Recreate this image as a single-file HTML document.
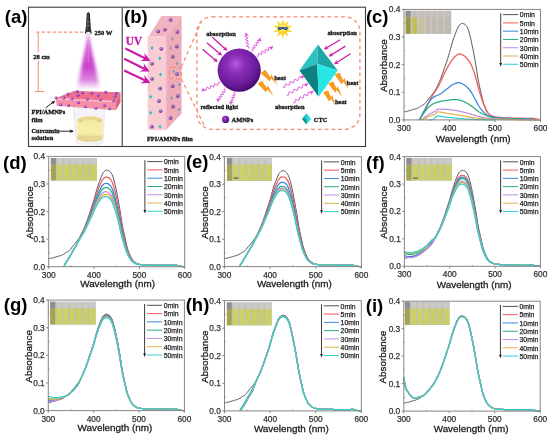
<!DOCTYPE html><html><head><meta charset="utf-8"><style>
html,body{margin:0;padding:0;background:#fff;overflow:hidden}
svg{display:block}
.tk{font-family:"Liberation Sans",Arial,sans-serif;font-size:8.3px;fill:#333;stroke:#333;stroke-width:0.25px}
.ax{font-family:"Liberation Sans",Arial,sans-serif;font-size:9.9px;fill:#222;stroke:#222;stroke-width:0.3px}
.lg{font-family:"Liberation Sans",Arial,sans-serif;font-size:7.5px;fill:#222;stroke:#222;stroke-width:0.25px}
.pl{font-family:"Liberation Sans",Arial,sans-serif;font-size:18.5px;font-weight:bold;fill:#000}
.sb{font-family:"Liberation Serif","Times New Roman",serif;font-weight:bold;fill:#111;stroke:#111;stroke-width:0.3px}
</style></head><body>
<svg width="550" height="438" viewBox="0 0 550 438">
<rect width="550" height="438" fill="#fff"/>
<rect x="405.6" y="10.8" width="45.6" height="23.2" fill="#cbc7c0"/>
<rect x="405.60" y="10.8" width="5.11" height="6.73" fill="#8e8e92"/>
<rect x="405.70" y="17.53" width="4.91" height="16.17" fill="#9a983f"/>
<rect x="412.11" y="10.8" width="5.11" height="6.73" fill="#c2bebb"/>
<rect x="412.21" y="17.53" width="4.91" height="16.17" fill="#c3bc5a"/>
<rect x="418.63" y="10.8" width="5.11" height="6.73" fill="#c2bebb"/>
<rect x="418.73" y="17.53" width="4.91" height="16.17" fill="#c5c19c"/>
<rect x="425.14" y="10.8" width="5.11" height="6.73" fill="#c2bebb"/>
<rect x="425.24" y="17.53" width="4.91" height="16.17" fill="#bfbcae"/>
<rect x="431.66" y="10.8" width="5.11" height="6.73" fill="#c2bebb"/>
<rect x="431.76" y="17.53" width="4.91" height="16.17" fill="#bebbb0"/>
<rect x="438.17" y="10.8" width="5.11" height="6.73" fill="#c2bebb"/>
<rect x="438.27" y="17.53" width="4.91" height="16.17" fill="#bdbab2"/>
<rect x="444.69" y="10.8" width="6.51" height="6.73" fill="#c2bebb"/>
<rect x="444.79" y="17.53" width="6.31" height="16.17" fill="#bdbab2"/>
<path d="M404.0,111.9 404.9,111.7 405.8,111.6 406.7,111.4 407.6,111.2 408.6,110.9 409.5,110.7 410.4,110.4 411.3,110.1 412.2,109.8 413.1,109.5 414.0,109.3 414.9,109.0 415.8,108.8 416.7,108.5 417.6,108.1 418.6,107.7 419.5,107.2 420.4,106.6 421.3,105.9 422.2,105.3 423.1,104.9 424.0,104.4 424.9,103.6 425.8,102.5 426.8,101.3 427.7,100.0 428.6,98.9 429.5,97.8 430.4,96.7 431.3,95.6 432.2,94.4 433.1,93.3 434.0,92.0 434.9,90.6 435.9,89.1 436.8,87.3 437.7,85.4 438.6,83.5 439.5,81.4 440.4,79.3 441.3,77.0 442.2,74.6 443.1,72.1 444.0,69.4 444.9,66.7 445.9,63.9 446.8,61.1 447.7,58.4 448.6,55.5 449.5,52.6 450.4,49.4 451.3,46.1 452.2,42.8 453.1,39.9 454.1,37.2 455.0,34.6 455.9,32.3 456.8,29.9 457.7,27.8 458.6,26.2 459.5,25.1 460.4,24.1 461.3,23.6 462.2,23.5 463.1,23.7 464.1,23.9 465.0,24.3 465.9,25.2 466.8,26.6 467.7,28.2 468.6,30.5 469.5,33.8 470.4,37.3 471.3,41.2 472.2,45.6 473.2,50.3 474.1,55.1 475.0,60.1 475.9,65.4 476.8,71.2 477.7,77.1 478.6,82.1 479.5,86.4 480.4,90.4 481.4,94.5 482.3,98.6 483.2,102.0 484.1,104.7 485.0,106.9 485.9,108.9 486.8,110.8 487.7,112.4 488.6,113.5 489.5,114.4 490.4,115.2 491.4,115.8 492.3,116.4 493.2,116.9 494.1,117.2 495.0,117.4 495.9,117.6 496.8,117.7 497.7,117.8 498.6,117.9 499.6,118.0 500.5,118.1 501.4,118.1 502.3,118.2 503.2,118.2 504.1,118.3 505.0,118.3 505.9,118.3 506.8,118.3 507.7,118.3 508.6,118.4 509.6,118.4 510.5,118.4 511.4,118.4 512.3,118.4 513.2,118.5 514.1,118.5 515.0,118.5 515.9,118.5 516.8,118.5 517.8,118.5 518.7,118.5 519.6,118.5 520.5,118.5 521.4,118.5 522.3,118.5 523.2,118.5 524.1,118.5 525.0,118.5 525.9,118.5 526.9,118.5 527.8,118.5 528.7,118.5 529.6,118.5 530.5,118.3 531.4,118.3 532.3,118.3 533.2,118.6 534.1,119.0 535.0,119.2 536.0,119.3 536.9,119.5 537.8,119.6 538.7,119.8 539.6,119.9 540.5,119.9" fill="none" stroke="#505050" stroke-width="0.95" stroke-linejoin="round"/>
<path d="M419.0,119.9 419.9,118.5 420.8,117.0 421.7,115.5 422.7,113.9 423.6,112.4 424.5,110.8 425.4,109.1 426.3,107.4 427.2,105.6 428.1,103.8 429.0,101.9 429.9,100.1 430.8,98.3 431.8,96.7 432.7,95.1 433.6,93.7 434.5,92.3 435.4,91.0 436.3,89.7 437.2,88.3 438.1,86.8 439.0,85.1 439.9,83.3 440.9,81.3 441.8,79.3 442.7,77.3 443.6,75.3 444.5,73.3 445.4,71.4 446.3,69.6 447.2,68.0 448.1,66.4 449.0,64.8 450.0,63.3 450.9,61.8 451.8,60.4 452.7,59.1 453.6,58.0 454.5,57.0 455.4,56.3 456.3,55.5 457.2,54.8 458.1,54.2 459.1,53.9 460.0,53.9 460.9,54.1 461.8,54.5 462.7,55.0 463.6,55.5 464.5,56.1 465.4,56.8 466.3,57.7 467.2,58.7 468.2,59.8 469.1,61.1 470.0,62.4 470.9,64.1 471.8,66.1 472.7,68.4 473.6,70.9 474.5,73.5 475.4,76.5 476.3,79.9 477.3,83.5 478.2,87.1 479.1,90.3 480.0,93.3 480.9,96.3 481.8,99.1 482.7,101.8 483.6,104.2 484.5,106.3 485.4,108.4 486.4,110.4 487.3,112.1 488.2,113.4 489.1,114.2 490.0,114.8 490.9,115.4 491.8,115.8 492.7,116.2 493.6,116.5 494.5,116.7 495.5,116.8 496.4,117.0 497.3,117.1 498.2,117.2 499.1,117.3 500.0,117.4 500.9,117.5 501.8,117.6 502.7,117.6 503.6,117.7 504.6,117.7 505.5,117.8 506.4,117.8 507.3,117.8 508.2,117.9 509.1,117.9 510.0,117.9 510.9,118.0 511.8,118.0 512.7,118.0 513.7,118.0 514.6,118.1 515.5,118.1 516.4,118.1 517.3,118.1 518.2,118.1 519.1,118.2 520.0,118.2 520.9,118.2 521.8,118.2 522.8,118.3 523.7,118.3 524.6,118.3 525.5,118.3 526.4,118.3 527.3,118.3 528.2,118.4 529.1,118.4 530.0,118.4 530.9,118.4 531.9,118.4 532.8,118.5 533.7,118.5 534.6,118.6 535.5,118.7 536.4,118.9 537.3,119.1 538.2,119.3 539.1,119.5 540.0,119.8" fill="none" stroke="#f25a5a" stroke-width="1.25" stroke-linejoin="round"/>
<path d="M419.7,119.9 420.6,118.0 421.5,116.1 422.4,114.2 423.3,112.4 424.2,110.6 425.2,108.8 426.1,106.9 427.0,105.1 427.9,103.5 428.8,102.2 429.7,101.1 430.6,100.0 431.5,99.0 432.4,98.2 433.3,97.4 434.3,96.8 435.2,96.3 436.1,95.9 437.0,95.5 437.9,95.2 438.8,94.8 439.7,94.3 440.6,93.8 441.5,93.2 442.4,92.5 443.4,91.8 444.3,91.0 445.2,90.3 446.1,89.5 447.0,88.8 447.9,88.2 448.8,87.5 449.7,86.8 450.6,86.1 451.5,85.4 452.5,84.8 453.4,84.3 454.3,83.9 455.2,83.5 456.1,83.1 457.0,82.8 457.9,82.6 458.8,82.7 459.7,82.8 460.6,83.1 461.6,83.5 462.5,84.0 463.4,84.4 464.3,84.9 465.2,85.5 466.1,86.2 467.0,87.1 467.9,88.0 468.8,89.0 469.7,90.1 470.7,91.3 471.6,92.7 472.5,94.3 473.4,96.0 474.3,97.7 475.2,99.3 476.1,100.9 477.0,102.6 477.9,104.4 478.8,106.0 479.8,107.5 480.7,108.8 481.6,109.9 482.5,111.0 483.4,111.9 484.3,112.8 485.2,113.5 486.1,114.2 487.0,114.8 487.9,115.3 488.9,115.8 489.8,116.2 490.7,116.6 491.6,116.8 492.5,117.0 493.4,117.2 494.3,117.3 495.2,117.5 496.1,117.6 497.0,117.7 498.0,117.8 498.9,117.9 499.8,118.0 500.7,118.0 501.6,118.1 502.5,118.2 503.4,118.2 504.3,118.3 505.2,118.3 506.1,118.3 507.1,118.3 508.0,118.4 508.9,118.4 509.8,118.4 510.7,118.4 511.6,118.5 512.5,118.5 513.4,118.5 514.3,118.5 515.2,118.5 516.2,118.5 517.1,118.6 518.0,118.6 518.9,118.6 519.8,118.6 520.7,118.6 521.6,118.6 522.5,118.7 523.4,118.7 524.3,118.7 525.3,118.7 526.2,118.8 527.1,118.8 528.0,118.8 528.9,118.9 529.8,118.9 530.7,119.0 531.6,119.1 532.5,119.1 533.4,119.2 534.4,119.3 535.3,119.4 536.2,119.5 537.1,119.6 538.0,119.6 538.9,119.7 539.8,119.8" fill="none" stroke="#3a86dc" stroke-width="1.25" stroke-linejoin="round"/>
<path d="M419.7,119.9 420.6,118.3 421.5,116.8 422.4,115.4 423.3,114.0 424.2,112.7 425.2,111.4 426.1,110.1 427.0,108.9 427.9,107.8 428.8,107.0 429.7,106.3 430.6,105.6 431.5,104.9 432.4,104.3 433.3,103.8 434.3,103.3 435.2,102.9 436.1,102.6 437.0,102.3 437.9,102.0 438.8,101.8 439.7,101.6 440.6,101.4 441.5,101.2 442.4,101.0 443.4,100.9 444.3,100.7 445.2,100.6 446.1,100.5 447.0,100.3 447.9,100.2 448.8,100.1 449.7,99.9 450.6,99.8 451.5,99.7 452.5,99.6 453.4,99.6 454.3,99.5 455.2,99.5 456.1,99.5 457.0,99.5 457.9,99.7 458.8,99.9 459.7,100.1 460.6,100.4 461.6,100.7 462.5,101.1 463.4,101.4 464.3,101.8 465.2,102.2 466.1,102.6 467.0,103.2 467.9,103.7 468.8,104.3 469.7,105.0 470.7,105.6 471.6,106.2 472.5,106.8 473.4,107.5 474.3,108.3 475.2,109.0 476.1,109.7 477.0,110.5 477.9,111.1 478.8,111.7 479.8,112.3 480.7,112.8 481.6,113.3 482.5,113.8 483.4,114.3 484.3,114.7 485.2,115.1 486.1,115.5 487.0,115.8 487.9,116.1 488.9,116.5 489.8,116.7 490.7,117.0 491.6,117.2 492.5,117.4 493.4,117.6 494.3,117.7 495.2,117.8 496.1,117.9 497.0,118.0 498.0,118.0 498.9,118.1 499.8,118.2 500.7,118.2 501.6,118.3 502.5,118.3 503.4,118.4 504.3,118.4 505.2,118.5 506.1,118.5 507.1,118.5 508.0,118.6 508.9,118.6 509.8,118.6 510.7,118.7 511.6,118.7 512.5,118.8 513.4,118.8 514.3,118.8 515.2,118.9 516.2,118.9 517.1,119.0 518.0,119.0 518.9,119.1 519.8,119.1 520.7,119.1 521.6,119.2 522.5,119.2 523.4,119.3 524.3,119.3 525.3,119.3 526.2,119.4 527.1,119.4 528.0,119.5 528.9,119.5 529.8,119.5 530.7,119.6 531.6,119.6 532.5,119.6 533.4,119.7 534.4,119.7 535.3,119.7 536.2,119.8 537.1,119.8 538.0,119.8 538.9,119.9 539.8,119.9" fill="none" stroke="#25b07a" stroke-width="1.25" stroke-linejoin="round"/>
<path d="M421.3,119.9 422.2,119.2 423.1,118.4 424.0,117.8 424.9,117.1 425.8,116.4 426.8,115.8 427.7,115.2 428.6,114.7 429.5,114.1 430.4,113.6 431.3,113.2 432.2,112.8 433.1,112.3 434.0,111.8 434.9,111.3 435.9,110.7 436.8,109.9 437.7,109.2 438.6,109.1 439.5,109.1 440.4,109.1 441.3,109.2 442.2,109.2 443.1,109.2 444.0,109.3 444.9,109.3 445.9,109.3 446.8,109.4 447.7,109.4 448.6,109.5 449.5,109.6 450.4,109.7 451.3,109.8 452.2,109.9 453.1,110.1 454.1,110.2 455.0,110.4 455.9,110.6 456.8,110.7 457.7,110.9 458.6,111.1 459.5,111.2 460.4,111.4 461.3,111.6 462.2,111.8 463.1,112.0 464.1,112.3 465.0,112.5 465.9,112.7 466.8,113.0 467.7,113.2 468.6,113.5 469.5,113.7 470.4,113.9 471.3,114.2 472.2,114.5 473.2,114.8 474.1,115.1 475.0,115.4 475.9,115.7 476.8,116.0 477.7,116.2 478.6,116.5 479.5,116.7 480.4,116.9 481.4,117.1 482.3,117.2 483.2,117.4 484.1,117.5 485.0,117.7 485.9,117.8 486.8,117.9 487.7,118.1 488.6,118.2 489.5,118.3 490.4,118.4 491.4,118.4 492.3,118.5 493.2,118.5 494.1,118.6 495.0,118.6 495.9,118.7 496.8,118.7 497.7,118.8 498.6,118.8 499.6,118.9 500.5,118.9 501.4,119.0 502.3,119.0 503.2,119.0 504.1,119.1 505.0,119.1 505.9,119.2 506.8,119.2 507.7,119.2 508.6,119.3 509.6,119.3 510.5,119.3 511.4,119.4 512.3,119.4 513.2,119.4 514.1,119.5 515.0,119.5 515.9,119.5 516.8,119.5 517.8,119.6 518.7,119.6 519.6,119.6 520.5,119.6 521.4,119.7 522.3,119.7 523.2,119.7 524.1,119.7 525.0,119.7 525.9,119.8 526.9,119.8 527.8,119.8 528.7,119.8 529.6,119.8 530.5,119.8 531.4,119.8 532.3,119.9 533.2,119.9 534.1,119.9 535.0,119.9 536.0,119.9 536.9,119.9 537.8,119.9 538.7,119.9 539.6,119.9 540.5,119.9" fill="none" stroke="#c68ae6" stroke-width="1.25" stroke-linejoin="round"/>
<path d="M422.2,119.9 423.1,119.4 424.0,118.9 424.9,118.4 425.8,117.9 426.8,117.5 427.7,117.0 428.6,116.6 429.5,116.2 430.4,115.9 431.3,115.5 432.2,115.2 433.1,114.9 434.0,114.5 434.9,114.1 435.9,113.5 436.8,112.4 437.7,111.9 438.6,111.9 439.5,112.0 440.4,112.1 441.3,112.2 442.2,112.4 443.1,112.5 444.0,112.7 444.9,112.9 445.9,113.0 446.8,113.2 447.7,113.3 448.6,113.5 449.5,113.6 450.4,113.8 451.3,113.9 452.2,114.1 453.1,114.2 454.1,114.4 455.0,114.5 455.9,114.7 456.8,114.8 457.7,115.0 458.6,115.1 459.5,115.3 460.4,115.5 461.3,115.6 462.2,115.8 463.1,115.9 464.1,116.1 465.0,116.2 465.9,116.4 466.8,116.6 467.7,116.8 468.6,116.9 469.5,117.1 470.4,117.3 471.3,117.4 472.2,117.6 473.2,117.7 474.1,117.9 475.0,118.0 475.9,118.1 476.8,118.2 477.7,118.3 478.6,118.4 479.5,118.4 480.4,118.5 481.4,118.6 482.3,118.7 483.2,118.7 484.1,118.8 485.0,118.9 485.9,118.9 486.8,119.0 487.7,119.0 488.6,119.1 489.5,119.1 490.4,119.2 491.4,119.2 492.3,119.3 493.2,119.3 494.1,119.3 495.0,119.3 495.9,119.4 496.8,119.4 497.7,119.4 498.6,119.4 499.6,119.4 500.5,119.5 501.4,119.5 502.3,119.5 503.2,119.5 504.1,119.5 505.0,119.6 505.9,119.6 506.8,119.6 507.7,119.6 508.6,119.6 509.6,119.6 510.5,119.6 511.4,119.7 512.3,119.7 513.2,119.7 514.1,119.7 515.0,119.7 515.9,119.7 516.8,119.7 517.8,119.8 518.7,119.8 519.6,119.8 520.5,119.8 521.4,119.8 522.3,119.8 523.2,119.8 524.1,119.8 525.0,119.8 525.9,119.8 526.9,119.8 527.8,119.9 528.7,119.9 529.6,119.9 530.5,119.9 531.4,119.9 532.3,119.9 533.2,119.9 534.1,119.9 535.0,119.9 536.0,119.9 536.9,119.9 537.8,119.9 538.7,119.9 539.6,119.9 540.5,119.9" fill="none" stroke="#e2b24a" stroke-width="1.25" stroke-linejoin="round"/>
<path d="M428.6,119.9 429.5,119.9 430.4,119.8 431.3,119.7 432.2,119.5 433.1,119.3 434.0,119.1 434.9,118.2 435.9,116.8 436.8,115.8 437.7,115.8 438.6,115.9 439.5,116.1 440.4,116.3 441.3,116.5 442.2,116.6 443.1,116.8 444.0,116.9 444.9,117.0 445.9,117.1 446.8,117.2 447.7,117.3 448.6,117.4 449.5,117.4 450.4,117.5 451.3,117.6 452.2,117.7 453.1,117.8 454.1,117.9 455.0,117.9 455.9,118.0 456.8,118.1 457.7,118.2 458.6,118.3 459.5,118.4 460.4,118.5 461.3,118.5 462.2,118.6 463.1,118.7 464.1,118.8 465.0,118.9 465.9,119.0 466.8,119.0 467.7,119.1 468.6,119.2 469.5,119.2 470.4,119.3 471.3,119.3 472.2,119.4 473.2,119.4 474.1,119.4 475.0,119.5 475.9,119.5 476.8,119.5 477.7,119.6 478.6,119.6 479.5,119.6 480.4,119.7 481.4,119.7 482.3,119.7 483.2,119.7 484.1,119.8 485.0,119.8 485.9,119.8 486.8,119.8 487.7,119.8 488.6,119.8 489.5,119.9 490.4,119.9 491.4,119.9 492.3,119.9 493.2,119.9 494.1,119.9 495.0,119.9" fill="none" stroke="#2fd0d4" stroke-width="1.25" stroke-linejoin="round"/>
<rect x="404.0" y="9.4" width="136.50" height="110.50" fill="none" stroke="#858585" stroke-width="1"/>
<line x1="401.8" y1="119.90" x2="404.0" y2="119.90" stroke="#858585" stroke-width="1"/>
<text x="400.40" y="122.90" text-anchor="end" class="tk">0.0</text>
<line x1="404.0" y1="106.09" x2="405.3" y2="106.09" stroke="#858585" stroke-width="0.8"/>
<line x1="401.8" y1="92.28" x2="404.0" y2="92.28" stroke="#858585" stroke-width="1"/>
<text x="400.40" y="95.28" text-anchor="end" class="tk">0.1</text>
<line x1="404.0" y1="78.46" x2="405.3" y2="78.46" stroke="#858585" stroke-width="0.8"/>
<line x1="401.8" y1="64.65" x2="404.0" y2="64.65" stroke="#858585" stroke-width="1"/>
<text x="400.40" y="67.65" text-anchor="end" class="tk">0.2</text>
<line x1="404.0" y1="50.84" x2="405.3" y2="50.84" stroke="#858585" stroke-width="0.8"/>
<line x1="401.8" y1="37.02" x2="404.0" y2="37.02" stroke="#858585" stroke-width="1"/>
<text x="400.40" y="40.02" text-anchor="end" class="tk">0.3</text>
<line x1="404.0" y1="23.21" x2="405.3" y2="23.21" stroke="#858585" stroke-width="0.8"/>
<line x1="401.8" y1="9.40" x2="404.0" y2="9.40" stroke="#858585" stroke-width="1"/>
<text x="400.40" y="12.40" text-anchor="end" class="tk">0.4</text>
<line x1="404.00" y1="119.9" x2="404.00" y2="122.10000000000001" stroke="#858585" stroke-width="1"/>
<text x="404.00" y="130.80" text-anchor="middle" class="tk">300</text>
<line x1="426.75" y1="119.9" x2="426.75" y2="118.60000000000001" stroke="#858585" stroke-width="0.8"/>
<line x1="449.50" y1="119.9" x2="449.50" y2="122.10000000000001" stroke="#858585" stroke-width="1"/>
<text x="449.50" y="130.80" text-anchor="middle" class="tk">400</text>
<line x1="472.25" y1="119.9" x2="472.25" y2="118.60000000000001" stroke="#858585" stroke-width="0.8"/>
<line x1="495.00" y1="119.9" x2="495.00" y2="122.10000000000001" stroke="#858585" stroke-width="1"/>
<text x="495.00" y="130.80" text-anchor="middle" class="tk">500</text>
<line x1="517.75" y1="119.9" x2="517.75" y2="118.60000000000001" stroke="#858585" stroke-width="0.8"/>
<line x1="540.50" y1="119.9" x2="540.50" y2="122.10000000000001" stroke="#858585" stroke-width="1"/>
<text x="540.50" y="130.80" text-anchor="middle" class="tk">600</text>
<text transform="translate(387.00,65.65) rotate(-90)" text-anchor="middle" class="ax">Absorbance</text>
<text x="473.25" y="141.50" text-anchor="middle" class="ax">Wavelength (nm)</text>
<line x1="500.70" y1="13.20" x2="500.70" y2="63.90" stroke="#333" stroke-width="0.95"/>
<path d="M499.30,62.90 L502.10,62.90 L500.70,66.40 Z" fill="#222"/>
<line x1="503.00" y1="14.60" x2="518.20" y2="14.60" stroke="#505050" stroke-width="1"/>
<text x="519.80" y="17.40" class="lg" textLength="14.96" lengthAdjust="spacingAndGlyphs">0min</text>
<line x1="503.00" y1="22.88" x2="518.20" y2="22.88" stroke="#f25a5a" stroke-width="1"/>
<text x="519.80" y="25.68" class="lg" textLength="14.96" lengthAdjust="spacingAndGlyphs">5min</text>
<line x1="503.00" y1="31.16" x2="518.20" y2="31.16" stroke="#3a86dc" stroke-width="1"/>
<text x="519.80" y="33.96" class="lg" textLength="18.79" lengthAdjust="spacingAndGlyphs">10min</text>
<line x1="503.00" y1="39.44" x2="518.20" y2="39.44" stroke="#25b07a" stroke-width="1"/>
<text x="519.80" y="42.24" class="lg" textLength="18.79" lengthAdjust="spacingAndGlyphs">20min</text>
<line x1="503.00" y1="47.72" x2="518.20" y2="47.72" stroke="#c68ae6" stroke-width="1"/>
<text x="519.80" y="50.52" class="lg" textLength="18.79" lengthAdjust="spacingAndGlyphs">30min</text>
<line x1="503.00" y1="56.00" x2="518.20" y2="56.00" stroke="#e2b24a" stroke-width="1"/>
<text x="519.80" y="58.80" class="lg" textLength="18.79" lengthAdjust="spacingAndGlyphs">40min</text>
<line x1="503.00" y1="64.28" x2="518.20" y2="64.28" stroke="#2fd0d4" stroke-width="1"/>
<text x="519.80" y="67.08" class="lg" textLength="18.79" lengthAdjust="spacingAndGlyphs">50min</text>
<text x="365.9" y="22.6" class="pl">(c)</text>
<rect x="50.8" y="158.0" width="46.2" height="22.7" fill="#c2c0ae"/>
<rect x="50.80" y="158.0" width="5.20" height="6.58" fill="#8e8e92"/>
<rect x="50.90" y="164.58" width="5.00" height="15.82" fill="#a4a44e"/>
<rect x="57.40" y="158.0" width="5.20" height="6.58" fill="#cdc9c9"/>
<rect x="57.50" y="164.58" width="5.00" height="15.82" fill="#cbd162"/>
<rect x="64.00" y="158.0" width="5.20" height="6.58" fill="#cdc9c9"/>
<rect x="64.10" y="164.58" width="5.00" height="15.82" fill="#ccd264"/>
<rect x="70.60" y="158.0" width="5.20" height="6.58" fill="#cdc9c9"/>
<rect x="70.70" y="164.58" width="5.00" height="15.82" fill="#cbd162"/>
<rect x="77.20" y="158.0" width="5.20" height="6.58" fill="#cdc9c9"/>
<rect x="77.30" y="164.58" width="5.00" height="15.82" fill="#cacf64"/>
<rect x="83.80" y="158.0" width="5.20" height="6.58" fill="#cdc9c9"/>
<rect x="83.90" y="164.58" width="5.00" height="15.82" fill="#c9ce66"/>
<rect x="90.40" y="158.0" width="6.60" height="6.58" fill="#cdc9c9"/>
<rect x="90.50" y="164.58" width="6.40" height="15.82" fill="#cacf68"/>
<path d="M48.7,258.7 49.6,258.6 50.5,258.4 51.4,258.2 52.3,258.0 53.2,257.8 54.1,257.5 55.0,257.2 56.0,256.9 56.9,256.6 57.8,256.4 58.7,256.1 59.6,255.9 60.5,255.6 61.4,255.3 62.3,254.9 63.2,254.5 64.1,254.0 65.0,253.4 65.9,252.7 66.8,252.1 67.7,251.7 68.6,251.3 69.6,250.4 70.5,249.3 71.4,248.1 72.3,246.8 73.2,245.7 74.1,244.6 75.0,243.6 75.9,242.4 76.8,241.3 77.7,240.1 78.6,238.9 79.5,237.5 80.4,235.9 81.3,234.1 82.2,232.3 83.2,230.3 84.1,228.3 85.0,226.1 85.9,223.8 86.8,221.5 87.7,219.0 88.6,216.3 89.5,213.5 90.4,210.7 91.3,208.0 92.2,205.2 93.1,202.4 94.0,199.4 94.9,196.2 95.8,192.9 96.8,189.6 97.7,186.7 98.6,184.0 99.5,181.4 100.4,179.0 101.3,176.7 102.2,174.5 103.1,172.9 104.0,171.8 104.9,170.9 105.8,170.3 106.7,170.2 107.6,170.3 108.5,170.6 109.4,171.0 110.4,171.9 111.3,173.2 112.2,174.9 113.1,177.2 114.0,180.4 114.9,184.0 115.8,187.9 116.7,192.3 117.6,196.9 118.5,201.7 119.4,206.8 120.3,212.1 121.2,217.9 122.1,223.8 123.0,228.8 124.0,233.1 124.9,237.1 125.8,241.2 126.7,245.3 127.6,248.8 128.5,251.4 129.4,253.7 130.3,255.7 131.2,257.5 132.1,259.2 133.0,260.3 133.9,261.2 134.8,262.0 135.7,262.6 136.6,263.2 137.6,263.7 138.5,263.9 139.4,264.2 140.3,264.4 141.2,264.5 142.1,264.6 143.0,264.7 143.9,264.8 144.8,264.9 145.7,264.9 146.6,265.0 147.5,265.0 148.4,265.1 149.3,265.1 150.2,265.1 151.2,265.1 152.1,265.2 153.0,265.2 153.9,265.2 154.8,265.2 155.7,265.2 156.6,265.2 157.5,265.3 158.4,265.3 159.3,265.3 160.2,265.3 161.1,265.3 162.0,265.3 162.9,265.3 163.8,265.3 164.8,265.3 165.7,265.3 166.6,265.3 167.5,265.3 168.4,265.3 169.3,265.3 170.2,265.3 171.1,265.3 172.0,265.3 172.9,265.3 173.8,265.3 174.7,265.2 175.6,265.1 176.5,265.1 177.4,265.4 178.4,265.7 179.3,266.0 180.2,266.1 181.1,266.3 182.0,266.4 182.9,266.6 183.8,266.7 184.7,266.7" fill="none" stroke="#505050" stroke-width="0.95" stroke-linejoin="round"/>
<path d="M64.1,265.9 65.0,264.4 65.9,262.8 66.8,261.3 67.7,259.9 68.6,258.4 69.6,256.8 70.5,255.3 71.4,253.7 72.3,252.1 73.2,250.5 74.1,248.9 75.0,247.3 75.9,245.7 76.8,244.1 77.7,242.5 78.6,240.8 79.5,238.8 80.4,236.7 81.3,234.7 82.2,232.9 83.2,231.0 84.1,229.1 85.0,227.0 85.9,224.9 86.8,222.6 87.7,220.2 88.6,217.7 89.5,215.2 90.4,212.6 91.3,210.1 92.2,207.5 93.1,204.9 94.0,202.1 94.9,199.1 95.8,196.1 96.8,193.3 97.7,190.7 98.6,188.4 99.5,186.1 100.4,184.0 101.3,182.0 102.2,180.2 103.1,179.1 104.0,178.1 104.9,177.4 105.8,177.1 106.7,177.1 107.6,177.3 108.5,177.6 109.4,178.1 110.4,179.1 111.3,180.5 112.2,182.1 113.1,184.6 114.0,187.7 114.9,191.0 115.8,194.7 116.7,198.9 117.6,203.1 118.5,207.6 119.4,212.4 120.3,217.4 121.2,222.9 122.1,228.1 123.0,232.4 124.0,236.3 124.9,240.0 125.8,243.9 126.7,247.6 127.6,250.5 128.5,252.9 129.4,254.9 130.3,256.8 131.2,258.5 132.1,259.9 133.0,260.9 133.9,261.7 134.8,262.3 135.7,263.0 136.6,263.5 137.6,263.8 138.5,264.1 139.4,264.3 140.3,264.5 141.2,264.6 142.1,264.7 143.0,264.8 143.9,264.8 144.8,264.9 145.7,265.0 146.6,265.0 147.5,265.1 148.4,265.1 149.3,265.1 150.2,265.1 151.2,265.2 152.1,265.2 153.0,265.2 153.9,265.2 154.8,265.2 155.7,265.2 156.6,265.3 157.5,265.3 158.4,265.3 159.3,265.3 160.2,265.3 161.1,265.3 162.0,265.3 162.9,265.3 163.8,265.3 164.8,265.3 165.7,265.3 166.6,265.3 167.5,265.3 168.4,265.3 169.3,265.3 170.2,265.3 171.1,265.3 172.0,265.3 172.9,265.3 173.8,265.2 174.7,265.1 175.6,265.1 176.5,265.2 177.4,265.6 178.4,265.9 179.3,266.0 180.2,266.2 181.1,266.4 182.0,266.5 182.9,266.6 183.8,266.7 184.7,266.7" fill="none" stroke="#f25a5a" stroke-width="1.25" stroke-linejoin="round"/>
<path d="M64.1,265.9 65.0,264.4 65.9,262.8 66.8,261.3 67.7,259.9 68.6,258.4 69.6,256.8 70.5,255.3 71.4,253.7 72.3,252.1 73.2,250.5 74.1,248.9 75.0,247.3 75.9,245.7 76.8,244.1 77.7,242.5 78.6,240.8 79.5,238.9 80.4,237.1 81.3,235.3 82.2,233.6 83.2,231.8 84.1,230.0 85.0,228.0 85.9,226.0 86.8,223.8 87.7,221.6 88.6,219.2 89.5,216.9 90.4,214.5 91.3,212.2 92.2,209.9 93.1,207.4 94.0,204.8 94.9,202.1 95.8,199.4 96.8,197.0 97.7,194.7 98.6,192.6 99.5,190.7 100.4,188.8 101.3,187.1 102.2,185.7 103.1,184.8 104.0,184.0 104.9,183.5 105.8,183.4 106.7,183.5 107.6,183.7 108.5,184.0 109.4,184.7 110.4,185.7 111.3,187.0 112.2,188.7 113.1,191.3 114.0,194.1 114.9,197.2 115.8,200.8 116.7,204.6 117.6,208.5 118.5,212.7 119.4,217.2 120.3,222.0 121.2,227.1 122.1,231.6 123.0,235.4 124.0,238.9 124.9,242.5 125.8,246.2 126.7,249.5 127.6,252.0 128.5,254.1 129.4,256.0 130.3,257.7 131.2,259.3 132.1,260.4 133.0,261.3 133.9,262.0 134.8,262.7 135.7,263.3 136.6,263.7 137.6,264.0 138.5,264.2 139.4,264.4 140.3,264.5 141.2,264.6 142.1,264.7 143.0,264.8 143.9,264.9 144.8,265.0 145.7,265.0 146.6,265.1 147.5,265.1 148.4,265.1 149.3,265.1 150.2,265.2 151.2,265.2 152.1,265.2 153.0,265.2 153.9,265.2 154.8,265.2 155.7,265.3 156.6,265.3 157.5,265.3 158.4,265.3 159.3,265.3 160.2,265.3 161.1,265.3 162.0,265.3 162.9,265.3 163.8,265.3 164.8,265.3 165.7,265.3 166.6,265.3 167.5,265.3 168.4,265.3 169.3,265.3 170.2,265.3 171.1,265.3 172.0,265.3 172.9,265.3 173.8,265.2 174.7,265.1 175.6,265.1 176.5,265.4 177.4,265.7 178.4,266.0 179.3,266.1 180.2,266.3 181.1,266.4 182.0,266.6 182.9,266.6 183.8,266.7 184.7,266.7" fill="none" stroke="#3a86dc" stroke-width="1.25" stroke-linejoin="round"/>
<path d="M64.1,265.9 65.0,264.4 65.9,262.8 66.8,261.3 67.7,259.9 68.6,258.4 69.6,256.8 70.5,255.3 71.4,253.7 72.3,252.1 73.2,250.5 74.1,248.9 75.0,247.3 75.9,245.7 76.8,244.1 77.7,242.4 78.6,240.8 79.5,239.1 80.4,237.4 81.3,235.7 82.2,234.1 83.2,232.4 84.1,230.6 85.0,228.7 85.9,226.8 86.8,224.7 87.7,222.5 88.6,220.3 89.5,218.1 90.4,215.9 91.3,213.7 92.2,211.5 93.1,209.2 94.0,206.7 94.9,204.1 95.8,201.7 96.8,199.5 97.7,197.4 98.6,195.6 99.5,193.8 100.4,192.1 101.3,190.5 102.2,189.5 103.1,188.6 104.0,188.0 104.9,187.6 105.8,187.6 106.7,187.7 107.6,187.9 108.5,188.2 109.4,188.9 110.4,190.0 111.3,191.2 112.2,193.0 113.1,195.5 114.0,198.2 114.9,201.2 115.8,204.6 116.7,208.1 117.6,211.9 118.5,215.9 119.4,220.1 120.3,224.9 121.2,229.6 122.1,233.6 123.0,237.2 124.0,240.6 124.9,244.1 125.8,247.6 126.7,250.5 127.6,252.8 128.5,254.8 129.4,256.6 130.3,258.3 131.2,259.7 132.1,260.8 133.0,261.6 133.9,262.2 134.8,262.9 135.7,263.4 136.6,263.8 137.6,264.1 138.5,264.3 139.4,264.4 140.3,264.6 141.2,264.7 142.1,264.8 143.0,264.9 143.9,264.9 144.8,265.0 145.7,265.0 146.6,265.1 147.5,265.1 148.4,265.1 149.3,265.1 150.2,265.2 151.2,265.2 152.1,265.2 153.0,265.2 153.9,265.2 154.8,265.3 155.7,265.3 156.6,265.3 157.5,265.3 158.4,265.3 159.3,265.3 160.2,265.3 161.1,265.3 162.0,265.3 162.9,265.3 163.8,265.3 164.8,265.4 165.7,265.4 166.6,265.4 167.5,265.4 168.4,265.4 169.3,265.4 170.2,265.4 171.1,265.4 172.0,265.3 172.9,265.3 173.8,265.2 174.7,265.1 175.6,265.2 176.5,265.5 177.4,265.8 178.4,266.0 179.3,266.2 180.2,266.3 181.1,266.5 182.0,266.6 182.9,266.7 183.8,266.7 184.7,266.7" fill="none" stroke="#25b07a" stroke-width="1.25" stroke-linejoin="round"/>
<path d="M64.1,265.9 65.0,264.4 65.9,262.8 66.8,261.3 67.7,259.9 68.6,258.4 69.6,256.8 70.5,255.3 71.4,253.7 72.3,252.1 73.2,250.5 74.1,248.9 75.0,247.3 75.9,245.7 76.8,244.1 77.7,242.4 78.6,240.8 79.5,239.2 80.4,237.7 81.3,236.2 82.2,234.6 83.2,233.0 84.1,231.2 85.0,229.4 85.9,227.6 86.8,225.6 87.7,223.5 88.6,221.4 89.5,219.4 90.4,217.3 91.3,215.3 92.2,213.2 93.1,211.0 94.0,208.6 94.9,206.3 95.8,204.1 96.8,202.1 97.7,200.3 98.6,198.6 99.5,197.0 100.4,195.4 101.3,194.1 102.2,193.2 103.1,192.5 104.0,191.9 104.9,191.7 105.8,191.7 106.7,191.9 107.6,192.0 108.5,192.4 109.4,193.2 110.4,194.2 111.3,195.4 112.2,197.3 113.1,199.6 114.0,202.1 114.9,205.0 115.8,208.2 116.7,211.6 117.6,215.2 118.5,219.0 119.4,223.0 120.3,227.6 121.2,231.9 122.1,235.6 123.0,238.9 124.0,242.2 124.9,245.6 125.8,248.9 126.7,251.5 127.6,253.6 128.5,255.5 129.4,257.2 130.3,258.8 131.2,260.1 132.1,261.1 133.0,261.8 133.9,262.5 134.8,263.1 135.7,263.6 136.6,263.9 137.6,264.2 138.5,264.3 139.4,264.5 140.3,264.6 141.2,264.7 142.1,264.8 143.0,264.9 143.9,265.0 144.8,265.0 145.7,265.1 146.6,265.1 147.5,265.1 148.4,265.1 149.3,265.2 150.2,265.2 151.2,265.2 152.1,265.2 153.0,265.2 153.9,265.3 154.8,265.3 155.7,265.3 156.6,265.3 157.5,265.3 158.4,265.3 159.3,265.3 160.2,265.3 161.1,265.3 162.0,265.4 162.9,265.4 163.8,265.4 164.8,265.4 165.7,265.4 166.6,265.4 167.5,265.4 168.4,265.4 169.3,265.4 170.2,265.4 171.1,265.4 172.0,265.3 172.9,265.3 173.8,265.2 174.7,265.1 175.6,265.2 176.5,265.6 177.4,265.9 178.4,266.1 179.3,266.2 180.2,266.4 181.1,266.5 182.0,266.6 182.9,266.7 183.8,266.7 184.7,266.7" fill="none" stroke="#c68ae6" stroke-width="1.25" stroke-linejoin="round"/>
<path d="M64.1,265.9 65.0,264.4 65.9,262.8 66.8,261.3 67.7,259.9 68.6,258.4 69.6,256.8 70.5,255.3 71.4,253.7 72.3,252.1 73.2,250.5 74.1,248.9 75.0,247.3 75.9,245.7 76.8,244.1 77.7,242.4 78.6,240.8 79.5,239.3 80.4,238.0 81.3,236.5 82.2,235.0 83.2,233.4 84.1,231.7 85.0,230.0 85.9,228.1 86.8,226.2 87.7,224.2 88.6,222.2 89.5,220.3 90.4,218.3 91.3,216.4 92.2,214.4 93.1,212.2 94.0,210.0 94.9,207.8 95.8,205.7 96.8,203.9 97.7,202.2 98.6,200.6 99.5,199.1 100.4,197.7 101.3,196.5 102.2,195.7 103.1,195.1 104.0,194.6 104.9,194.5 105.8,194.5 106.7,194.6 107.6,194.8 108.5,195.3 109.4,196.0 110.4,197.0 111.3,198.2 112.2,200.1 113.1,202.3 114.0,204.7 114.9,207.5 115.8,210.6 116.7,213.8 117.6,217.2 118.5,220.9 119.4,224.9 120.3,229.3 121.2,233.4 122.1,236.8 123.0,240.0 124.0,243.2 124.9,246.5 125.8,249.7 126.7,252.1 127.6,254.1 128.5,255.9 129.4,257.6 130.3,259.2 131.2,260.4 132.1,261.2 133.0,262.0 133.9,262.6 134.8,263.2 135.7,263.7 136.6,264.0 137.6,264.2 138.5,264.4 139.4,264.5 140.3,264.6 141.2,264.7 142.1,264.8 143.0,264.9 143.9,265.0 144.8,265.0 145.7,265.1 146.6,265.1 147.5,265.1 148.4,265.1 149.3,265.2 150.2,265.2 151.2,265.2 152.1,265.2 153.0,265.2 153.9,265.3 154.8,265.3 155.7,265.3 156.6,265.3 157.5,265.3 158.4,265.3 159.3,265.3 160.2,265.3 161.1,265.4 162.0,265.4 162.9,265.4 163.8,265.4 164.8,265.4 165.7,265.4 166.6,265.4 167.5,265.4 168.4,265.4 169.3,265.4 170.2,265.4 171.1,265.4 172.0,265.3 172.9,265.2 173.8,265.1 174.7,265.1 175.6,265.3 176.5,265.6 177.4,265.9 178.4,266.1 179.3,266.2 180.2,266.4 181.1,266.5 182.0,266.6 182.9,266.7 183.8,266.7 184.7,266.7" fill="none" stroke="#e2b24a" stroke-width="1.25" stroke-linejoin="round"/>
<path d="M64.1,265.9 65.0,264.4 65.9,262.8 66.8,261.3 67.7,259.9 68.6,258.4 69.6,256.8 70.5,255.3 71.4,253.7 72.3,252.1 73.2,250.5 74.1,248.9 75.0,247.3 75.9,245.7 76.8,244.1 77.7,242.4 78.6,240.8 79.5,239.4 80.4,238.2 81.3,236.8 82.2,235.3 83.2,233.7 84.1,232.1 85.0,230.4 85.9,228.6 86.8,226.7 87.7,224.8 88.6,222.9 89.5,221.0 90.4,219.1 91.3,217.2 92.2,215.3 93.1,213.3 94.0,211.1 94.9,209.0 95.8,207.1 96.8,205.4 97.7,203.8 98.6,202.3 99.5,200.9 100.4,199.5 101.3,198.5 102.2,197.8 103.1,197.2 104.0,196.8 104.9,196.7 105.8,196.7 106.7,196.9 107.6,197.0 108.5,197.5 109.4,198.2 110.4,199.2 111.3,200.4 112.2,202.3 113.1,204.4 114.0,206.8 114.9,209.5 115.8,212.4 116.7,215.5 117.6,218.9 118.5,222.4 119.4,226.4 120.3,230.6 121.2,234.5 122.1,237.8 123.0,240.8 124.0,244.0 124.9,247.3 125.8,250.3 126.7,252.6 127.6,254.5 128.5,256.3 129.4,257.9 130.3,259.4 131.2,260.6 132.1,261.4 133.0,262.1 133.9,262.7 134.8,263.3 135.7,263.7 136.6,264.0 137.6,264.2 138.5,264.4 139.4,264.6 140.3,264.7 141.2,264.8 142.1,264.8 143.0,264.9 143.9,265.0 144.8,265.0 145.7,265.1 146.6,265.1 147.5,265.1 148.4,265.2 149.3,265.2 150.2,265.2 151.2,265.2 152.1,265.2 153.0,265.3 153.9,265.3 154.8,265.3 155.7,265.3 156.6,265.3 157.5,265.3 158.4,265.3 159.3,265.3 160.2,265.4 161.1,265.4 162.0,265.4 162.9,265.4 163.8,265.4 164.8,265.4 165.7,265.4 166.6,265.4 167.5,265.4 168.4,265.4 169.3,265.4 170.2,265.4 171.1,265.4 172.0,265.3 172.9,265.2 173.8,265.1 174.7,265.1 175.6,265.3 176.5,265.7 177.4,265.9 178.4,266.1 179.3,266.3 180.2,266.4 181.1,266.5 182.0,266.6 182.9,266.7 183.8,266.7 184.7,266.7" fill="none" stroke="#2fd0d4" stroke-width="1.25" stroke-linejoin="round"/>
<rect x="48.7" y="156.4" width="136.00" height="110.30" fill="none" stroke="#858585" stroke-width="1"/>
<line x1="46.5" y1="266.70" x2="48.7" y2="266.70" stroke="#858585" stroke-width="1"/>
<text x="45.10" y="269.70" text-anchor="end" class="tk">0.0</text>
<line x1="48.7" y1="252.91" x2="50.0" y2="252.91" stroke="#858585" stroke-width="0.8"/>
<line x1="46.5" y1="239.12" x2="48.7" y2="239.12" stroke="#858585" stroke-width="1"/>
<text x="45.10" y="242.12" text-anchor="end" class="tk">0.1</text>
<line x1="48.7" y1="225.34" x2="50.0" y2="225.34" stroke="#858585" stroke-width="0.8"/>
<line x1="46.5" y1="211.55" x2="48.7" y2="211.55" stroke="#858585" stroke-width="1"/>
<text x="45.10" y="214.55" text-anchor="end" class="tk">0.2</text>
<line x1="48.7" y1="197.76" x2="50.0" y2="197.76" stroke="#858585" stroke-width="0.8"/>
<line x1="46.5" y1="183.97" x2="48.7" y2="183.97" stroke="#858585" stroke-width="1"/>
<text x="45.10" y="186.97" text-anchor="end" class="tk">0.3</text>
<line x1="48.7" y1="170.19" x2="50.0" y2="170.19" stroke="#858585" stroke-width="0.8"/>
<line x1="46.5" y1="156.40" x2="48.7" y2="156.40" stroke="#858585" stroke-width="1"/>
<text x="45.10" y="159.40" text-anchor="end" class="tk">0.4</text>
<line x1="48.70" y1="266.7" x2="48.70" y2="268.9" stroke="#858585" stroke-width="1"/>
<text x="48.70" y="277.60" text-anchor="middle" class="tk">300</text>
<line x1="71.37" y1="266.7" x2="71.37" y2="265.4" stroke="#858585" stroke-width="0.8"/>
<line x1="94.03" y1="266.7" x2="94.03" y2="268.9" stroke="#858585" stroke-width="1"/>
<text x="94.03" y="277.60" text-anchor="middle" class="tk">400</text>
<line x1="116.70" y1="266.7" x2="116.70" y2="265.4" stroke="#858585" stroke-width="0.8"/>
<line x1="139.37" y1="266.7" x2="139.37" y2="268.9" stroke="#858585" stroke-width="1"/>
<text x="139.37" y="277.60" text-anchor="middle" class="tk">500</text>
<line x1="162.03" y1="266.7" x2="162.03" y2="265.4" stroke="#858585" stroke-width="0.8"/>
<line x1="184.70" y1="266.7" x2="184.70" y2="268.9" stroke="#858585" stroke-width="1"/>
<text x="184.70" y="277.60" text-anchor="middle" class="tk">600</text>
<text transform="translate(32.70,212.55) rotate(-90)" text-anchor="middle" class="ax">Absorbance</text>
<text x="117.60" y="287.10" text-anchor="middle" class="ax">Wavelength (nm)</text>
<line x1="144.90" y1="160.20" x2="144.90" y2="210.90" stroke="#333" stroke-width="0.95"/>
<path d="M143.50,209.90 L146.30,209.90 L144.90,213.40 Z" fill="#222"/>
<line x1="147.20" y1="161.60" x2="162.40" y2="161.60" stroke="#505050" stroke-width="1"/>
<text x="164.00" y="164.40" class="lg" textLength="14.96" lengthAdjust="spacingAndGlyphs">0min</text>
<line x1="147.20" y1="169.88" x2="162.40" y2="169.88" stroke="#f25a5a" stroke-width="1"/>
<text x="164.00" y="172.68" class="lg" textLength="14.96" lengthAdjust="spacingAndGlyphs">5min</text>
<line x1="147.20" y1="178.16" x2="162.40" y2="178.16" stroke="#3a86dc" stroke-width="1"/>
<text x="164.00" y="180.96" class="lg" textLength="18.79" lengthAdjust="spacingAndGlyphs">10min</text>
<line x1="147.20" y1="186.44" x2="162.40" y2="186.44" stroke="#25b07a" stroke-width="1"/>
<text x="164.00" y="189.24" class="lg" textLength="18.79" lengthAdjust="spacingAndGlyphs">20min</text>
<line x1="147.20" y1="194.72" x2="162.40" y2="194.72" stroke="#c68ae6" stroke-width="1"/>
<text x="164.00" y="197.52" class="lg" textLength="18.79" lengthAdjust="spacingAndGlyphs">30min</text>
<line x1="147.20" y1="203.00" x2="162.40" y2="203.00" stroke="#e2b24a" stroke-width="1"/>
<text x="164.00" y="205.80" class="lg" textLength="18.79" lengthAdjust="spacingAndGlyphs">40min</text>
<line x1="147.20" y1="211.28" x2="162.40" y2="211.28" stroke="#2fd0d4" stroke-width="1"/>
<text x="164.00" y="214.08" class="lg" textLength="18.79" lengthAdjust="spacingAndGlyphs">50min</text>
<text x="3.1" y="169.1" class="pl">(d)</text>
<rect x="226.9" y="157.9" width="45.1" height="23.1" fill="#c2c0ae"/>
<rect x="226.90" y="157.9" width="5.04" height="6.70" fill="#8e8e92"/>
<rect x="227.00" y="164.60" width="4.84" height="16.10" fill="#a4a44e"/>
<rect x="233.34" y="157.9" width="5.04" height="6.70" fill="#cdc9c9"/>
<rect x="233.44" y="164.60" width="4.84" height="16.10" fill="#cbd162"/>
<rect x="239.79" y="157.9" width="5.04" height="6.70" fill="#cdc9c9"/>
<rect x="239.89" y="164.60" width="4.84" height="16.10" fill="#ccd264"/>
<rect x="246.23" y="157.9" width="5.04" height="6.70" fill="#cdc9c9"/>
<rect x="246.33" y="164.60" width="4.84" height="16.10" fill="#cbd162"/>
<rect x="252.67" y="157.9" width="5.04" height="6.70" fill="#cdc9c9"/>
<rect x="252.77" y="164.60" width="4.84" height="16.10" fill="#cacf64"/>
<rect x="259.11" y="157.9" width="5.04" height="6.70" fill="#cdc9c9"/>
<rect x="259.21" y="164.60" width="4.84" height="16.10" fill="#c9ce66"/>
<rect x="265.56" y="157.9" width="6.44" height="6.70" fill="#cdc9c9"/>
<rect x="265.66" y="164.60" width="6.24" height="16.10" fill="#cacf68"/>
<path d="M224.4,258.6 225.3,258.5 226.2,258.3 227.1,258.1 228.1,257.9 229.0,257.7 229.9,257.4 230.8,257.2 231.7,256.9 232.6,256.6 233.5,256.3 234.4,256.1 235.4,255.8 236.3,255.5 237.2,255.2 238.1,254.9 239.0,254.4 239.9,254.0 240.8,253.4 241.8,252.7 242.7,252.0 243.6,251.7 244.5,251.2 245.4,250.4 246.3,249.3 247.2,248.1 248.1,246.8 249.1,245.7 250.0,244.6 250.9,243.6 251.8,242.4 252.7,241.3 253.6,240.1 254.5,238.9 255.5,237.5 256.4,235.9 257.3,234.2 258.2,232.3 259.1,230.4 260.0,228.3 260.9,226.2 261.8,223.9 262.8,221.6 263.7,219.1 264.6,216.4 265.5,213.7 266.4,210.9 267.3,208.2 268.2,205.4 269.2,202.6 270.1,199.7 271.0,196.5 271.9,193.2 272.8,189.9 273.7,187.0 274.6,184.3 275.5,181.8 276.5,179.4 277.4,177.1 278.3,175.0 279.2,173.4 280.1,172.3 281.0,171.4 281.9,170.8 282.9,170.7 283.8,170.9 284.7,171.1 285.6,171.5 286.5,172.4 287.4,173.8 288.3,175.4 289.2,177.7 290.2,180.9 291.1,184.5 292.0,188.3 292.9,192.7 293.8,197.3 294.7,202.1 295.6,207.2 296.6,212.4 297.5,218.2 298.4,224.1 299.3,229.0 300.2,233.3 301.1,237.3 302.0,241.3 302.9,245.4 303.9,248.8 304.8,251.4 305.7,253.7 306.6,255.7 307.5,257.5 308.4,259.1 309.3,260.3 310.3,261.2 311.2,261.9 312.1,262.5 313.0,263.2 313.9,263.6 314.8,263.9 315.7,264.1 316.6,264.3 317.6,264.4 318.5,264.5 319.4,264.6 320.3,264.7 321.2,264.8 322.1,264.8 323.0,264.9 324.0,264.9 324.9,265.0 325.8,265.0 326.7,265.0 327.6,265.0 328.5,265.1 329.4,265.1 330.3,265.1 331.3,265.1 332.2,265.1 333.1,265.1 334.0,265.2 334.9,265.2 335.8,265.2 336.7,265.2 337.7,265.2 338.6,265.2 339.5,265.2 340.4,265.2 341.3,265.2 342.2,265.2 343.1,265.2 344.0,265.2 345.0,265.2 345.9,265.2 346.8,265.2 347.7,265.2 348.6,265.2 349.5,265.2 350.4,265.2 351.4,265.1 352.3,265.0 353.2,265.0 354.1,265.3 355.0,265.7 355.9,265.9 356.8,266.0 357.7,266.2 358.7,266.4 359.6,266.5 360.5,266.6 361.4,266.6" fill="none" stroke="#505050" stroke-width="0.95" stroke-linejoin="round"/>
<path d="M239.9,265.8 240.8,264.3 241.8,262.8 242.7,261.3 243.6,259.8 244.5,258.3 245.4,256.8 246.3,255.2 247.2,253.6 248.1,252.0 249.1,250.5 250.0,248.9 250.9,247.3 251.8,245.7 252.7,244.1 253.6,242.5 254.5,240.8 255.5,238.7 256.4,236.6 257.3,234.7 258.2,232.9 259.1,231.0 260.0,229.1 260.9,227.0 261.8,224.9 262.8,222.6 263.7,220.2 264.6,217.7 265.5,215.1 266.4,212.6 267.3,210.0 268.2,207.5 269.2,204.8 270.1,202.0 271.0,199.0 271.9,196.0 272.8,193.2 273.7,190.6 274.6,188.2 275.5,185.9 276.5,183.8 277.4,181.7 278.3,180.0 279.2,178.8 280.1,177.8 281.0,177.1 281.9,176.8 282.9,176.8 283.8,177.0 284.7,177.2 285.6,177.8 286.5,178.8 287.4,180.1 288.3,181.7 289.2,184.2 290.2,187.3 291.1,190.6 292.0,194.4 292.9,198.5 293.8,202.8 294.7,207.3 295.6,212.0 296.6,217.1 297.5,222.6 298.4,227.8 299.3,232.1 300.2,236.0 301.1,239.8 302.0,243.7 302.9,247.4 303.9,250.4 304.8,252.7 305.7,254.8 306.6,256.6 307.5,258.4 308.4,259.8 309.3,260.7 310.3,261.5 311.2,262.2 312.1,262.8 313.0,263.4 313.9,263.7 314.8,264.0 315.7,264.2 316.6,264.4 317.6,264.5 318.5,264.6 319.4,264.7 320.3,264.8 321.2,264.8 322.1,264.9 323.0,264.9 324.0,265.0 324.9,265.0 325.8,265.0 326.7,265.0 327.6,265.1 328.5,265.1 329.4,265.1 330.3,265.1 331.3,265.1 332.2,265.1 333.1,265.2 334.0,265.2 334.9,265.2 335.8,265.2 336.7,265.2 337.7,265.2 338.6,265.2 339.5,265.2 340.4,265.2 341.3,265.2 342.2,265.2 343.1,265.2 344.0,265.2 345.0,265.2 345.9,265.2 346.8,265.2 347.7,265.2 348.6,265.2 349.5,265.2 350.4,265.1 351.4,265.0 352.3,265.0 353.2,265.1 354.1,265.5 355.0,265.8 355.9,265.9 356.8,266.1 357.7,266.3 358.7,266.4 359.6,266.5 360.5,266.6 361.4,266.6" fill="none" stroke="#f25a5a" stroke-width="1.25" stroke-linejoin="round"/>
<path d="M239.9,265.8 240.8,264.3 241.8,262.8 242.7,261.3 243.6,259.8 244.5,258.3 245.4,256.8 246.3,255.2 247.2,253.6 248.1,252.0 249.1,250.5 250.0,248.9 250.9,247.3 251.8,245.7 252.7,244.1 253.6,242.5 254.5,240.8 255.5,238.9 256.4,237.0 257.3,235.2 258.2,233.4 259.1,231.7 260.0,229.8 260.9,227.8 261.8,225.8 262.8,223.6 263.7,221.3 264.6,218.9 265.5,216.6 266.4,214.2 267.3,211.8 268.2,209.5 269.2,207.0 270.1,204.4 271.0,201.5 271.9,198.8 272.8,196.3 273.7,194.0 274.6,191.9 275.5,189.9 276.5,188.0 277.4,186.1 278.3,184.7 279.2,183.8 280.1,182.9 281.0,182.4 281.9,182.3 282.9,182.3 283.8,182.5 284.7,182.8 285.6,183.4 286.5,184.5 287.4,185.8 288.3,187.5 289.2,190.0 290.2,192.9 291.1,196.0 292.0,199.6 292.9,203.5 293.8,207.5 294.7,211.8 295.6,216.2 296.6,221.1 297.5,226.3 298.4,230.9 299.3,234.8 300.2,238.4 301.1,242.0 302.0,245.7 302.9,249.1 303.9,251.6 304.8,253.8 305.7,255.7 306.6,257.5 307.5,259.1 308.4,260.2 309.3,261.1 310.3,261.9 311.2,262.5 312.1,263.1 313.0,263.6 313.9,263.9 314.8,264.1 315.7,264.3 316.6,264.4 317.6,264.5 318.5,264.6 319.4,264.7 320.3,264.8 321.2,264.9 322.1,264.9 323.0,265.0 324.0,265.0 324.9,265.0 325.8,265.0 326.7,265.1 327.6,265.1 328.5,265.1 329.4,265.1 330.3,265.1 331.3,265.1 332.2,265.2 333.1,265.2 334.0,265.2 334.9,265.2 335.8,265.2 336.7,265.2 337.7,265.2 338.6,265.2 339.5,265.2 340.4,265.2 341.3,265.2 342.2,265.2 343.1,265.2 344.0,265.2 345.0,265.2 345.9,265.2 346.8,265.2 347.7,265.2 348.6,265.2 349.5,265.2 350.4,265.1 351.4,265.0 352.3,265.0 353.2,265.2 354.1,265.6 355.0,265.8 355.9,266.0 356.8,266.2 357.7,266.3 358.7,266.4 359.6,266.5 360.5,266.6 361.4,266.6" fill="none" stroke="#3a86dc" stroke-width="1.25" stroke-linejoin="round"/>
<path d="M239.9,265.8 240.8,264.3 241.8,262.8 242.7,261.3 243.6,259.8 244.5,258.3 245.4,256.8 246.3,255.2 247.2,253.6 248.1,252.0 249.1,250.5 250.0,248.9 250.9,247.3 251.8,245.7 252.7,244.1 253.6,242.4 254.5,240.8 255.5,239.0 256.4,237.3 257.3,235.6 258.2,233.9 259.1,232.2 260.0,230.4 260.9,228.5 261.8,226.5 262.8,224.4 263.7,222.2 264.6,220.0 265.5,217.7 266.4,215.5 267.3,213.3 268.2,211.0 269.2,208.7 270.1,206.2 271.0,203.5 271.9,201.0 272.8,198.8 273.7,196.7 274.6,194.7 275.5,192.9 276.5,191.2 277.4,189.5 278.3,188.4 279.2,187.5 280.1,186.8 281.0,186.4 281.9,186.4 282.9,186.5 283.8,186.7 284.7,187.0 285.6,187.7 286.5,188.7 287.4,190.0 288.3,191.8 289.2,194.3 290.2,197.0 291.1,200.0 292.0,203.5 292.9,207.1 293.8,210.9 294.7,215.0 295.6,219.2 296.6,224.0 297.5,228.9 298.4,233.0 299.3,236.6 300.2,240.0 301.1,243.6 302.0,247.1 302.9,250.2 303.9,252.5 304.8,254.5 305.7,256.3 306.6,258.0 307.5,259.5 308.4,260.6 309.3,261.4 310.3,262.1 311.2,262.7 312.1,263.3 313.0,263.7 313.9,264.0 314.8,264.2 315.7,264.3 316.6,264.5 317.6,264.6 318.5,264.7 319.4,264.7 320.3,264.8 321.2,264.9 322.1,264.9 323.0,265.0 324.0,265.0 324.9,265.0 325.8,265.0 326.7,265.1 327.6,265.1 328.5,265.1 329.4,265.1 330.3,265.1 331.3,265.2 332.2,265.2 333.1,265.2 334.0,265.2 334.9,265.2 335.8,265.2 336.7,265.2 337.7,265.2 338.6,265.2 339.5,265.2 340.4,265.3 341.3,265.3 342.2,265.3 343.1,265.3 344.0,265.3 345.0,265.3 345.9,265.3 346.8,265.3 347.7,265.3 348.6,265.3 349.5,265.2 350.4,265.1 351.4,265.0 352.3,265.0 353.2,265.3 354.1,265.7 355.0,265.9 355.9,266.1 356.8,266.2 357.7,266.4 358.7,266.5 359.6,266.6 360.5,266.6 361.4,266.6" fill="none" stroke="#25b07a" stroke-width="1.25" stroke-linejoin="round"/>
<path d="M239.9,265.8 240.8,264.3 241.8,262.8 242.7,261.3 243.6,259.8 244.5,258.3 245.4,256.8 246.3,255.2 247.2,253.6 248.1,252.0 249.1,250.5 250.0,248.9 250.9,247.3 251.8,245.7 252.7,244.1 253.6,242.4 254.5,240.8 255.5,239.1 256.4,237.4 257.3,235.8 258.2,234.2 259.1,232.5 260.0,230.7 260.9,228.8 261.8,226.9 262.8,224.8 263.7,222.7 264.6,220.5 265.5,218.3 266.4,216.2 267.3,214.0 268.2,211.8 269.2,209.5 270.1,207.1 271.0,204.5 271.9,202.1 272.8,200.0 273.7,198.0 274.6,196.1 275.5,194.4 276.5,192.7 277.4,191.2 278.3,190.1 279.2,189.3 280.1,188.7 281.0,188.3 281.9,188.3 282.9,188.4 283.8,188.6 284.7,189.0 285.6,189.7 286.5,190.7 287.4,191.9 288.3,193.8 289.2,196.2 290.2,198.8 291.1,201.8 292.0,205.2 292.9,208.7 293.8,212.4 294.7,216.4 295.6,220.6 296.6,225.3 297.5,230.0 298.4,233.9 299.3,237.4 300.2,240.8 301.1,244.3 302.0,247.8 302.9,250.6 303.9,252.9 304.8,254.9 305.7,256.6 306.6,258.3 307.5,259.7 308.4,260.7 309.3,261.5 310.3,262.2 311.2,262.8 312.1,263.4 313.0,263.7 313.9,264.0 314.8,264.2 315.7,264.4 316.6,264.5 317.6,264.6 318.5,264.7 319.4,264.8 320.3,264.8 321.2,264.9 322.1,264.9 323.0,265.0 324.0,265.0 324.9,265.0 325.8,265.1 326.7,265.1 327.6,265.1 328.5,265.1 329.4,265.1 330.3,265.2 331.3,265.2 332.2,265.2 333.1,265.2 334.0,265.2 334.9,265.2 335.8,265.2 336.7,265.2 337.7,265.2 338.6,265.2 339.5,265.3 340.4,265.3 341.3,265.3 342.2,265.3 343.1,265.3 344.0,265.3 345.0,265.3 345.9,265.3 346.8,265.3 347.7,265.3 348.6,265.3 349.5,265.2 350.4,265.1 351.4,265.0 352.3,265.1 353.2,265.4 354.1,265.7 355.0,265.9 355.9,266.1 356.8,266.2 357.7,266.4 358.7,266.5 359.6,266.6 360.5,266.6 361.4,266.6" fill="none" stroke="#c68ae6" stroke-width="1.25" stroke-linejoin="round"/>
<path d="M239.9,265.8 240.8,264.3 241.8,262.8 242.7,261.3 243.6,259.8 244.5,258.3 245.4,256.8 246.3,255.2 247.2,253.6 248.1,252.0 249.1,250.5 250.0,248.9 250.9,247.3 251.8,245.7 252.7,244.1 253.6,242.4 254.5,240.8 255.5,239.1 256.4,237.5 257.3,236.0 258.2,234.3 259.1,232.7 260.0,230.9 260.9,229.1 261.8,227.2 262.8,225.1 263.7,223.0 264.6,220.9 265.5,218.7 266.4,216.6 267.3,214.5 268.2,212.4 269.2,210.1 270.1,207.7 271.0,205.2 271.9,202.9 272.8,200.8 273.7,198.9 274.6,197.1 275.5,195.4 276.5,193.8 277.4,192.3 278.3,191.4 279.2,190.6 280.1,190.0 281.0,189.7 281.9,189.7 282.9,189.8 283.8,190.0 284.7,190.4 285.6,191.1 286.5,192.1 287.4,193.3 288.3,195.2 289.2,197.6 290.2,200.2 291.1,203.1 292.0,206.4 292.9,209.9 293.8,213.5 294.7,217.4 295.6,221.6 296.6,226.2 297.5,230.8 298.4,234.6 299.3,238.0 300.2,241.3 301.1,244.8 302.0,248.2 302.9,251.0 303.9,253.2 304.8,255.1 305.7,256.8 306.6,258.5 307.5,259.9 308.4,260.8 309.3,261.6 310.3,262.3 311.2,262.9 312.1,263.4 313.0,263.8 313.9,264.0 314.8,264.2 315.7,264.4 316.6,264.5 317.6,264.6 318.5,264.7 319.4,264.8 320.3,264.8 321.2,264.9 322.1,265.0 323.0,265.0 324.0,265.0 324.9,265.0 325.8,265.1 326.7,265.1 327.6,265.1 328.5,265.1 329.4,265.1 330.3,265.2 331.3,265.2 332.2,265.2 333.1,265.2 334.0,265.2 334.9,265.2 335.8,265.2 336.7,265.2 337.7,265.2 338.6,265.3 339.5,265.3 340.4,265.3 341.3,265.3 342.2,265.3 343.1,265.3 344.0,265.3 345.0,265.3 345.9,265.3 346.8,265.3 347.7,265.3 348.6,265.3 349.5,265.2 350.4,265.1 351.4,265.0 352.3,265.1 353.2,265.4 354.1,265.7 355.0,265.9 355.9,266.1 356.8,266.3 357.7,266.4 358.7,266.5 359.6,266.6 360.5,266.6 361.4,266.6" fill="none" stroke="#e2b24a" stroke-width="1.25" stroke-linejoin="round"/>
<path d="M239.9,265.8 240.8,264.3 241.8,262.8 242.7,261.3 243.6,259.8 244.5,258.3 245.4,256.8 246.3,255.2 247.2,253.6 248.1,252.0 249.1,250.5 250.0,248.9 250.9,247.3 251.8,245.7 252.7,244.1 253.6,242.4 254.5,240.8 255.5,239.2 256.4,237.6 257.3,236.0 258.2,234.4 259.1,232.8 260.0,231.0 260.9,229.2 261.8,227.3 262.8,225.3 263.7,223.2 264.6,221.1 265.5,219.0 266.4,216.9 267.3,214.8 268.2,212.7 269.2,210.5 270.1,208.1 271.0,205.7 271.9,203.4 272.8,201.4 273.7,199.5 274.6,197.7 275.5,196.1 276.5,194.5 277.4,193.1 278.3,192.1 279.2,191.4 280.1,190.8 281.0,190.5 281.9,190.5 282.9,190.7 283.8,190.8 284.7,191.2 285.6,191.9 286.5,192.9 287.4,194.2 288.3,196.0 289.2,198.4 290.2,201.0 291.1,203.9 292.0,207.1 292.9,210.6 293.8,214.2 294.7,218.0 295.6,222.1 296.6,226.8 297.5,231.2 298.4,235.0 299.3,238.3 300.2,241.6 301.1,245.1 302.0,248.4 302.9,251.2 303.9,253.3 304.8,255.2 305.7,256.9 306.6,258.6 307.5,259.9 308.4,260.9 309.3,261.6 310.3,262.3 311.2,262.9 312.1,263.4 313.0,263.8 313.9,264.0 314.8,264.2 315.7,264.4 316.6,264.5 317.6,264.6 318.5,264.7 319.4,264.8 320.3,264.9 321.2,264.9 322.1,265.0 323.0,265.0 324.0,265.0 324.9,265.0 325.8,265.1 326.7,265.1 327.6,265.1 328.5,265.1 329.4,265.1 330.3,265.2 331.3,265.2 332.2,265.2 333.1,265.2 334.0,265.2 334.9,265.2 335.8,265.2 336.7,265.2 337.7,265.2 338.6,265.3 339.5,265.3 340.4,265.3 341.3,265.3 342.2,265.3 343.1,265.3 344.0,265.3 345.0,265.3 345.9,265.3 346.8,265.3 347.7,265.3 348.6,265.3 349.5,265.2 350.4,265.1 351.4,265.0 352.3,265.1 353.2,265.4 354.1,265.8 355.0,265.9 355.9,266.1 356.8,266.3 357.7,266.4 358.7,266.5 359.6,266.6 360.5,266.6 361.4,266.6" fill="none" stroke="#2fd0d4" stroke-width="1.25" stroke-linejoin="round"/>
<rect x="224.4" y="156.7" width="137.00" height="109.90" fill="none" stroke="#858585" stroke-width="1"/>
<line x1="222.20000000000002" y1="266.60" x2="224.4" y2="266.60" stroke="#858585" stroke-width="1"/>
<text x="220.80" y="269.60" text-anchor="end" class="tk">0.0</text>
<line x1="224.4" y1="252.86" x2="225.70000000000002" y2="252.86" stroke="#858585" stroke-width="0.8"/>
<line x1="222.20000000000002" y1="239.12" x2="224.4" y2="239.12" stroke="#858585" stroke-width="1"/>
<text x="220.80" y="242.12" text-anchor="end" class="tk">0.1</text>
<line x1="224.4" y1="225.39" x2="225.70000000000002" y2="225.39" stroke="#858585" stroke-width="0.8"/>
<line x1="222.20000000000002" y1="211.65" x2="224.4" y2="211.65" stroke="#858585" stroke-width="1"/>
<text x="220.80" y="214.65" text-anchor="end" class="tk">0.2</text>
<line x1="224.4" y1="197.91" x2="225.70000000000002" y2="197.91" stroke="#858585" stroke-width="0.8"/>
<line x1="222.20000000000002" y1="184.18" x2="224.4" y2="184.18" stroke="#858585" stroke-width="1"/>
<text x="220.80" y="187.18" text-anchor="end" class="tk">0.3</text>
<line x1="224.4" y1="170.44" x2="225.70000000000002" y2="170.44" stroke="#858585" stroke-width="0.8"/>
<line x1="222.20000000000002" y1="156.70" x2="224.4" y2="156.70" stroke="#858585" stroke-width="1"/>
<text x="220.80" y="159.70" text-anchor="end" class="tk">0.4</text>
<line x1="224.40" y1="266.6" x2="224.40" y2="268.8" stroke="#858585" stroke-width="1"/>
<text x="224.40" y="277.50" text-anchor="middle" class="tk">300</text>
<line x1="247.23" y1="266.6" x2="247.23" y2="265.3" stroke="#858585" stroke-width="0.8"/>
<line x1="270.07" y1="266.6" x2="270.07" y2="268.8" stroke="#858585" stroke-width="1"/>
<text x="270.07" y="277.50" text-anchor="middle" class="tk">400</text>
<line x1="292.90" y1="266.6" x2="292.90" y2="265.3" stroke="#858585" stroke-width="0.8"/>
<line x1="315.73" y1="266.6" x2="315.73" y2="268.8" stroke="#858585" stroke-width="1"/>
<text x="315.73" y="277.50" text-anchor="middle" class="tk">500</text>
<line x1="338.57" y1="266.6" x2="338.57" y2="265.3" stroke="#858585" stroke-width="0.8"/>
<line x1="361.40" y1="266.6" x2="361.40" y2="268.8" stroke="#858585" stroke-width="1"/>
<text x="361.40" y="277.50" text-anchor="middle" class="tk">600</text>
<text transform="translate(208.20,212.65) rotate(-90)" text-anchor="middle" class="ax">Absorbance</text>
<text x="294.30" y="287.20" text-anchor="middle" class="ax">Wavelength (nm)</text>
<line x1="321.60" y1="160.50" x2="321.60" y2="211.20" stroke="#333" stroke-width="0.95"/>
<path d="M320.20,210.20 L323.00,210.20 L321.60,213.70 Z" fill="#222"/>
<line x1="323.90" y1="161.90" x2="339.10" y2="161.90" stroke="#505050" stroke-width="1"/>
<text x="340.70" y="164.70" class="lg" textLength="14.96" lengthAdjust="spacingAndGlyphs">0min</text>
<line x1="323.90" y1="170.18" x2="339.10" y2="170.18" stroke="#f25a5a" stroke-width="1"/>
<text x="340.70" y="172.98" class="lg" textLength="14.96" lengthAdjust="spacingAndGlyphs">5min</text>
<line x1="323.90" y1="178.46" x2="339.10" y2="178.46" stroke="#3a86dc" stroke-width="1"/>
<text x="340.70" y="181.26" class="lg" textLength="18.79" lengthAdjust="spacingAndGlyphs">10min</text>
<line x1="323.90" y1="186.74" x2="339.10" y2="186.74" stroke="#25b07a" stroke-width="1"/>
<text x="340.70" y="189.54" class="lg" textLength="18.79" lengthAdjust="spacingAndGlyphs">20min</text>
<line x1="323.90" y1="195.02" x2="339.10" y2="195.02" stroke="#c68ae6" stroke-width="1"/>
<text x="340.70" y="197.82" class="lg" textLength="18.79" lengthAdjust="spacingAndGlyphs">30min</text>
<line x1="323.90" y1="203.30" x2="339.10" y2="203.30" stroke="#e2b24a" stroke-width="1"/>
<text x="340.70" y="206.10" class="lg" textLength="18.79" lengthAdjust="spacingAndGlyphs">40min</text>
<line x1="323.90" y1="211.58" x2="339.10" y2="211.58" stroke="#2fd0d4" stroke-width="1"/>
<text x="340.70" y="214.38" class="lg" textLength="18.79" lengthAdjust="spacingAndGlyphs">50min</text>
<text x="185.9" y="167.6" class="pl">(e)</text>
<rect x="406.3" y="158.0" width="45.4" height="22.7" fill="#c2c0ae"/>
<rect x="406.30" y="158.0" width="5.09" height="6.58" fill="#8e8e92"/>
<rect x="406.40" y="164.58" width="4.89" height="15.82" fill="#a4a44e"/>
<rect x="412.79" y="158.0" width="5.09" height="6.58" fill="#cdc9c9"/>
<rect x="412.89" y="164.58" width="4.89" height="15.82" fill="#cbd162"/>
<rect x="419.27" y="158.0" width="5.09" height="6.58" fill="#cdc9c9"/>
<rect x="419.37" y="164.58" width="4.89" height="15.82" fill="#ccd264"/>
<rect x="425.76" y="158.0" width="5.09" height="6.58" fill="#cdc9c9"/>
<rect x="425.86" y="164.58" width="4.89" height="15.82" fill="#cbd162"/>
<rect x="432.24" y="158.0" width="5.09" height="6.58" fill="#cdc9c9"/>
<rect x="432.34" y="164.58" width="4.89" height="15.82" fill="#cacf64"/>
<rect x="438.73" y="158.0" width="5.09" height="6.58" fill="#cdc9c9"/>
<rect x="438.83" y="164.58" width="4.89" height="15.82" fill="#c9ce66"/>
<rect x="445.21" y="158.0" width="6.49" height="6.58" fill="#cdc9c9"/>
<rect x="445.31" y="164.58" width="6.29" height="15.82" fill="#cacf68"/>
<path d="M404.4,258.3 405.3,258.2 406.2,258.0 407.1,257.8 408.0,257.6 408.9,257.4 409.8,257.2 410.7,256.9 411.7,256.6 412.6,256.3 413.5,256.0 414.4,255.8 415.3,255.5 416.2,255.2 417.1,254.9 418.0,254.6 418.9,254.2 419.8,253.7 420.7,253.1 421.6,252.4 422.5,251.8 423.4,251.4 424.3,250.9 425.3,250.1 426.2,249.0 427.1,247.8 428.0,246.6 428.9,245.4 429.8,244.4 430.7,243.3 431.6,242.2 432.5,241.0 433.4,239.8 434.3,238.6 435.2,237.2 436.1,235.7 437.0,233.9 437.9,232.0 438.9,230.1 439.8,228.1 440.7,225.9 441.6,223.7 442.5,221.3 443.4,218.8 444.3,216.1 445.2,213.4 446.1,210.6 447.0,207.9 447.9,205.1 448.8,202.3 449.7,199.4 450.6,196.2 451.5,192.9 452.5,189.6 453.4,186.7 454.3,184.0 455.2,181.4 456.1,179.1 457.0,176.8 457.9,174.6 458.8,173.1 459.7,171.9 460.6,171.0 461.5,170.4 462.4,170.3 463.3,170.5 464.2,170.7 465.1,171.1 466.1,172.0 467.0,173.3 467.9,175.0 468.8,177.3 469.7,180.5 470.6,184.0 471.5,187.9 472.4,192.3 473.3,196.9 474.2,201.7 475.1,206.7 476.0,212.0 476.9,217.8 477.8,223.6 478.7,228.6 479.7,232.9 480.6,236.9 481.5,240.9 482.4,245.0 483.3,248.5 484.2,251.1 485.1,253.3 486.0,255.3 486.9,257.2 487.8,258.8 488.7,260.0 489.6,260.8 490.5,261.6 491.4,262.2 492.3,262.8 493.3,263.3 494.2,263.6 495.1,263.8 496.0,264.0 496.9,264.1 497.8,264.2 498.7,264.3 499.6,264.4 500.5,264.5 501.4,264.5 502.3,264.6 503.2,264.6 504.1,264.7 505.0,264.7 505.9,264.7 506.9,264.7 507.8,264.8 508.7,264.8 509.6,264.8 510.5,264.8 511.4,264.8 512.3,264.8 513.2,264.9 514.1,264.9 515.0,264.9 515.9,264.9 516.8,264.9 517.7,264.9 518.6,264.9 519.5,264.9 520.5,264.9 521.4,264.9 522.3,264.9 523.2,264.9 524.1,264.9 525.0,264.9 525.9,264.9 526.8,264.9 527.7,264.9 528.6,264.9 529.5,264.9 530.4,264.8 531.3,264.7 532.2,264.7 533.1,265.0 534.1,265.4 535.0,265.6 535.9,265.7 536.8,265.9 537.7,266.0 538.6,266.2 539.5,266.3 540.4,266.3" fill="none" stroke="#505050" stroke-width="0.95" stroke-linejoin="round"/>
<path d="M404.4,256.2 405.3,256.5 406.2,256.7 407.1,256.9 408.0,257.1 408.9,257.2 409.8,257.2 410.7,257.2 411.7,257.2 412.6,257.1 413.5,256.8 414.4,256.6 415.3,256.3 416.2,256.0 417.1,255.6 418.0,255.1 418.9,254.6 419.8,254.0 420.7,253.4 421.6,252.8 422.5,252.2 423.4,251.5 424.3,250.8 425.3,250.0 426.2,249.3 427.1,248.5 428.0,247.7 428.9,246.8 429.8,245.9 430.7,244.9 431.6,243.9 432.5,242.7 433.4,241.1 434.3,239.3 435.2,237.6 436.1,236.0 437.0,234.3 437.9,232.5 438.9,230.6 439.8,228.7 440.7,226.6 441.6,224.4 442.5,222.1 443.4,219.7 444.3,217.2 445.2,214.6 446.1,212.0 447.0,209.4 447.9,206.8 448.8,204.1 449.7,201.3 450.6,198.3 451.5,195.2 452.5,192.2 453.4,189.6 454.3,187.1 455.2,184.8 456.1,182.7 457.0,180.5 457.9,178.7 458.8,177.4 459.7,176.4 460.6,175.6 461.5,175.3 462.4,175.3 463.3,175.5 464.2,175.7 465.1,176.2 466.1,177.2 467.0,178.5 467.9,180.1 468.8,182.6 469.7,185.7 470.6,189.1 471.5,192.9 472.4,197.0 473.3,201.4 474.2,205.9 475.1,210.8 476.0,215.8 476.9,221.4 477.8,226.8 478.7,231.2 479.7,235.2 480.6,239.0 481.5,242.9 482.4,246.7 483.3,249.8 484.2,252.2 485.1,254.2 486.0,256.1 486.9,257.9 487.8,259.3 488.7,260.4 489.6,261.2 490.5,261.8 491.4,262.5 492.3,263.0 493.3,263.4 494.2,263.7 495.1,263.9 496.0,264.0 496.9,264.2 497.8,264.3 498.7,264.4 499.6,264.4 500.5,264.5 501.4,264.6 502.3,264.6 503.2,264.7 504.1,264.7 505.0,264.7 505.9,264.7 506.9,264.8 507.8,264.8 508.7,264.8 509.6,264.8 510.5,264.8 511.4,264.8 512.3,264.9 513.2,264.9 514.1,264.9 515.0,264.9 515.9,264.9 516.8,264.9 517.7,264.9 518.6,264.9 519.5,264.9 520.5,264.9 521.4,264.9 522.3,264.9 523.2,264.9 524.1,264.9 525.0,264.9 525.9,264.9 526.8,264.9 527.7,264.9 528.6,264.9 529.5,264.8 530.4,264.7 531.3,264.7 532.2,264.8 533.1,265.1 534.1,265.4 535.0,265.6 535.9,265.8 536.8,266.0 537.7,266.1 538.6,266.2 539.5,266.3 540.4,266.3" fill="none" stroke="#f25a5a" stroke-width="1.25" stroke-linejoin="round"/>
<path d="M404.4,255.6 405.3,255.9 406.2,256.2 407.1,256.4 408.0,256.5 408.9,256.6 409.8,256.7 410.7,256.7 411.7,256.6 412.6,256.5 413.5,256.3 414.4,256.0 415.3,255.7 416.2,255.4 417.1,255.0 418.0,254.6 418.9,254.0 419.8,253.4 420.7,252.9 421.6,252.3 422.5,251.7 423.4,251.2 424.3,250.5 425.3,249.9 426.2,249.2 427.1,248.5 428.0,247.7 428.9,246.9 429.8,245.9 430.7,245.0 431.6,243.9 432.5,242.7 433.4,241.2 434.3,239.4 435.2,237.8 436.1,236.2 437.0,234.5 437.9,232.7 438.9,230.8 439.8,228.9 440.7,226.9 441.6,224.7 442.5,222.5 443.4,220.1 444.3,217.6 445.2,215.0 446.1,212.5 447.0,210.0 447.9,207.5 448.8,204.8 449.7,202.1 450.6,199.1 451.5,196.1 452.5,193.3 453.4,190.8 454.3,188.4 455.2,186.2 456.1,184.1 457.0,182.0 457.9,180.3 458.8,179.2 459.7,178.2 460.6,177.5 461.5,177.2 462.4,177.2 463.3,177.4 464.2,177.6 465.1,178.2 466.1,179.2 467.0,180.5 467.9,182.2 468.8,184.7 469.7,187.7 470.6,191.0 471.5,194.7 472.4,198.8 473.3,203.1 474.2,207.6 475.1,212.3 476.0,217.3 476.9,222.8 477.8,227.9 478.7,232.2 479.7,236.0 480.6,239.8 481.5,243.7 482.4,247.3 483.3,250.2 484.2,252.6 485.1,254.6 486.0,256.4 486.9,258.2 487.8,259.5 488.7,260.5 489.6,261.3 490.5,262.0 491.4,262.6 492.3,263.1 493.3,263.5 494.2,263.7 495.1,263.9 496.0,264.1 496.9,264.2 497.8,264.3 498.7,264.4 499.6,264.5 500.5,264.5 501.4,264.6 502.3,264.6 503.2,264.7 504.1,264.7 505.0,264.7 505.9,264.7 506.9,264.8 507.8,264.8 508.7,264.8 509.6,264.8 510.5,264.8 511.4,264.9 512.3,264.9 513.2,264.9 514.1,264.9 515.0,264.9 515.9,264.9 516.8,264.9 517.7,264.9 518.6,264.9 519.5,264.9 520.5,264.9 521.4,264.9 522.3,264.9 523.2,264.9 524.1,264.9 525.0,264.9 525.9,264.9 526.8,264.9 527.7,264.9 528.6,264.9 529.5,264.8 530.4,264.7 531.3,264.7 532.2,264.8 533.1,265.2 534.1,265.5 535.0,265.7 535.9,265.8 536.8,266.0 537.7,266.1 538.6,266.2 539.5,266.3 540.4,266.3" fill="none" stroke="#3a86dc" stroke-width="1.25" stroke-linejoin="round"/>
<path d="M404.4,253.1 405.3,253.5 406.2,253.8 407.1,254.1 408.0,254.3 408.9,254.4 409.8,254.5 410.7,254.5 411.7,254.5 412.6,254.3 413.5,254.1 414.4,253.8 415.3,253.5 416.2,253.3 417.1,253.0 418.0,252.6 418.9,252.2 419.8,251.7 420.7,251.2 421.6,250.7 422.5,250.1 423.4,249.4 424.3,248.5 425.3,247.5 426.2,246.4 427.1,245.4 428.0,244.4 428.9,243.4 429.8,242.5 430.7,241.5 431.6,240.6 432.5,239.7 433.4,239.1 434.3,238.7 435.2,237.7 436.1,236.3 437.0,234.6 437.9,232.8 438.9,231.0 439.8,229.1 440.7,227.1 441.6,224.9 442.5,222.7 443.4,220.4 444.3,217.9 445.2,215.4 446.1,212.9 447.0,210.4 447.9,207.9 448.8,205.4 449.7,202.7 450.6,199.7 451.5,196.8 452.5,194.1 453.4,191.6 454.3,189.3 455.2,187.1 456.1,185.1 457.0,183.1 457.9,181.5 458.8,180.4 459.7,179.5 460.6,178.8 461.5,178.5 462.4,178.6 463.3,178.8 464.2,179.0 465.1,179.6 466.1,180.6 467.0,181.9 467.9,183.6 468.8,186.1 469.7,189.1 470.6,192.4 471.5,196.1 472.4,200.1 473.3,204.3 474.2,208.7 475.1,213.3 476.0,218.3 476.9,223.7 477.8,228.7 478.7,232.8 479.7,236.6 480.6,240.3 481.5,244.2 482.4,247.8 483.3,250.6 484.2,252.8 485.1,254.8 486.0,256.6 486.9,258.3 487.8,259.7 488.7,260.6 489.6,261.4 490.5,262.0 491.4,262.6 492.3,263.2 493.3,263.5 494.2,263.7 495.1,263.9 496.0,264.1 496.9,264.2 497.8,264.3 498.7,264.4 499.6,264.5 500.5,264.5 501.4,264.6 502.3,264.6 503.2,264.7 504.1,264.7 505.0,264.7 505.9,264.7 506.9,264.8 507.8,264.8 508.7,264.8 509.6,264.8 510.5,264.8 511.4,264.9 512.3,264.9 513.2,264.9 514.1,264.9 515.0,264.9 515.9,264.9 516.8,264.9 517.7,264.9 518.6,264.9 519.5,264.9 520.5,264.9 521.4,264.9 522.3,264.9 523.2,264.9 524.1,264.9 525.0,264.9 525.9,264.9 526.8,264.9 527.7,264.9 528.6,264.9 529.5,264.8 530.4,264.7 531.3,264.7 532.2,264.9 533.1,265.2 534.1,265.5 535.0,265.7 535.9,265.8 536.8,266.0 537.7,266.1 538.6,266.2 539.5,266.3 540.4,266.3" fill="none" stroke="#25b07a" stroke-width="1.25" stroke-linejoin="round"/>
<path d="M404.4,256.4 405.3,256.7 406.2,257.0 407.1,257.2 408.0,257.4 408.9,257.5 409.8,257.5 410.7,257.5 411.7,257.5 412.6,257.3 413.5,257.1 414.4,256.9 415.3,256.6 416.2,256.3 417.1,255.9 418.0,255.4 418.9,254.9 419.8,254.3 420.7,253.7 421.6,253.1 422.5,252.4 423.4,251.7 424.3,250.9 425.3,250.1 426.2,249.3 427.1,248.5 428.0,247.6 428.9,246.8 429.8,245.9 430.7,244.9 431.6,243.9 432.5,242.7 433.4,241.3 434.3,239.6 435.2,238.1 436.1,236.5 437.0,234.8 437.9,233.1 438.9,231.3 439.8,229.4 440.7,227.5 441.6,225.4 442.5,223.2 443.4,220.9 444.3,218.5 445.2,216.1 446.1,213.7 447.0,211.4 447.9,209.0 448.8,206.5 449.7,203.8 450.6,201.0 451.5,198.2 452.5,195.6 453.4,193.3 454.3,191.1 455.2,189.1 456.1,187.2 457.0,185.3 457.9,183.8 458.8,182.9 459.7,182.0 460.6,181.4 461.5,181.3 462.4,181.4 463.3,181.6 464.2,181.8 465.1,182.4 466.1,183.5 467.0,184.8 467.9,186.5 468.8,189.0 469.7,191.9 470.6,195.1 471.5,198.7 472.4,202.6 473.3,206.6 474.2,210.9 475.1,215.4 476.0,220.3 476.9,225.5 477.8,230.2 478.7,234.1 479.7,237.8 480.6,241.4 481.5,245.2 482.4,248.6 483.3,251.2 484.2,253.4 485.1,255.3 486.0,257.1 486.9,258.7 487.8,259.9 488.7,260.8 489.6,261.5 490.5,262.2 491.4,262.8 492.3,263.3 493.3,263.5 494.2,263.8 495.1,264.0 496.0,264.1 496.9,264.2 497.8,264.3 498.7,264.4 499.6,264.5 500.5,264.6 501.4,264.6 502.3,264.7 503.2,264.7 504.1,264.7 505.0,264.7 505.9,264.8 506.9,264.8 507.8,264.8 508.7,264.8 509.6,264.8 510.5,264.8 511.4,264.9 512.3,264.9 513.2,264.9 514.1,264.9 515.0,264.9 515.9,264.9 516.8,264.9 517.7,264.9 518.6,264.9 519.5,264.9 520.5,264.9 521.4,264.9 522.3,264.9 523.2,264.9 524.1,264.9 525.0,264.9 525.9,264.9 526.8,264.9 527.7,264.9 528.6,264.9 529.5,264.8 530.4,264.7 531.3,264.7 532.2,264.9 533.1,265.3 534.1,265.5 535.0,265.7 535.9,265.9 536.8,266.0 537.7,266.1 538.6,266.2 539.5,266.3 540.4,266.3" fill="none" stroke="#c68ae6" stroke-width="1.25" stroke-linejoin="round"/>
<path d="M404.4,252.3 405.3,252.7 406.2,253.0 407.1,253.3 408.0,253.5 408.9,253.6 409.8,253.7 410.7,253.7 411.7,253.6 412.6,253.5 413.5,253.3 414.4,253.0 415.3,252.7 416.2,252.4 417.1,252.1 418.0,251.8 418.9,251.3 419.8,250.9 420.7,250.4 421.6,249.9 422.5,249.3 423.4,248.7 424.3,247.9 425.3,247.1 426.2,246.2 427.1,245.3 428.0,244.4 428.9,243.4 429.8,242.5 430.7,241.5 431.6,240.6 432.5,239.7 433.4,239.2 434.3,238.9 435.2,238.1 436.1,236.6 437.0,235.0 437.9,233.3 438.9,231.5 439.8,229.6 440.7,227.7 441.6,225.7 442.5,223.5 443.4,221.2 444.3,218.9 445.2,216.5 446.1,214.2 447.0,211.8 447.9,209.5 448.8,207.0 449.7,204.4 450.6,201.6 451.5,198.9 452.5,196.5 453.4,194.2 454.3,192.1 455.2,190.1 456.1,188.2 457.0,186.4 457.9,185.0 458.8,184.1 459.7,183.3 460.6,182.8 461.5,182.7 462.4,182.8 463.3,182.9 464.2,183.2 465.1,183.9 466.1,184.9 467.0,186.2 467.9,187.9 468.8,190.4 469.7,193.3 470.6,196.4 471.5,200.0 472.4,203.8 473.3,207.8 474.2,212.0 475.1,216.4 476.0,221.3 476.9,226.4 477.8,230.9 478.7,234.8 479.7,238.3 480.6,241.9 481.5,245.7 482.4,249.0 483.3,251.5 484.2,253.6 485.1,255.5 486.0,257.3 486.9,258.8 487.8,260.0 488.7,260.9 489.6,261.6 490.5,262.2 491.4,262.8 492.3,263.3 493.3,263.6 494.2,263.8 495.1,264.0 496.0,264.1 496.9,264.2 497.8,264.3 498.7,264.4 499.6,264.5 500.5,264.6 501.4,264.6 502.3,264.7 503.2,264.7 504.1,264.7 505.0,264.7 505.9,264.8 506.9,264.8 507.8,264.8 508.7,264.8 509.6,264.8 510.5,264.9 511.4,264.9 512.3,264.9 513.2,264.9 514.1,264.9 515.0,264.9 515.9,264.9 516.8,264.9 517.7,264.9 518.6,264.9 519.5,264.9 520.5,264.9 521.4,264.9 522.3,264.9 523.2,264.9 524.1,264.9 525.0,264.9 525.9,264.9 526.8,264.9 527.7,264.9 528.6,264.9 529.5,264.8 530.4,264.7 531.3,264.7 532.2,265.0 533.1,265.3 534.1,265.5 535.0,265.7 535.9,265.9 536.8,266.0 537.7,266.1 538.6,266.2 539.5,266.3 540.4,266.3" fill="none" stroke="#e2b24a" stroke-width="1.25" stroke-linejoin="round"/>
<path d="M404.4,251.5 405.3,251.9 406.2,252.2 407.1,252.4 408.0,252.6 408.9,252.8 409.8,252.8 410.7,252.9 411.7,252.8 412.6,252.7 413.5,252.4 414.4,252.2 415.3,251.9 416.2,251.6 417.1,251.3 418.0,250.9 418.9,250.5 419.8,250.0 420.7,249.5 421.6,249.0 422.5,248.5 423.4,247.9 424.3,247.3 425.3,246.6 426.2,245.9 427.1,245.1 428.0,244.4 428.9,243.5 429.8,242.5 430.7,241.5 431.6,240.6 432.5,239.7 433.4,239.3 434.3,239.0 435.2,238.2 436.1,236.7 437.0,235.1 437.9,233.4 438.9,231.7 439.8,229.8 440.7,227.9 441.6,225.9 442.5,223.8 443.4,221.5 444.3,219.2 445.2,216.9 446.1,214.6 447.0,212.3 447.9,210.0 448.8,207.6 449.7,205.0 450.6,202.3 451.5,199.6 452.5,197.3 453.4,195.1 454.3,193.0 455.2,191.1 456.1,189.3 457.0,187.6 457.9,186.3 458.8,185.4 459.7,184.6 460.6,184.1 461.5,184.0 462.4,184.1 463.3,184.3 464.2,184.6 465.1,185.3 466.1,186.3 467.0,187.6 467.9,189.3 468.8,191.8 469.7,194.7 470.6,197.7 471.5,201.3 472.4,205.0 473.3,208.9 474.2,213.1 475.1,217.4 476.0,222.3 476.9,227.3 477.8,231.6 478.7,235.4 479.7,238.9 480.6,242.5 481.5,246.1 482.4,249.3 483.3,251.8 484.2,253.9 485.1,255.7 486.0,257.4 486.9,259.0 487.8,260.1 488.7,261.0 489.6,261.7 490.5,262.3 491.4,262.9 492.3,263.3 493.3,263.6 494.2,263.8 495.1,264.0 496.0,264.1 496.9,264.2 497.8,264.3 498.7,264.4 499.6,264.5 500.5,264.6 501.4,264.6 502.3,264.7 503.2,264.7 504.1,264.7 505.0,264.7 505.9,264.8 506.9,264.8 507.8,264.8 508.7,264.8 509.6,264.8 510.5,264.9 511.4,264.9 512.3,264.9 513.2,264.9 514.1,264.9 515.0,264.9 515.9,264.9 516.8,264.9 517.7,264.9 518.6,264.9 519.5,265.0 520.5,265.0 521.4,265.0 522.3,265.0 523.2,265.0 524.1,265.0 525.0,265.0 525.9,265.0 526.8,265.0 527.7,265.0 528.6,264.9 529.5,264.8 530.4,264.7 531.3,264.7 532.2,265.0 533.1,265.3 534.1,265.6 535.0,265.7 535.9,265.9 536.8,266.0 537.7,266.2 538.6,266.2 539.5,266.3 540.4,266.3" fill="none" stroke="#2fd0d4" stroke-width="1.25" stroke-linejoin="round"/>
<rect x="404.4" y="156.6" width="136.00" height="109.70" fill="none" stroke="#858585" stroke-width="1"/>
<line x1="402.2" y1="266.30" x2="404.4" y2="266.30" stroke="#858585" stroke-width="1"/>
<text x="400.80" y="269.30" text-anchor="end" class="tk">0.0</text>
<line x1="404.4" y1="252.59" x2="405.7" y2="252.59" stroke="#858585" stroke-width="0.8"/>
<line x1="402.2" y1="238.88" x2="404.4" y2="238.88" stroke="#858585" stroke-width="1"/>
<text x="400.80" y="241.88" text-anchor="end" class="tk">0.1</text>
<line x1="404.4" y1="225.16" x2="405.7" y2="225.16" stroke="#858585" stroke-width="0.8"/>
<line x1="402.2" y1="211.45" x2="404.4" y2="211.45" stroke="#858585" stroke-width="1"/>
<text x="400.80" y="214.45" text-anchor="end" class="tk">0.2</text>
<line x1="404.4" y1="197.74" x2="405.7" y2="197.74" stroke="#858585" stroke-width="0.8"/>
<line x1="402.2" y1="184.03" x2="404.4" y2="184.03" stroke="#858585" stroke-width="1"/>
<text x="400.80" y="187.03" text-anchor="end" class="tk">0.3</text>
<line x1="404.4" y1="170.31" x2="405.7" y2="170.31" stroke="#858585" stroke-width="0.8"/>
<line x1="402.2" y1="156.60" x2="404.4" y2="156.60" stroke="#858585" stroke-width="1"/>
<text x="400.80" y="159.60" text-anchor="end" class="tk">0.4</text>
<line x1="404.40" y1="266.3" x2="404.40" y2="268.5" stroke="#858585" stroke-width="1"/>
<text x="404.40" y="277.20" text-anchor="middle" class="tk">300</text>
<line x1="427.07" y1="266.3" x2="427.07" y2="265.0" stroke="#858585" stroke-width="0.8"/>
<line x1="449.73" y1="266.3" x2="449.73" y2="268.5" stroke="#858585" stroke-width="1"/>
<text x="449.73" y="277.20" text-anchor="middle" class="tk">400</text>
<line x1="472.40" y1="266.3" x2="472.40" y2="265.0" stroke="#858585" stroke-width="0.8"/>
<line x1="495.07" y1="266.3" x2="495.07" y2="268.5" stroke="#858585" stroke-width="1"/>
<text x="495.07" y="277.20" text-anchor="middle" class="tk">500</text>
<line x1="517.73" y1="266.3" x2="517.73" y2="265.0" stroke="#858585" stroke-width="0.8"/>
<line x1="540.40" y1="266.3" x2="540.40" y2="268.5" stroke="#858585" stroke-width="1"/>
<text x="540.40" y="277.20" text-anchor="middle" class="tk">600</text>
<text transform="translate(387.10,212.45) rotate(-90)" text-anchor="middle" class="ax">Absorbance</text>
<text x="474.20" y="287.70" text-anchor="middle" class="ax">Wavelength (nm)</text>
<line x1="500.60" y1="160.40" x2="500.60" y2="211.10" stroke="#333" stroke-width="0.95"/>
<path d="M499.20,210.10 L502.00,210.10 L500.60,213.60 Z" fill="#222"/>
<line x1="502.90" y1="161.80" x2="518.10" y2="161.80" stroke="#505050" stroke-width="1"/>
<text x="519.70" y="164.60" class="lg" textLength="14.96" lengthAdjust="spacingAndGlyphs">0min</text>
<line x1="502.90" y1="170.08" x2="518.10" y2="170.08" stroke="#f25a5a" stroke-width="1"/>
<text x="519.70" y="172.88" class="lg" textLength="14.96" lengthAdjust="spacingAndGlyphs">5min</text>
<line x1="502.90" y1="178.36" x2="518.10" y2="178.36" stroke="#3a86dc" stroke-width="1"/>
<text x="519.70" y="181.16" class="lg" textLength="18.79" lengthAdjust="spacingAndGlyphs">10min</text>
<line x1="502.90" y1="186.64" x2="518.10" y2="186.64" stroke="#25b07a" stroke-width="1"/>
<text x="519.70" y="189.44" class="lg" textLength="18.79" lengthAdjust="spacingAndGlyphs">20min</text>
<line x1="502.90" y1="194.92" x2="518.10" y2="194.92" stroke="#c68ae6" stroke-width="1"/>
<text x="519.70" y="197.72" class="lg" textLength="18.79" lengthAdjust="spacingAndGlyphs">30min</text>
<line x1="502.90" y1="203.20" x2="518.10" y2="203.20" stroke="#e2b24a" stroke-width="1"/>
<text x="519.70" y="206.00" class="lg" textLength="18.79" lengthAdjust="spacingAndGlyphs">40min</text>
<line x1="502.90" y1="211.48" x2="518.10" y2="211.48" stroke="#2fd0d4" stroke-width="1"/>
<text x="519.70" y="214.28" class="lg" textLength="18.79" lengthAdjust="spacingAndGlyphs">50min</text>
<text x="366.1" y="169.4" class="pl">(f)</text>
<rect x="50.1" y="301.7" width="45.6" height="23.0" fill="#c2c0ae"/>
<rect x="50.10" y="301.7" width="5.11" height="6.67" fill="#8e8e92"/>
<rect x="50.20" y="308.37" width="4.91" height="16.03" fill="#a4a44e"/>
<rect x="56.61" y="301.7" width="5.11" height="6.67" fill="#cdc9c9"/>
<rect x="56.71" y="308.37" width="4.91" height="16.03" fill="#cbd162"/>
<rect x="63.13" y="301.7" width="5.11" height="6.67" fill="#cdc9c9"/>
<rect x="63.23" y="308.37" width="4.91" height="16.03" fill="#ccd264"/>
<rect x="69.64" y="301.7" width="5.11" height="6.67" fill="#cdc9c9"/>
<rect x="69.74" y="308.37" width="4.91" height="16.03" fill="#cbd162"/>
<rect x="76.16" y="301.7" width="5.11" height="6.67" fill="#cdc9c9"/>
<rect x="76.26" y="308.37" width="4.91" height="16.03" fill="#cacf64"/>
<rect x="82.67" y="301.7" width="5.11" height="6.67" fill="#cdc9c9"/>
<rect x="82.77" y="308.37" width="4.91" height="16.03" fill="#c9ce66"/>
<rect x="89.19" y="301.7" width="6.51" height="6.67" fill="#cdc9c9"/>
<rect x="89.29" y="308.37" width="6.31" height="16.03" fill="#cacf68"/>
<path d="M48.3,402.6 49.2,402.4 50.1,402.3 51.0,402.1 51.9,401.9 52.8,401.6 53.7,401.4 54.7,401.1 55.6,400.8 56.5,400.5 57.4,400.2 58.3,400.0 59.2,399.7 60.1,399.5 61.0,399.2 61.9,398.8 62.8,398.4 63.7,397.9 64.6,397.3 65.5,396.6 66.4,396.0 67.4,395.6 68.3,395.1 69.2,394.3 70.1,393.2 71.0,392.0 71.9,390.7 72.8,389.6 73.7,388.5 74.6,387.4 75.5,386.3 76.4,385.1 77.3,384.0 78.2,382.7 79.1,381.3 80.1,379.8 81.0,378.0 81.9,376.1 82.8,374.2 83.7,372.1 84.6,370.0 85.5,367.7 86.4,365.3 87.3,362.8 88.2,360.1 89.1,357.4 90.0,354.6 90.9,351.8 91.9,349.1 92.8,346.2 93.7,343.3 94.6,340.1 95.5,336.8 96.4,333.5 97.3,330.6 98.2,327.9 99.1,325.3 100.0,323.0 100.9,320.6 101.8,318.5 102.7,316.9 103.6,315.8 104.6,314.8 105.5,314.3 106.4,314.2 107.3,314.4 108.2,314.6 109.1,315.0 110.0,315.9 110.9,317.3 111.8,318.9 112.7,321.2 113.6,324.5 114.5,328.0 115.4,331.9 116.4,336.3 117.3,341.0 118.2,345.8 119.1,350.8 120.0,356.1 120.9,361.9 121.8,367.8 122.7,372.8 123.6,377.1 124.5,381.1 125.4,385.2 126.3,389.3 127.2,392.7 128.1,395.4 129.1,397.6 130.0,399.6 130.9,401.5 131.8,403.1 132.7,404.2 133.6,405.1 134.5,405.9 135.4,406.5 136.3,407.1 137.2,407.6 138.1,407.9 139.0,408.1 139.9,408.3 140.8,408.4 141.8,408.5 142.7,408.6 143.6,408.7 144.5,408.8 145.4,408.8 146.3,408.9 147.2,408.9 148.1,409.0 149.0,409.0 149.9,409.0 150.8,409.0 151.7,409.0 152.6,409.1 153.6,409.1 154.5,409.1 155.4,409.1 156.3,409.1 157.2,409.2 158.1,409.2 159.0,409.2 159.9,409.2 160.8,409.2 161.7,409.2 162.6,409.2 163.5,409.2 164.4,409.2 165.3,409.2 166.3,409.2 167.2,409.2 168.1,409.2 169.0,409.2 169.9,409.2 170.8,409.2 171.7,409.2 172.6,409.2 173.5,409.2 174.4,409.0 175.3,409.0 176.2,409.0 177.1,409.3 178.0,409.7 179.0,409.9 179.9,410.0 180.8,410.2 181.7,410.3 182.6,410.5 183.5,410.6 184.4,410.6" fill="none" stroke="#505050" stroke-width="0.95" stroke-linejoin="round"/>
<path d="M48.3,400.9 49.2,400.9 50.1,400.9 51.0,400.9 51.9,400.8 52.8,400.8 53.7,400.7 54.7,400.6 55.6,400.5 56.5,400.4 57.4,400.2 58.3,399.7 59.2,399.2 60.1,398.6 61.0,398.1 61.9,397.6 62.8,397.2 63.7,396.9 64.6,396.6 65.5,396.2 66.4,395.7 67.4,395.2 68.3,394.5 69.2,393.8 70.1,393.1 71.0,392.4 71.9,391.6 72.8,390.7 73.7,389.8 74.6,388.8 75.5,387.7 76.4,386.7 77.3,385.5 78.2,384.1 79.1,382.2 80.1,380.1 81.0,378.1 81.9,376.2 82.8,374.2 83.7,372.2 84.6,370.0 85.5,367.8 86.4,365.4 87.3,362.9 88.2,360.2 89.1,357.5 90.0,354.7 90.9,352.0 91.9,349.3 92.8,346.4 93.7,343.5 94.6,340.3 95.5,337.0 96.4,333.8 97.3,330.9 98.2,328.2 99.1,325.7 100.0,323.3 100.9,321.0 101.8,318.9 102.7,317.4 103.6,316.3 104.6,315.4 105.5,314.8 106.4,314.8 107.3,314.9 108.2,315.2 109.1,315.6 110.0,316.5 110.9,317.8 111.8,319.5 112.7,321.8 113.6,325.0 114.5,328.6 115.4,332.5 116.4,336.9 117.3,341.5 118.2,346.2 119.1,351.3 120.0,356.5 120.9,362.4 121.8,368.2 122.7,373.1 123.6,377.3 124.5,381.3 125.4,385.4 126.3,389.5 127.2,392.9 128.1,395.5 129.1,397.7 130.0,399.7 130.9,401.6 131.8,403.2 132.7,404.3 133.6,405.2 134.5,405.9 135.4,406.6 136.3,407.2 137.2,407.6 138.1,407.9 139.0,408.1 139.9,408.3 140.8,408.4 141.8,408.5 142.7,408.6 143.6,408.7 144.5,408.8 145.4,408.8 146.3,408.9 147.2,408.9 148.1,409.0 149.0,409.0 149.9,409.0 150.8,409.0 151.7,409.1 152.6,409.1 153.6,409.1 154.5,409.1 155.4,409.1 156.3,409.1 157.2,409.2 158.1,409.2 159.0,409.2 159.9,409.2 160.8,409.2 161.7,409.2 162.6,409.2 163.5,409.2 164.4,409.2 165.3,409.2 166.3,409.2 167.2,409.2 168.1,409.2 169.0,409.2 169.9,409.2 170.8,409.2 171.7,409.2 172.6,409.2 173.5,409.2 174.4,409.0 175.3,409.0 176.2,409.0 177.1,409.3 178.0,409.7 179.0,409.9 179.9,410.0 180.8,410.2 181.7,410.4 182.6,410.5 183.5,410.6 184.4,410.6" fill="none" stroke="#f25a5a" stroke-width="1.25" stroke-linejoin="round"/>
<path d="M48.3,400.7 49.2,400.6 50.1,400.6 51.0,400.6 51.9,400.5 52.8,400.5 53.7,400.4 54.7,400.3 55.6,400.2 56.5,400.1 57.4,399.9 58.3,399.5 59.2,399.1 60.1,398.6 61.0,398.1 61.9,397.6 62.8,397.3 63.7,396.9 64.6,396.6 65.5,396.2 66.4,395.7 67.4,395.2 68.3,394.5 69.2,393.8 70.1,393.1 71.0,392.4 71.9,391.6 72.8,390.7 73.7,389.8 74.6,388.8 75.5,387.7 76.4,386.7 77.3,385.4 78.2,384.1 79.1,382.2 80.1,380.1 81.0,378.1 81.9,376.2 82.8,374.3 83.7,372.3 84.6,370.1 85.5,367.9 86.4,365.5 87.3,363.0 88.2,360.3 89.1,357.6 90.0,354.9 90.9,352.2 91.9,349.4 92.8,346.6 93.7,343.7 94.6,340.6 95.5,337.3 96.4,334.1 97.3,331.2 98.2,328.6 99.1,326.1 100.0,323.7 100.9,321.5 101.8,319.4 102.7,317.9 103.6,316.8 104.6,315.9 105.5,315.3 106.4,315.3 107.3,315.5 108.2,315.7 109.1,316.1 110.0,317.1 110.9,318.4 111.8,320.1 112.7,322.4 113.6,325.6 114.5,329.1 115.4,333.0 116.4,337.4 117.3,342.0 118.2,346.7 119.1,351.7 120.0,357.0 120.9,362.8 121.8,368.5 122.7,373.4 123.6,377.6 124.5,381.6 125.4,385.6 126.3,389.7 127.2,393.0 128.1,395.6 129.1,397.8 130.0,399.8 130.9,401.6 131.8,403.2 132.7,404.3 133.6,405.2 134.5,405.9 135.4,406.6 136.3,407.2 137.2,407.6 138.1,407.9 139.0,408.1 139.9,408.3 140.8,408.4 141.8,408.5 142.7,408.6 143.6,408.7 144.5,408.8 145.4,408.8 146.3,408.9 147.2,408.9 148.1,409.0 149.0,409.0 149.9,409.0 150.8,409.0 151.7,409.1 152.6,409.1 153.6,409.1 154.5,409.1 155.4,409.1 156.3,409.1 157.2,409.2 158.1,409.2 159.0,409.2 159.9,409.2 160.8,409.2 161.7,409.2 162.6,409.2 163.5,409.2 164.4,409.2 165.3,409.2 166.3,409.2 167.2,409.2 168.1,409.2 169.0,409.2 169.9,409.2 170.8,409.2 171.7,409.2 172.6,409.2 173.5,409.2 174.4,409.0 175.3,409.0 176.2,409.0 177.1,409.3 178.0,409.7 179.0,409.9 179.9,410.1 180.8,410.2 181.7,410.4 182.6,410.5 183.5,410.6 184.4,410.6" fill="none" stroke="#3a86dc" stroke-width="1.25" stroke-linejoin="round"/>
<path d="M48.3,399.0 49.2,399.0 50.1,399.0 51.0,399.0 51.9,399.0 52.8,399.0 53.7,399.0 54.7,399.0 55.6,399.0 56.5,399.0 57.4,398.9 58.3,398.8 59.2,398.5 60.1,398.2 61.0,397.9 61.9,397.6 62.8,397.3 63.7,397.0 64.6,396.6 65.5,396.2 66.4,395.7 67.4,395.2 68.3,394.5 69.2,393.8 70.1,393.1 71.0,392.4 71.9,391.6 72.8,390.7 73.7,389.8 74.6,388.8 75.5,387.7 76.4,386.7 77.3,385.4 78.2,384.1 79.1,382.3 80.1,380.2 81.0,378.2 81.9,376.3 82.8,374.3 83.7,372.3 84.6,370.2 85.5,368.0 86.4,365.6 87.3,363.1 88.2,360.5 89.1,357.7 90.0,355.0 90.9,352.3 91.9,349.6 92.8,346.8 93.7,343.9 94.6,340.8 95.5,337.5 96.4,334.4 97.3,331.6 98.2,328.9 99.1,326.4 100.0,324.1 100.9,321.9 101.8,319.8 102.7,318.4 103.6,317.3 104.6,316.4 105.5,315.9 106.4,315.9 107.3,316.0 108.2,316.3 109.1,316.7 110.0,317.6 110.9,319.0 111.8,320.6 112.7,323.0 113.6,326.2 114.5,329.7 115.4,333.6 116.4,337.9 117.3,342.5 118.2,347.2 119.1,352.2 120.0,357.4 120.9,363.2 121.8,368.9 122.7,373.7 123.6,377.9 124.5,381.8 125.4,385.8 126.3,389.9 127.2,393.2 128.1,395.7 129.1,397.9 130.0,399.9 130.9,401.7 131.8,403.3 132.7,404.4 133.6,405.2 134.5,406.0 135.4,406.6 136.3,407.2 137.2,407.6 138.1,407.9 139.0,408.1 139.9,408.3 140.8,408.4 141.8,408.5 142.7,408.6 143.6,408.7 144.5,408.8 145.4,408.8 146.3,408.9 147.2,408.9 148.1,409.0 149.0,409.0 149.9,409.0 150.8,409.0 151.7,409.1 152.6,409.1 153.6,409.1 154.5,409.1 155.4,409.1 156.3,409.1 157.2,409.2 158.1,409.2 159.0,409.2 159.9,409.2 160.8,409.2 161.7,409.2 162.6,409.2 163.5,409.2 164.4,409.2 165.3,409.2 166.3,409.2 167.2,409.2 168.1,409.2 169.0,409.2 169.9,409.2 170.8,409.2 171.7,409.2 172.6,409.2 173.5,409.2 174.4,409.0 175.3,409.0 176.2,409.0 177.1,409.3 178.0,409.7 179.0,409.9 179.9,410.1 180.8,410.2 181.7,410.4 182.6,410.5 183.5,410.6 184.4,410.6" fill="none" stroke="#25b07a" stroke-width="1.25" stroke-linejoin="round"/>
<path d="M48.3,401.5 49.2,401.5 50.1,401.4 51.0,401.3 51.9,401.2 52.8,401.1 53.7,400.9 54.7,400.8 55.6,400.6 56.5,400.4 57.4,400.1 58.3,399.7 59.2,399.2 60.1,398.6 61.0,398.1 61.9,397.6 62.8,397.2 63.7,396.9 64.6,396.6 65.5,396.2 66.4,395.7 67.4,395.2 68.3,394.5 69.2,393.8 70.1,393.1 71.0,392.4 71.9,391.6 72.8,390.7 73.7,389.8 74.6,388.8 75.5,387.7 76.4,386.7 77.3,385.4 78.2,384.1 79.1,382.3 80.1,380.2 81.0,378.2 81.9,376.3 82.8,374.4 83.7,372.4 84.6,370.3 85.5,368.1 86.4,365.7 87.3,363.3 88.2,360.6 89.1,357.9 90.0,355.3 90.9,352.6 91.9,349.9 92.8,347.1 93.7,344.3 94.6,341.1 95.5,337.9 96.4,334.8 97.3,332.0 98.2,329.4 99.1,327.0 100.0,324.7 100.9,322.5 101.8,320.5 102.7,319.1 103.6,318.0 104.6,317.2 105.5,316.7 106.4,316.7 107.3,316.9 108.2,317.1 109.1,317.6 110.0,318.5 110.9,319.9 111.8,321.5 112.7,323.9 113.6,327.1 114.5,330.6 115.4,334.4 116.4,338.7 117.3,343.2 118.2,347.9 119.1,352.9 120.0,358.0 120.9,363.8 121.8,369.4 122.7,374.1 123.6,378.2 124.5,382.2 125.4,386.2 126.3,390.1 127.2,393.4 128.1,395.9 129.1,398.1 130.0,400.0 130.9,401.8 131.8,403.4 132.7,404.4 133.6,405.3 134.5,406.0 135.4,406.7 136.3,407.2 137.2,407.6 138.1,407.9 139.0,408.1 139.9,408.3 140.8,408.4 141.8,408.5 142.7,408.6 143.6,408.7 144.5,408.8 145.4,408.9 146.3,408.9 147.2,408.9 148.1,409.0 149.0,409.0 149.9,409.0 150.8,409.0 151.7,409.1 152.6,409.1 153.6,409.1 154.5,409.1 155.4,409.1 156.3,409.1 157.2,409.2 158.1,409.2 159.0,409.2 159.9,409.2 160.8,409.2 161.7,409.2 162.6,409.2 163.5,409.2 164.4,409.2 165.3,409.2 166.3,409.2 167.2,409.2 168.1,409.2 169.0,409.2 169.9,409.2 170.8,409.2 171.7,409.2 172.6,409.2 173.5,409.2 174.4,409.0 175.3,409.0 176.2,409.0 177.1,409.4 178.0,409.7 179.0,409.9 179.9,410.1 180.8,410.2 181.7,410.4 182.6,410.5 183.5,410.6 184.4,410.6" fill="none" stroke="#c68ae6" stroke-width="1.25" stroke-linejoin="round"/>
<path d="M48.3,398.7 49.2,398.8 50.1,398.9 51.0,398.9 51.9,399.0 52.8,399.0 53.7,399.0 54.7,399.0 55.6,399.0 56.5,399.0 57.4,398.9 58.3,398.8 59.2,398.5 60.1,398.2 61.0,397.9 61.9,397.6 62.8,397.3 63.7,397.0 64.6,396.6 65.5,396.2 66.4,395.7 67.4,395.2 68.3,394.5 69.2,393.8 70.1,393.1 71.0,392.4 71.9,391.6 72.8,390.7 73.7,389.8 74.6,388.8 75.5,387.7 76.4,386.6 77.3,385.4 78.2,384.1 79.1,382.3 80.1,380.2 81.0,378.3 81.9,376.4 82.8,374.5 83.7,372.5 84.6,370.4 85.5,368.2 86.4,365.8 87.3,363.4 88.2,360.7 89.1,358.1 90.0,355.4 90.9,352.8 91.9,350.1 92.8,347.3 93.7,344.5 94.6,341.4 95.5,338.1 96.4,335.1 97.3,332.4 98.2,329.8 99.1,327.4 100.0,325.1 100.9,322.9 101.8,321.0 102.7,319.6 103.6,318.6 104.6,317.7 105.5,317.3 106.4,317.3 107.3,317.4 108.2,317.7 109.1,318.1 110.0,319.1 110.9,320.5 111.8,322.1 112.7,324.5 113.6,327.7 114.5,331.1 115.4,335.0 116.4,339.3 117.3,343.7 118.2,348.4 119.1,353.3 120.0,358.5 120.9,364.2 121.8,369.8 122.7,374.4 123.6,378.5 124.5,382.4 125.4,386.4 126.3,390.3 127.2,393.5 128.1,396.0 129.1,398.2 130.0,400.1 130.9,401.9 131.8,403.4 132.7,404.5 133.6,405.3 134.5,406.0 135.4,406.7 136.3,407.3 137.2,407.6 138.1,407.9 139.0,408.1 139.9,408.3 140.8,408.4 141.8,408.5 142.7,408.6 143.6,408.7 144.5,408.8 145.4,408.9 146.3,408.9 147.2,408.9 148.1,409.0 149.0,409.0 149.9,409.0 150.8,409.0 151.7,409.1 152.6,409.1 153.6,409.1 154.5,409.1 155.4,409.1 156.3,409.1 157.2,409.2 158.1,409.2 159.0,409.2 159.9,409.2 160.8,409.2 161.7,409.2 162.6,409.2 163.5,409.2 164.4,409.2 165.3,409.2 166.3,409.2 167.2,409.2 168.1,409.2 169.0,409.2 169.9,409.2 170.8,409.2 171.7,409.2 172.6,409.2 173.5,409.1 174.4,409.0 175.3,409.0 176.2,409.0 177.1,409.4 178.0,409.7 179.0,409.9 179.9,410.1 180.8,410.2 181.7,410.4 182.6,410.5 183.5,410.6 184.4,410.6" fill="none" stroke="#e2b24a" stroke-width="1.25" stroke-linejoin="round"/>
<path d="M48.3,396.2 49.2,396.5 50.1,396.8 51.0,397.0 51.9,397.2 52.8,397.4 53.7,397.5 54.7,397.6 55.6,397.6 56.5,397.6 57.4,397.6 58.3,397.5 59.2,397.3 60.1,397.1 61.0,397.0 61.9,396.8 62.8,396.6 63.7,396.5 64.6,396.3 65.5,396.1 66.4,395.8 67.4,395.3 68.3,394.7 69.2,393.9 70.1,393.1 71.0,392.4 71.9,391.6 72.8,390.7 73.7,389.8 74.6,388.8 75.5,387.7 76.4,386.6 77.3,385.4 78.2,384.1 79.1,382.3 80.1,380.3 81.0,378.3 81.9,376.4 82.8,374.5 83.7,372.5 84.6,370.4 85.5,368.2 86.4,365.9 87.3,363.5 88.2,360.9 89.1,358.2 90.0,355.6 90.9,352.9 91.9,350.3 92.8,347.5 93.7,344.7 94.6,341.6 95.5,338.4 96.4,335.4 97.3,332.7 98.2,330.1 99.1,327.8 100.0,325.5 100.9,323.4 101.8,321.4 102.7,320.1 103.6,319.1 104.6,318.2 105.5,317.8 106.4,317.8 107.3,318.0 108.2,318.2 109.1,318.7 110.0,319.7 110.9,321.0 111.8,322.7 112.7,325.1 113.6,328.3 114.5,331.7 115.4,335.5 116.4,339.8 117.3,344.2 118.2,348.9 119.1,353.8 120.0,358.9 120.9,364.6 121.8,370.1 122.7,374.7 123.6,378.7 124.5,382.6 125.4,386.6 126.3,390.5 127.2,393.7 128.1,396.1 129.1,398.3 130.0,400.2 130.9,402.0 131.8,403.5 132.7,404.5 133.6,405.4 134.5,406.1 135.4,406.7 136.3,407.3 137.2,407.7 138.1,407.9 139.0,408.1 139.9,408.3 140.8,408.4 141.8,408.5 142.7,408.6 143.6,408.7 144.5,408.8 145.4,408.9 146.3,408.9 147.2,408.9 148.1,409.0 149.0,409.0 149.9,409.0 150.8,409.0 151.7,409.1 152.6,409.1 153.6,409.1 154.5,409.1 155.4,409.1 156.3,409.1 157.2,409.2 158.1,409.2 159.0,409.2 159.9,409.2 160.8,409.2 161.7,409.2 162.6,409.2 163.5,409.2 164.4,409.2 165.3,409.2 166.3,409.2 167.2,409.2 168.1,409.2 169.0,409.2 169.9,409.2 170.8,409.2 171.7,409.2 172.6,409.2 173.5,409.1 174.4,409.0 175.3,409.0 176.2,409.1 177.1,409.4 178.0,409.7 179.0,409.9 179.9,410.1 180.8,410.2 181.7,410.4 182.6,410.5 183.5,410.6 184.4,410.6" fill="none" stroke="#2fd0d4" stroke-width="1.25" stroke-linejoin="round"/>
<rect x="48.3" y="300.1" width="136.10" height="110.50" fill="none" stroke="#858585" stroke-width="1"/>
<line x1="46.099999999999994" y1="410.60" x2="48.3" y2="410.60" stroke="#858585" stroke-width="1"/>
<text x="44.70" y="413.60" text-anchor="end" class="tk">0.0</text>
<line x1="48.3" y1="396.79" x2="49.599999999999994" y2="396.79" stroke="#858585" stroke-width="0.8"/>
<line x1="46.099999999999994" y1="382.98" x2="48.3" y2="382.98" stroke="#858585" stroke-width="1"/>
<text x="44.70" y="385.98" text-anchor="end" class="tk">0.1</text>
<line x1="48.3" y1="369.16" x2="49.599999999999994" y2="369.16" stroke="#858585" stroke-width="0.8"/>
<line x1="46.099999999999994" y1="355.35" x2="48.3" y2="355.35" stroke="#858585" stroke-width="1"/>
<text x="44.70" y="358.35" text-anchor="end" class="tk">0.2</text>
<line x1="48.3" y1="341.54" x2="49.599999999999994" y2="341.54" stroke="#858585" stroke-width="0.8"/>
<line x1="46.099999999999994" y1="327.73" x2="48.3" y2="327.73" stroke="#858585" stroke-width="1"/>
<text x="44.70" y="330.73" text-anchor="end" class="tk">0.3</text>
<line x1="48.3" y1="313.91" x2="49.599999999999994" y2="313.91" stroke="#858585" stroke-width="0.8"/>
<line x1="46.099999999999994" y1="300.10" x2="48.3" y2="300.10" stroke="#858585" stroke-width="1"/>
<text x="44.70" y="303.10" text-anchor="end" class="tk">0.4</text>
<line x1="48.30" y1="410.6" x2="48.30" y2="412.8" stroke="#858585" stroke-width="1"/>
<text x="48.30" y="421.50" text-anchor="middle" class="tk">300</text>
<line x1="70.98" y1="410.6" x2="70.98" y2="409.3" stroke="#858585" stroke-width="0.8"/>
<line x1="93.67" y1="410.6" x2="93.67" y2="412.8" stroke="#858585" stroke-width="1"/>
<text x="93.67" y="421.50" text-anchor="middle" class="tk">400</text>
<line x1="116.35" y1="410.6" x2="116.35" y2="409.3" stroke="#858585" stroke-width="0.8"/>
<line x1="139.03" y1="410.6" x2="139.03" y2="412.8" stroke="#858585" stroke-width="1"/>
<text x="139.03" y="421.50" text-anchor="middle" class="tk">500</text>
<line x1="161.72" y1="410.6" x2="161.72" y2="409.3" stroke="#858585" stroke-width="0.8"/>
<line x1="184.40" y1="410.6" x2="184.40" y2="412.8" stroke="#858585" stroke-width="1"/>
<text x="184.40" y="421.50" text-anchor="middle" class="tk">600</text>
<text transform="translate(31.60,356.35) rotate(-90)" text-anchor="middle" class="ax">Absorbance</text>
<text x="114.95" y="431.20" text-anchor="middle" class="ax">Wavelength (nm)</text>
<line x1="144.60" y1="303.90" x2="144.60" y2="354.60" stroke="#333" stroke-width="0.95"/>
<path d="M143.20,353.60 L146.00,353.60 L144.60,357.10 Z" fill="#222"/>
<line x1="146.90" y1="305.30" x2="162.10" y2="305.30" stroke="#505050" stroke-width="1"/>
<text x="163.70" y="308.10" class="lg" textLength="14.96" lengthAdjust="spacingAndGlyphs">0min</text>
<line x1="146.90" y1="313.58" x2="162.10" y2="313.58" stroke="#f25a5a" stroke-width="1"/>
<text x="163.70" y="316.38" class="lg" textLength="14.96" lengthAdjust="spacingAndGlyphs">5min</text>
<line x1="146.90" y1="321.86" x2="162.10" y2="321.86" stroke="#3a86dc" stroke-width="1"/>
<text x="163.70" y="324.66" class="lg" textLength="18.79" lengthAdjust="spacingAndGlyphs">10min</text>
<line x1="146.90" y1="330.14" x2="162.10" y2="330.14" stroke="#25b07a" stroke-width="1"/>
<text x="163.70" y="332.94" class="lg" textLength="18.79" lengthAdjust="spacingAndGlyphs">20min</text>
<line x1="146.90" y1="338.42" x2="162.10" y2="338.42" stroke="#c68ae6" stroke-width="1"/>
<text x="163.70" y="341.22" class="lg" textLength="18.79" lengthAdjust="spacingAndGlyphs">30min</text>
<line x1="146.90" y1="346.70" x2="162.10" y2="346.70" stroke="#e2b24a" stroke-width="1"/>
<text x="163.70" y="349.50" class="lg" textLength="18.79" lengthAdjust="spacingAndGlyphs">40min</text>
<line x1="146.90" y1="354.98" x2="162.10" y2="354.98" stroke="#2fd0d4" stroke-width="1"/>
<text x="163.70" y="357.78" class="lg" textLength="18.79" lengthAdjust="spacingAndGlyphs">50min</text>
<text x="3.8" y="310.6" class="pl">(g)</text>
<rect x="226.8" y="302.4" width="44.9" height="23.1" fill="#c2c0ae"/>
<rect x="226.80" y="302.4" width="5.01" height="6.70" fill="#8e8e92"/>
<rect x="226.90" y="309.10" width="4.81" height="16.10" fill="#a4a44e"/>
<rect x="233.21" y="302.4" width="5.01" height="6.70" fill="#cdc9c9"/>
<rect x="233.31" y="309.10" width="4.81" height="16.10" fill="#cbd162"/>
<rect x="239.63" y="302.4" width="5.01" height="6.70" fill="#cdc9c9"/>
<rect x="239.73" y="309.10" width="4.81" height="16.10" fill="#ccd264"/>
<rect x="246.04" y="302.4" width="5.01" height="6.70" fill="#cdc9c9"/>
<rect x="246.14" y="309.10" width="4.81" height="16.10" fill="#cbd162"/>
<rect x="252.46" y="302.4" width="5.01" height="6.70" fill="#cdc9c9"/>
<rect x="252.56" y="309.10" width="4.81" height="16.10" fill="#cacf64"/>
<rect x="258.87" y="302.4" width="5.01" height="6.70" fill="#cdc9c9"/>
<rect x="258.97" y="309.10" width="4.81" height="16.10" fill="#c9ce66"/>
<rect x="265.29" y="302.4" width="6.41" height="6.70" fill="#cdc9c9"/>
<rect x="265.39" y="309.10" width="6.21" height="16.10" fill="#cacf68"/>
<path d="M224.5,402.9 225.4,402.8 226.3,402.6 227.2,402.4 228.1,402.2 229.1,402.0 230.0,401.7 230.9,401.4 231.8,401.1 232.7,400.8 233.6,400.6 234.5,400.3 235.4,400.1 236.4,399.8 237.3,399.5 238.2,399.1 239.1,398.7 240.0,398.2 240.9,397.6 241.8,396.9 242.7,396.3 243.7,395.9 244.6,395.5 245.5,394.6 246.4,393.5 247.3,392.3 248.2,391.1 249.1,389.9 250.0,388.9 250.9,387.8 251.9,386.7 252.8,385.5 253.7,384.4 254.6,383.1 255.5,381.7 256.4,380.2 257.3,378.4 258.2,376.5 259.2,374.6 260.1,372.6 261.0,370.4 261.9,368.2 262.8,365.8 263.7,363.3 264.6,360.6 265.5,357.9 266.5,355.1 267.4,352.4 268.3,349.7 269.2,346.9 270.1,343.9 271.0,340.8 271.9,337.4 272.8,334.2 273.7,331.4 274.7,328.7 275.6,326.1 276.5,323.8 277.4,321.5 278.3,319.4 279.2,317.9 280.1,316.8 281.0,315.8 282.0,315.3 282.9,315.2 283.8,315.4 284.7,315.6 285.6,316.0 286.5,317.0 287.4,318.3 288.3,319.9 289.3,322.3 290.2,325.5 291.1,329.0 292.0,332.9 292.9,337.3 293.8,341.9 294.7,346.7 295.6,351.7 296.5,356.9 297.5,362.7 298.4,368.6 299.3,373.4 300.2,377.7 301.1,381.7 302.0,385.7 302.9,389.8 303.8,393.2 304.8,395.8 305.7,398.0 306.6,400.0 307.5,401.9 308.4,403.5 309.3,404.6 310.2,405.5 311.1,406.2 312.1,406.9 313.0,407.5 313.9,407.9 314.8,408.2 315.7,408.4 316.6,408.6 317.5,408.7 318.4,408.8 319.3,408.9 320.3,409.0 321.2,409.1 322.1,409.1 323.0,409.2 323.9,409.2 324.8,409.3 325.7,409.3 326.6,409.3 327.6,409.3 328.5,409.4 329.4,409.4 330.3,409.4 331.2,409.4 332.1,409.4 333.0,409.4 333.9,409.5 334.9,409.5 335.8,409.5 336.7,409.5 337.6,409.5 338.5,409.5 339.4,409.5 340.3,409.5 341.2,409.5 342.1,409.5 343.1,409.5 344.0,409.5 344.9,409.5 345.8,409.5 346.7,409.5 347.6,409.5 348.5,409.5 349.4,409.5 350.4,409.5 351.3,409.3 352.2,409.3 353.1,409.3 354.0,409.6 354.9,410.0 355.8,410.2 356.7,410.3 357.7,410.5 358.6,410.7 359.5,410.8 360.4,410.9 361.3,410.9" fill="none" stroke="#505050" stroke-width="0.95" stroke-linejoin="round"/>
<path d="M240.0,410.9 240.9,409.3 241.8,407.8 242.7,406.3 243.7,404.8 244.6,403.3 245.5,401.8 246.4,400.2 247.3,398.7 248.2,397.1 249.1,395.5 250.0,394.0 250.9,392.4 251.9,390.8 252.8,389.0 253.7,387.0 254.6,385.0 255.5,382.7 256.4,380.5 257.3,378.5 258.2,376.6 259.2,374.6 260.1,372.6 261.0,370.5 261.9,368.2 262.8,365.9 263.7,363.3 264.6,360.7 265.5,357.9 266.5,355.2 267.4,352.5 268.3,349.8 269.2,347.0 270.1,344.0 271.0,340.9 271.9,337.6 272.8,334.4 273.7,331.5 274.7,328.8 275.6,326.3 276.5,324.0 277.4,321.7 278.3,319.6 279.2,318.1 280.1,317.0 281.0,316.1 282.0,315.6 282.9,315.5 283.8,315.7 284.7,315.9 285.6,316.3 286.5,317.2 287.4,318.6 288.3,320.2 289.3,322.6 290.2,325.8 291.1,329.3 292.0,333.2 292.9,337.6 293.8,342.1 294.7,346.9 295.6,351.9 296.5,357.2 297.5,362.9 298.4,368.7 299.3,373.6 300.2,377.8 301.1,381.8 302.0,385.8 302.9,389.9 303.8,393.3 304.8,395.9 305.7,398.1 306.6,400.1 307.5,401.9 308.4,403.5 309.3,404.6 310.2,405.5 311.1,406.2 312.1,406.9 313.0,407.5 313.9,407.9 314.8,408.2 315.7,408.4 316.6,408.6 317.5,408.7 318.4,408.8 319.3,408.9 320.3,409.0 321.2,409.1 322.1,409.1 323.0,409.2 323.9,409.2 324.8,409.3 325.7,409.3 326.6,409.3 327.6,409.3 328.5,409.4 329.4,409.4 330.3,409.4 331.2,409.4 332.1,409.4 333.0,409.4 333.9,409.5 334.9,409.5 335.8,409.5 336.7,409.5 337.6,409.5 338.5,409.5 339.4,409.5 340.3,409.5 341.2,409.5 342.1,409.5 343.1,409.5 344.0,409.5 344.9,409.5 345.8,409.5 346.7,409.5 347.6,409.5 348.5,409.5 349.4,409.5 350.4,409.5 351.3,409.3 352.2,409.3 353.1,409.3 354.0,409.6 354.9,410.0 355.8,410.2 356.7,410.4 357.7,410.5 358.6,410.7 359.5,410.8 360.4,410.9 361.3,410.9" fill="none" stroke="#f25a5a" stroke-width="1.25" stroke-linejoin="round"/>
<path d="M240.9,410.5 241.8,409.0 242.7,407.4 243.7,405.9 244.6,404.4 245.5,402.9 246.4,401.4 247.3,399.9 248.2,398.3 249.1,396.7 250.0,395.2 250.9,393.7 251.9,392.2 252.8,390.5 253.7,387.9 254.6,385.0 255.5,382.5 256.4,380.4 257.3,378.5 258.2,376.6 259.2,374.6 260.1,372.6 261.0,370.5 261.9,368.2 262.8,365.9 263.7,363.4 264.6,360.7 265.5,358.0 266.5,355.3 267.4,352.6 268.3,349.9 269.2,347.1 270.1,344.1 271.0,341.0 271.9,337.7 272.8,334.5 273.7,331.7 274.7,329.0 275.6,326.5 276.5,324.2 277.4,321.9 278.3,319.8 279.2,318.4 280.1,317.3 281.0,316.3 282.0,315.8 282.9,315.8 283.8,315.9 284.7,316.2 285.6,316.6 286.5,317.5 287.4,318.9 288.3,320.5 289.3,322.9 290.2,326.1 291.1,329.6 292.0,333.5 292.9,337.8 293.8,342.4 294.7,347.1 295.6,352.2 296.5,357.4 297.5,363.2 298.4,368.9 299.3,373.7 300.2,378.0 301.1,381.9 302.0,386.0 302.9,390.0 303.8,393.3 304.8,395.9 305.7,398.1 306.6,400.1 307.5,401.9 308.4,403.5 309.3,404.6 310.2,405.5 311.1,406.2 312.1,406.9 313.0,407.5 313.9,407.9 314.8,408.2 315.7,408.4 316.6,408.6 317.5,408.7 318.4,408.8 319.3,408.9 320.3,409.0 321.2,409.1 322.1,409.1 323.0,409.2 323.9,409.2 324.8,409.3 325.7,409.3 326.6,409.3 327.6,409.3 328.5,409.4 329.4,409.4 330.3,409.4 331.2,409.4 332.1,409.4 333.0,409.4 333.9,409.5 334.9,409.5 335.8,409.5 336.7,409.5 337.6,409.5 338.5,409.5 339.4,409.5 340.3,409.5 341.2,409.5 342.1,409.5 343.1,409.5 344.0,409.5 344.9,409.5 345.8,409.5 346.7,409.5 347.6,409.5 348.5,409.5 349.4,409.5 350.4,409.5 351.3,409.3 352.2,409.3 353.1,409.3 354.0,409.6 354.9,410.0 355.8,410.2 356.7,410.4 357.7,410.5 358.6,410.7 359.5,410.8 360.4,410.9 361.3,410.9" fill="none" stroke="#3a86dc" stroke-width="1.25" stroke-linejoin="round"/>
<path d="M240.9,409.7 241.8,408.2 242.7,406.7 243.7,405.2 244.6,403.7 245.5,402.2 246.4,400.6 247.3,399.1 248.2,397.5 249.1,395.9 250.0,394.4 250.9,392.9 251.9,391.3 252.8,389.5 253.7,387.3 254.6,385.0 255.5,382.7 256.4,380.5 257.3,378.5 258.2,376.6 259.2,374.7 260.1,372.7 261.0,370.5 261.9,368.3 262.8,365.9 263.7,363.4 264.6,360.8 265.5,358.1 266.5,355.4 267.4,352.7 268.3,349.9 269.2,347.2 270.1,344.3 271.0,341.1 271.9,337.8 272.8,334.7 273.7,331.8 274.7,329.2 275.6,326.7 276.5,324.4 277.4,322.1 278.3,320.1 279.2,318.6 280.1,317.5 281.0,316.6 282.0,316.1 282.9,316.1 283.8,316.2 284.7,316.5 285.6,316.9 286.5,317.8 287.4,319.2 288.3,320.8 289.3,323.2 290.2,326.4 291.1,329.9 292.0,333.8 292.9,338.1 293.8,342.7 294.7,347.4 295.6,352.4 296.5,357.6 297.5,363.4 298.4,369.1 299.3,373.9 300.2,378.1 301.1,382.0 302.0,386.1 302.9,390.1 303.8,393.4 304.8,396.0 305.7,398.2 306.6,400.1 307.5,402.0 308.4,403.6 309.3,404.7 310.2,405.5 311.1,406.2 312.1,406.9 313.0,407.5 313.9,407.9 314.8,408.2 315.7,408.4 316.6,408.6 317.5,408.7 318.4,408.8 319.3,408.9 320.3,409.0 321.2,409.1 322.1,409.1 323.0,409.2 323.9,409.2 324.8,409.3 325.7,409.3 326.6,409.3 327.6,409.3 328.5,409.4 329.4,409.4 330.3,409.4 331.2,409.4 332.1,409.4 333.0,409.4 333.9,409.5 334.9,409.5 335.8,409.5 336.7,409.5 337.6,409.5 338.5,409.5 339.4,409.5 340.3,409.5 341.2,409.5 342.1,409.5 343.1,409.5 344.0,409.5 344.9,409.5 345.8,409.5 346.7,409.5 347.6,409.5 348.5,409.5 349.4,409.5 350.4,409.5 351.3,409.3 352.2,409.3 353.1,409.3 354.0,409.6 354.9,410.0 355.8,410.2 356.7,410.4 357.7,410.5 358.6,410.7 359.5,410.8 360.4,410.9 361.3,410.9" fill="none" stroke="#25b07a" stroke-width="1.25" stroke-linejoin="round"/>
<path d="M240.0,410.9 240.9,409.3 241.8,407.8 242.7,406.3 243.7,404.8 244.6,403.3 245.5,401.8 246.4,400.2 247.3,398.7 248.2,397.1 249.1,395.5 250.0,394.0 250.9,392.4 251.9,390.8 252.8,389.0 253.7,387.0 254.6,385.0 255.5,382.7 256.4,380.5 257.3,378.5 258.2,376.6 259.2,374.7 260.1,372.7 261.0,370.6 261.9,368.3 262.8,366.0 263.7,363.5 264.6,360.9 265.5,358.1 266.5,355.4 267.4,352.7 268.3,350.0 269.2,347.3 270.1,344.4 271.0,341.2 271.9,337.9 272.8,334.8 273.7,332.0 274.7,329.4 275.6,326.9 276.5,324.6 277.4,322.3 278.3,320.3 279.2,318.9 280.1,317.8 281.0,316.9 282.0,316.4 282.9,316.3 283.8,316.5 284.7,316.7 285.6,317.2 286.5,318.1 287.4,319.5 288.3,321.1 289.3,323.5 290.2,326.7 291.1,330.2 292.0,334.0 292.9,338.4 293.8,342.9 294.7,347.6 295.6,352.6 296.5,357.8 297.5,363.6 298.4,369.3 299.3,374.0 300.2,378.2 301.1,382.2 302.0,386.2 302.9,390.2 303.8,393.5 304.8,396.1 305.7,398.2 306.6,400.2 307.5,402.0 308.4,403.6 309.3,404.7 310.2,405.5 311.1,406.3 312.1,406.9 313.0,407.5 313.9,407.9 314.8,408.2 315.7,408.4 316.6,408.6 317.5,408.7 318.4,408.8 319.3,408.9 320.3,409.0 321.2,409.1 322.1,409.1 323.0,409.2 323.9,409.2 324.8,409.3 325.7,409.3 326.6,409.3 327.6,409.3 328.5,409.4 329.4,409.4 330.3,409.4 331.2,409.4 332.1,409.4 333.0,409.4 333.9,409.5 334.9,409.5 335.8,409.5 336.7,409.5 337.6,409.5 338.5,409.5 339.4,409.5 340.3,409.5 341.2,409.5 342.1,409.5 343.1,409.5 344.0,409.5 344.9,409.5 345.8,409.5 346.7,409.5 347.6,409.5 348.5,409.5 349.4,409.5 350.4,409.5 351.3,409.3 352.2,409.3 353.1,409.3 354.0,409.6 354.9,410.0 355.8,410.2 356.7,410.4 357.7,410.5 358.6,410.7 359.5,410.8 360.4,410.9 361.3,410.9" fill="none" stroke="#c68ae6" stroke-width="1.25" stroke-linejoin="round"/>
<path d="M240.0,410.5 240.9,409.0 241.8,407.4 242.7,405.9 243.7,404.4 244.6,402.9 245.5,401.4 246.4,399.9 247.3,398.3 248.2,396.7 249.1,395.1 250.0,393.6 250.9,392.0 251.9,390.4 252.8,388.7 253.7,386.9 254.6,385.0 255.5,382.8 256.4,380.6 257.3,378.5 258.2,376.7 259.2,374.7 260.1,372.7 261.0,370.6 261.9,368.4 262.8,366.0 263.7,363.5 264.6,360.9 265.5,358.2 266.5,355.5 267.4,352.8 268.3,350.1 269.2,347.4 270.1,344.5 271.0,341.3 271.9,338.1 272.8,335.0 273.7,332.2 274.7,329.5 275.6,327.1 276.5,324.8 277.4,322.5 278.3,320.5 279.2,319.1 280.1,318.0 281.0,317.1 282.0,316.6 282.9,316.6 283.8,316.8 284.7,317.0 285.6,317.5 286.5,318.4 287.4,319.8 288.3,321.4 289.3,323.8 290.2,327.0 291.1,330.4 292.0,334.3 292.9,338.6 293.8,343.2 294.7,347.9 295.6,352.8 296.5,358.0 297.5,363.8 298.4,369.4 299.3,374.2 300.2,378.3 301.1,382.3 302.0,386.3 302.9,390.3 303.8,393.6 304.8,396.1 305.7,398.3 306.6,400.2 307.5,402.1 308.4,403.6 309.3,404.7 310.2,405.6 311.1,406.3 312.1,406.9 313.0,407.5 313.9,407.9 314.8,408.2 315.7,408.4 316.6,408.6 317.5,408.7 318.4,408.8 319.3,408.9 320.3,409.0 321.2,409.1 322.1,409.2 323.0,409.2 323.9,409.2 324.8,409.3 325.7,409.3 326.6,409.3 327.6,409.3 328.5,409.4 329.4,409.4 330.3,409.4 331.2,409.4 332.1,409.4 333.0,409.4 333.9,409.5 334.9,409.5 335.8,409.5 336.7,409.5 337.6,409.5 338.5,409.5 339.4,409.5 340.3,409.5 341.2,409.5 342.1,409.5 343.1,409.5 344.0,409.5 344.9,409.5 345.8,409.5 346.7,409.5 347.6,409.5 348.5,409.5 349.4,409.5 350.4,409.5 351.3,409.3 352.2,409.3 353.1,409.3 354.0,409.6 354.9,410.0 355.8,410.2 356.7,410.4 357.7,410.5 358.6,410.7 359.5,410.8 360.4,410.9 361.3,410.9" fill="none" stroke="#e2b24a" stroke-width="1.25" stroke-linejoin="round"/>
<path d="M240.0,410.1 240.9,408.6 241.8,407.0 242.7,405.5 243.7,404.1 244.6,402.6 245.5,401.0 246.4,399.5 247.3,397.9 248.2,396.3 249.1,394.7 250.0,393.1 250.9,391.5 251.9,389.9 252.8,388.3 253.7,386.7 254.6,385.0 255.5,382.8 256.4,380.6 257.3,378.6 258.2,376.7 259.2,374.7 260.1,372.7 261.0,370.6 261.9,368.4 262.8,366.0 263.7,363.5 264.6,360.9 265.5,358.2 266.5,355.5 267.4,352.8 268.3,350.1 269.2,347.4 270.1,344.5 271.0,341.3 271.9,338.1 272.8,335.0 273.7,332.2 274.7,329.5 275.6,327.1 276.5,324.8 277.4,322.5 278.3,320.5 279.2,319.1 280.1,318.0 281.0,317.1 282.0,316.6 282.9,316.6 283.8,316.8 284.7,317.0 285.6,317.5 286.5,318.4 287.4,319.8 288.3,321.4 289.3,323.8 290.2,327.0 291.1,330.4 292.0,334.3 292.9,338.6 293.8,343.2 294.7,347.9 295.6,352.8 296.5,358.0 297.5,363.8 298.4,369.4 299.3,374.2 300.2,378.3 301.1,382.3 302.0,386.3 302.9,390.3 303.8,393.6 304.8,396.1 305.7,398.3 306.6,400.2 307.5,402.1 308.4,403.6 309.3,404.7 310.2,405.6 311.1,406.3 312.1,406.9 313.0,407.5 313.9,407.9 314.8,408.2 315.7,408.4 316.6,408.6 317.5,408.7 318.4,408.8 319.3,408.9 320.3,409.0 321.2,409.1 322.1,409.2 323.0,409.2 323.9,409.2 324.8,409.3 325.7,409.3 326.6,409.3 327.6,409.3 328.5,409.4 329.4,409.4 330.3,409.4 331.2,409.4 332.1,409.4 333.0,409.4 333.9,409.5 334.9,409.5 335.8,409.5 336.7,409.5 337.6,409.5 338.5,409.5 339.4,409.5 340.3,409.5 341.2,409.5 342.1,409.5 343.1,409.5 344.0,409.5 344.9,409.5 345.8,409.5 346.7,409.5 347.6,409.5 348.5,409.5 349.4,409.5 350.4,409.5 351.3,409.3 352.2,409.3 353.1,409.3 354.0,409.6 354.9,410.0 355.8,410.2 356.7,410.4 357.7,410.5 358.6,410.7 359.5,410.8 360.4,410.9 361.3,410.9" fill="none" stroke="#2fd0d4" stroke-width="1.25" stroke-linejoin="round"/>
<rect x="224.5" y="300.6" width="136.80" height="110.30" fill="none" stroke="#858585" stroke-width="1"/>
<line x1="222.3" y1="410.90" x2="224.5" y2="410.90" stroke="#858585" stroke-width="1"/>
<text x="220.90" y="413.90" text-anchor="end" class="tk">0.0</text>
<line x1="224.5" y1="397.11" x2="225.8" y2="397.11" stroke="#858585" stroke-width="0.8"/>
<line x1="222.3" y1="383.32" x2="224.5" y2="383.32" stroke="#858585" stroke-width="1"/>
<text x="220.90" y="386.32" text-anchor="end" class="tk">0.1</text>
<line x1="224.5" y1="369.54" x2="225.8" y2="369.54" stroke="#858585" stroke-width="0.8"/>
<line x1="222.3" y1="355.75" x2="224.5" y2="355.75" stroke="#858585" stroke-width="1"/>
<text x="220.90" y="358.75" text-anchor="end" class="tk">0.2</text>
<line x1="224.5" y1="341.96" x2="225.8" y2="341.96" stroke="#858585" stroke-width="0.8"/>
<line x1="222.3" y1="328.18" x2="224.5" y2="328.18" stroke="#858585" stroke-width="1"/>
<text x="220.90" y="331.18" text-anchor="end" class="tk">0.3</text>
<line x1="224.5" y1="314.39" x2="225.8" y2="314.39" stroke="#858585" stroke-width="0.8"/>
<line x1="222.3" y1="300.60" x2="224.5" y2="300.60" stroke="#858585" stroke-width="1"/>
<text x="220.90" y="303.60" text-anchor="end" class="tk">0.4</text>
<line x1="224.50" y1="410.9" x2="224.50" y2="413.09999999999997" stroke="#858585" stroke-width="1"/>
<text x="224.50" y="421.80" text-anchor="middle" class="tk">300</text>
<line x1="247.30" y1="410.9" x2="247.30" y2="409.59999999999997" stroke="#858585" stroke-width="0.8"/>
<line x1="270.10" y1="410.9" x2="270.10" y2="413.09999999999997" stroke="#858585" stroke-width="1"/>
<text x="270.10" y="421.80" text-anchor="middle" class="tk">400</text>
<line x1="292.90" y1="410.9" x2="292.90" y2="409.59999999999997" stroke="#858585" stroke-width="0.8"/>
<line x1="315.70" y1="410.9" x2="315.70" y2="413.09999999999997" stroke="#858585" stroke-width="1"/>
<text x="315.70" y="421.80" text-anchor="middle" class="tk">500</text>
<line x1="338.50" y1="410.9" x2="338.50" y2="409.59999999999997" stroke="#858585" stroke-width="0.8"/>
<line x1="361.30" y1="410.9" x2="361.30" y2="413.09999999999997" stroke="#858585" stroke-width="1"/>
<text x="361.30" y="421.80" text-anchor="middle" class="tk">600</text>
<text transform="translate(208.30,356.75) rotate(-90)" text-anchor="middle" class="ax">Absorbance</text>
<text x="291.30" y="431.80" text-anchor="middle" class="ax">Wavelength (nm)</text>
<line x1="321.50" y1="304.40" x2="321.50" y2="355.10" stroke="#333" stroke-width="0.95"/>
<path d="M320.10,354.10 L322.90,354.10 L321.50,357.60 Z" fill="#222"/>
<line x1="323.80" y1="305.80" x2="339.00" y2="305.80" stroke="#505050" stroke-width="1"/>
<text x="340.60" y="308.60" class="lg" textLength="14.96" lengthAdjust="spacingAndGlyphs">0min</text>
<line x1="323.80" y1="314.08" x2="339.00" y2="314.08" stroke="#f25a5a" stroke-width="1"/>
<text x="340.60" y="316.88" class="lg" textLength="14.96" lengthAdjust="spacingAndGlyphs">5min</text>
<line x1="323.80" y1="322.36" x2="339.00" y2="322.36" stroke="#3a86dc" stroke-width="1"/>
<text x="340.60" y="325.16" class="lg" textLength="18.79" lengthAdjust="spacingAndGlyphs">10min</text>
<line x1="323.80" y1="330.64" x2="339.00" y2="330.64" stroke="#25b07a" stroke-width="1"/>
<text x="340.60" y="333.44" class="lg" textLength="18.79" lengthAdjust="spacingAndGlyphs">20min</text>
<line x1="323.80" y1="338.92" x2="339.00" y2="338.92" stroke="#c68ae6" stroke-width="1"/>
<text x="340.60" y="341.72" class="lg" textLength="18.79" lengthAdjust="spacingAndGlyphs">30min</text>
<line x1="323.80" y1="347.20" x2="339.00" y2="347.20" stroke="#e2b24a" stroke-width="1"/>
<text x="340.60" y="350.00" class="lg" textLength="18.79" lengthAdjust="spacingAndGlyphs">40min</text>
<line x1="323.80" y1="355.48" x2="339.00" y2="355.48" stroke="#2fd0d4" stroke-width="1"/>
<text x="340.60" y="358.28" class="lg" textLength="18.79" lengthAdjust="spacingAndGlyphs">50min</text>
<text x="185.7" y="310.6" class="pl">(h)</text>
<rect x="404.9" y="301.9" width="44.7" height="23.1" fill="#c2c0ae"/>
<rect x="404.90" y="301.9" width="4.99" height="6.70" fill="#8e8e92"/>
<rect x="405.00" y="308.60" width="4.79" height="16.10" fill="#a4a44e"/>
<rect x="411.29" y="301.9" width="4.99" height="6.70" fill="#cdc9c9"/>
<rect x="411.39" y="308.60" width="4.79" height="16.10" fill="#cbd162"/>
<rect x="417.67" y="301.9" width="4.99" height="6.70" fill="#cdc9c9"/>
<rect x="417.77" y="308.60" width="4.79" height="16.10" fill="#ccd264"/>
<rect x="424.06" y="301.9" width="4.99" height="6.70" fill="#cdc9c9"/>
<rect x="424.16" y="308.60" width="4.79" height="16.10" fill="#cbd162"/>
<rect x="430.44" y="301.9" width="4.99" height="6.70" fill="#cdc9c9"/>
<rect x="430.54" y="308.60" width="4.79" height="16.10" fill="#cacf64"/>
<rect x="436.83" y="301.9" width="4.99" height="6.70" fill="#cdc9c9"/>
<rect x="436.93" y="308.60" width="4.79" height="16.10" fill="#c9ce66"/>
<rect x="443.21" y="301.9" width="6.39" height="6.70" fill="#cdc9c9"/>
<rect x="443.31" y="308.60" width="6.19" height="16.10" fill="#cacf68"/>
<path d="M403.8,403.1 404.7,403.0 405.6,402.8 406.5,402.6 407.4,402.4 408.3,402.2 409.3,401.9 410.2,401.7 411.1,401.4 412.0,401.1 412.9,400.8 413.8,400.6 414.7,400.3 415.6,400.1 416.5,399.7 417.4,399.4 418.3,399.0 419.3,398.5 420.2,397.9 421.1,397.2 422.0,396.6 422.9,396.2 423.8,395.7 424.7,394.9 425.6,393.8 426.5,392.6 427.4,391.3 428.4,390.2 429.3,389.2 430.2,388.1 431.1,387.0 432.0,385.8 432.9,384.7 433.8,383.4 434.7,382.1 435.6,380.5 436.5,378.7 437.4,376.9 438.4,374.9 439.3,372.9 440.2,370.8 441.1,368.6 442.0,366.2 442.9,363.7 443.8,361.1 444.7,358.3 445.6,355.6 446.5,352.9 447.4,350.2 448.4,347.4 449.3,344.5 450.2,341.3 451.1,338.0 452.0,334.9 452.9,332.0 453.8,329.3 454.7,326.8 455.6,324.5 456.5,322.2 457.5,320.1 458.4,318.7 459.3,317.6 460.2,316.6 461.1,316.1 462.0,316.1 462.9,316.2 463.8,316.5 464.7,316.9 465.6,317.8 466.5,319.1 467.5,320.8 468.4,323.1 469.3,326.3 470.2,329.8 471.1,333.7 472.0,338.0 472.9,342.6 473.8,347.3 474.7,352.3 475.6,357.6 476.5,363.3 477.5,369.1 478.4,373.9 479.3,378.1 480.2,382.1 481.1,386.1 482.0,390.2 482.9,393.5 483.8,396.1 484.7,398.3 485.6,400.3 486.5,402.1 487.5,403.7 488.4,404.8 489.3,405.7 490.2,406.4 491.1,407.1 492.0,407.7 492.9,408.1 493.8,408.4 494.7,408.6 495.6,408.8 496.6,408.9 497.5,409.0 498.4,409.1 499.3,409.2 500.2,409.3 501.1,409.4 502.0,409.4 502.9,409.4 503.8,409.5 504.7,409.5 505.6,409.5 506.6,409.5 507.5,409.6 508.4,409.6 509.3,409.6 510.2,409.6 511.1,409.6 512.0,409.6 512.9,409.7 513.8,409.7 514.7,409.7 515.6,409.7 516.6,409.7 517.5,409.7 518.4,409.7 519.3,409.7 520.2,409.7 521.1,409.7 522.0,409.7 522.9,409.7 523.8,409.7 524.7,409.7 525.7,409.7 526.6,409.7 527.5,409.7 528.4,409.7 529.3,409.7 530.2,409.6 531.1,409.5 532.0,409.5 532.9,409.8 533.8,410.2 534.7,410.4 535.7,410.6 536.6,410.7 537.5,410.9 538.4,411.0 539.3,411.1 540.2,411.1" fill="none" stroke="#505050" stroke-width="0.95" stroke-linejoin="round"/>
<path d="M403.8,378.7 404.7,384.9 405.6,388.1 406.5,389.9 407.4,391.2 408.3,392.6 409.3,393.9 410.2,395.2 411.1,396.2 412.0,396.9 412.9,397.5 413.8,398.0 414.7,398.2 415.6,398.1 416.5,397.9 417.4,397.6 418.3,397.3 419.3,397.0 420.2,396.7 421.1,396.3 422.0,396.0 422.9,395.6 423.8,395.2 424.7,394.6 425.6,393.8 426.5,392.8 427.4,391.8 428.4,390.6 429.3,389.4 430.2,388.3 431.1,387.2 432.0,386.1 432.9,384.9 433.8,383.6 434.7,382.1 435.6,380.5 436.5,378.7 437.4,376.9 438.4,374.9 439.3,372.9 440.2,370.8 441.1,368.6 442.0,366.2 442.9,363.7 443.8,361.1 444.7,358.3 445.6,355.6 446.5,352.9 447.4,350.2 448.4,347.4 449.3,344.5 450.2,341.3 451.1,338.0 452.0,334.9 452.9,332.0 453.8,329.3 454.7,326.8 455.6,324.5 456.5,322.2 457.5,320.1 458.4,318.7 459.3,317.6 460.2,316.6 461.1,316.1 462.0,316.1 462.9,316.2 463.8,316.5 464.7,316.9 465.6,317.8 466.5,319.1 467.5,320.8 468.4,323.1 469.3,326.3 470.2,329.8 471.1,333.7 472.0,338.0 472.9,342.6 473.8,347.3 474.7,352.3 475.6,357.6 476.5,363.3 477.5,369.1 478.4,373.9 479.3,378.1 480.2,382.1 481.1,386.1 482.0,390.2 482.9,393.5 483.8,396.1 484.7,398.3 485.6,400.3 486.5,402.1 487.5,403.7 488.4,404.8 489.3,405.7 490.2,406.4 491.1,407.1 492.0,407.7 492.9,408.1 493.8,408.4 494.7,408.6 495.6,408.8 496.6,408.9 497.5,409.0 498.4,409.1 499.3,409.2 500.2,409.3 501.1,409.4 502.0,409.4 502.9,409.4 503.8,409.5 504.7,409.5 505.6,409.5 506.6,409.5 507.5,409.6 508.4,409.6 509.3,409.6 510.2,409.6 511.1,409.6 512.0,409.6 512.9,409.7 513.8,409.7 514.7,409.7 515.6,409.7 516.6,409.7 517.5,409.7 518.4,409.7 519.3,409.7 520.2,409.7 521.1,409.7 522.0,409.7 522.9,409.7 523.8,409.7 524.7,409.7 525.7,409.7 526.6,409.7 527.5,409.7 528.4,409.7 529.3,409.7 530.2,409.6 531.1,409.5 532.0,409.5 532.9,409.8 533.8,410.2 534.7,410.4 535.7,410.6 536.6,410.7 537.5,410.9 538.4,411.0 539.3,411.1 540.2,411.1" fill="none" stroke="#f25a5a" stroke-width="1.25" stroke-linejoin="round"/>
<path d="M403.8,378.1 404.7,384.3 405.6,387.7 406.5,389.7 407.4,391.2 408.3,392.6 409.3,394.0 410.2,395.2 411.1,396.2 412.0,396.9 412.9,397.5 413.8,398.0 414.7,398.2 415.6,398.1 416.5,397.9 417.4,397.6 418.3,397.3 419.3,397.0 420.2,396.7 421.1,396.3 422.0,396.0 422.9,395.6 423.8,395.2 424.7,394.6 425.6,393.8 426.5,392.8 427.4,391.8 428.4,390.6 429.3,389.4 430.2,388.3 431.1,387.2 432.0,386.1 432.9,384.9 433.8,383.6 434.7,382.1 435.6,380.5 436.5,378.8 437.4,376.9 438.4,375.0 439.3,373.0 440.2,370.8 441.1,368.6 442.0,366.3 442.9,363.8 443.8,361.1 444.7,358.4 445.6,355.7 446.5,353.0 447.4,350.3 448.4,347.5 449.3,344.6 450.2,341.4 451.1,338.2 452.0,335.0 452.9,332.2 453.8,329.5 454.7,327.0 455.6,324.7 456.5,322.4 457.5,320.4 458.4,318.9 459.3,317.8 460.2,316.9 461.1,316.4 462.0,316.3 462.9,316.5 463.8,316.7 464.7,317.1 465.6,318.1 466.5,319.4 467.5,321.0 468.4,323.4 469.3,326.6 470.2,330.1 471.1,334.0 472.0,338.3 472.9,342.8 473.8,347.6 474.7,352.6 475.6,357.8 476.5,363.5 477.5,369.3 478.4,374.1 479.3,378.3 480.2,382.2 481.1,386.2 482.0,390.3 482.9,393.6 483.8,396.2 484.7,398.4 485.6,400.3 486.5,402.2 487.5,403.8 488.4,404.9 489.3,405.7 490.2,406.4 491.1,407.1 492.0,407.7 492.9,408.1 493.8,408.4 494.7,408.6 495.6,408.8 496.6,408.9 497.5,409.0 498.4,409.1 499.3,409.2 500.2,409.3 501.1,409.4 502.0,409.4 502.9,409.4 503.8,409.5 504.7,409.5 505.6,409.5 506.6,409.5 507.5,409.6 508.4,409.6 509.3,409.6 510.2,409.6 511.1,409.6 512.0,409.7 512.9,409.7 513.8,409.7 514.7,409.7 515.6,409.7 516.6,409.7 517.5,409.7 518.4,409.7 519.3,409.7 520.2,409.7 521.1,409.7 522.0,409.7 522.9,409.7 523.8,409.7 524.7,409.7 525.7,409.7 526.6,409.7 527.5,409.7 528.4,409.7 529.3,409.7 530.2,409.6 531.1,409.5 532.0,409.5 532.9,409.8 533.8,410.2 534.7,410.4 535.7,410.6 536.6,410.7 537.5,410.9 538.4,411.0 539.3,411.1 540.2,411.1" fill="none" stroke="#3a86dc" stroke-width="1.25" stroke-linejoin="round"/>
<path d="M403.8,377.6 404.7,383.7 405.6,387.2 406.5,389.4 407.4,391.1 408.3,392.6 409.3,394.0 410.2,395.2 411.1,396.2 412.0,396.9 412.9,397.5 413.8,398.0 414.7,398.2 415.6,398.1 416.5,397.9 417.4,397.6 418.3,397.3 419.3,397.0 420.2,396.7 421.1,396.3 422.0,396.0 422.9,395.6 423.8,395.2 424.7,394.6 425.6,393.8 426.5,392.8 427.4,391.8 428.4,390.6 429.3,389.4 430.2,388.3 431.1,387.2 432.0,386.1 432.9,384.9 433.8,383.6 434.7,382.1 435.6,380.5 436.5,378.8 437.4,376.9 438.4,375.0 439.3,373.0 440.2,370.8 441.1,368.6 442.0,366.3 442.9,363.8 443.8,361.1 444.7,358.4 445.6,355.7 446.5,353.0 447.4,350.3 448.4,347.5 449.3,344.6 450.2,341.4 451.1,338.2 452.0,335.0 452.9,332.2 453.8,329.5 454.7,327.0 455.6,324.7 456.5,322.4 457.5,320.4 458.4,318.9 459.3,317.8 460.2,316.9 461.1,316.4 462.0,316.3 462.9,316.5 463.8,316.7 464.7,317.1 465.6,318.1 466.5,319.4 467.5,321.0 468.4,323.4 469.3,326.6 470.2,330.1 471.1,334.0 472.0,338.3 472.9,342.8 473.8,347.6 474.7,352.6 475.6,357.8 476.5,363.5 477.5,369.3 478.4,374.1 479.3,378.3 480.2,382.2 481.1,386.2 482.0,390.3 482.9,393.6 483.8,396.2 484.7,398.4 485.6,400.3 486.5,402.2 487.5,403.8 488.4,404.9 489.3,405.7 490.2,406.4 491.1,407.1 492.0,407.7 492.9,408.1 493.8,408.4 494.7,408.6 495.6,408.8 496.6,408.9 497.5,409.0 498.4,409.1 499.3,409.2 500.2,409.3 501.1,409.4 502.0,409.4 502.9,409.4 503.8,409.5 504.7,409.5 505.6,409.5 506.6,409.5 507.5,409.6 508.4,409.6 509.3,409.6 510.2,409.6 511.1,409.6 512.0,409.7 512.9,409.7 513.8,409.7 514.7,409.7 515.6,409.7 516.6,409.7 517.5,409.7 518.4,409.7 519.3,409.7 520.2,409.7 521.1,409.7 522.0,409.7 522.9,409.7 523.8,409.7 524.7,409.7 525.7,409.7 526.6,409.7 527.5,409.7 528.4,409.7 529.3,409.7 530.2,409.6 531.1,409.5 532.0,409.5 532.9,409.8 533.8,410.2 534.7,410.4 535.7,410.6 536.6,410.7 537.5,410.9 538.4,411.0 539.3,411.1 540.2,411.1" fill="none" stroke="#25b07a" stroke-width="1.25" stroke-linejoin="round"/>
<path d="M403.8,377.0 404.7,383.1 405.6,386.8 406.5,389.2 407.4,391.1 408.3,392.6 409.3,394.0 410.2,395.2 411.1,396.2 412.0,396.9 412.9,397.5 413.8,398.0 414.7,398.2 415.6,398.1 416.5,397.9 417.4,397.6 418.3,397.3 419.3,397.0 420.2,396.7 421.1,396.3 422.0,396.0 422.9,395.6 423.8,395.2 424.7,394.6 425.6,393.8 426.5,392.8 427.4,391.8 428.4,390.6 429.3,389.4 430.2,388.3 431.1,387.2 432.0,386.1 432.9,384.9 433.8,383.6 434.7,382.1 435.6,380.5 436.5,378.8 437.4,376.9 438.4,375.0 439.3,373.0 440.2,370.9 441.1,368.6 442.0,366.3 442.9,363.8 443.8,361.2 444.7,358.5 445.6,355.8 446.5,353.1 447.4,350.4 448.4,347.6 449.3,344.7 450.2,341.6 451.1,338.3 452.0,335.1 452.9,332.3 453.8,329.7 454.7,327.2 455.6,324.9 456.5,322.7 457.5,320.6 458.4,319.1 459.3,318.1 460.2,317.1 461.1,316.6 462.0,316.6 462.9,316.8 463.8,317.0 464.7,317.4 465.6,318.4 466.5,319.7 467.5,321.3 468.4,323.7 469.3,326.9 470.2,330.4 471.1,334.2 472.0,338.6 472.9,343.1 473.8,347.8 474.7,352.8 475.6,358.0 476.5,363.7 477.5,369.4 478.4,374.2 479.3,378.4 480.2,382.3 481.1,386.4 482.0,390.4 482.9,393.7 483.8,396.2 484.7,398.4 485.6,400.4 486.5,402.2 487.5,403.8 488.4,404.9 489.3,405.7 490.2,406.5 491.1,407.1 492.0,407.7 492.9,408.1 493.8,408.4 494.7,408.6 495.6,408.8 496.6,408.9 497.5,409.0 498.4,409.1 499.3,409.2 500.2,409.3 501.1,409.4 502.0,409.4 502.9,409.4 503.8,409.5 504.7,409.5 505.6,409.5 506.6,409.5 507.5,409.6 508.4,409.6 509.3,409.6 510.2,409.6 511.1,409.6 512.0,409.7 512.9,409.7 513.8,409.7 514.7,409.7 515.6,409.7 516.6,409.7 517.5,409.7 518.4,409.7 519.3,409.7 520.2,409.7 521.1,409.7 522.0,409.7 522.9,409.7 523.8,409.7 524.7,409.7 525.7,409.7 526.6,409.7 527.5,409.7 528.4,409.7 529.3,409.7 530.2,409.6 531.1,409.5 532.0,409.5 532.9,409.8 533.8,410.2 534.7,410.4 535.7,410.6 536.6,410.7 537.5,410.9 538.4,411.0 539.3,411.1 540.2,411.1" fill="none" stroke="#c68ae6" stroke-width="1.25" stroke-linejoin="round"/>
<path d="M403.8,377.0 404.7,383.1 405.6,386.8 406.5,389.2 407.4,391.1 408.3,392.6 409.3,394.0 410.2,395.2 411.1,396.2 412.0,396.9 412.9,397.5 413.8,398.0 414.7,398.2 415.6,398.1 416.5,397.9 417.4,397.6 418.3,397.3 419.3,397.0 420.2,396.7 421.1,396.3 422.0,396.0 422.9,395.6 423.8,395.2 424.7,394.6 425.6,393.8 426.5,392.8 427.4,391.8 428.4,390.6 429.3,389.4 430.2,388.3 431.1,387.2 432.0,386.1 432.9,384.9 433.8,383.6 434.7,382.1 435.6,380.5 436.5,378.8 437.4,376.9 438.4,375.0 439.3,373.0 440.2,370.9 441.1,368.6 442.0,366.3 442.9,363.8 443.8,361.2 444.7,358.5 445.6,355.8 446.5,353.1 447.4,350.4 448.4,347.6 449.3,344.7 450.2,341.6 451.1,338.3 452.0,335.1 452.9,332.3 453.8,329.7 454.7,327.2 455.6,324.9 456.5,322.7 457.5,320.6 458.4,319.1 459.3,318.1 460.2,317.1 461.1,316.6 462.0,316.6 462.9,316.8 463.8,317.0 464.7,317.4 465.6,318.4 466.5,319.7 467.5,321.3 468.4,323.7 469.3,326.9 470.2,330.4 471.1,334.2 472.0,338.6 472.9,343.1 473.8,347.8 474.7,352.8 475.6,358.0 476.5,363.7 477.5,369.4 478.4,374.2 479.3,378.4 480.2,382.3 481.1,386.4 482.0,390.4 482.9,393.7 483.8,396.2 484.7,398.4 485.6,400.4 486.5,402.2 487.5,403.8 488.4,404.9 489.3,405.7 490.2,406.5 491.1,407.1 492.0,407.7 492.9,408.1 493.8,408.4 494.7,408.6 495.6,408.8 496.6,408.9 497.5,409.0 498.4,409.1 499.3,409.2 500.2,409.3 501.1,409.4 502.0,409.4 502.9,409.4 503.8,409.5 504.7,409.5 505.6,409.5 506.6,409.5 507.5,409.6 508.4,409.6 509.3,409.6 510.2,409.6 511.1,409.6 512.0,409.7 512.9,409.7 513.8,409.7 514.7,409.7 515.6,409.7 516.6,409.7 517.5,409.7 518.4,409.7 519.3,409.7 520.2,409.7 521.1,409.7 522.0,409.7 522.9,409.7 523.8,409.7 524.7,409.7 525.7,409.7 526.6,409.7 527.5,409.7 528.4,409.7 529.3,409.7 530.2,409.6 531.1,409.5 532.0,409.5 532.9,409.8 533.8,410.2 534.7,410.4 535.7,410.6 536.6,410.7 537.5,410.9 538.4,411.0 539.3,411.1 540.2,411.1" fill="none" stroke="#e2b24a" stroke-width="1.25" stroke-linejoin="round"/>
<path d="M403.8,376.5 404.7,382.5 405.6,386.3 406.5,389.0 407.4,391.0 408.3,392.6 409.3,394.0 410.2,395.2 411.1,396.2 412.0,396.9 412.9,397.5 413.8,398.0 414.7,398.2 415.6,398.1 416.5,397.9 417.4,397.6 418.3,397.3 419.3,397.0 420.2,396.7 421.1,396.3 422.0,396.0 422.9,395.6 423.8,395.2 424.7,394.6 425.6,393.8 426.5,392.8 427.4,391.8 428.4,390.6 429.3,389.4 430.2,388.3 431.1,387.2 432.0,386.1 432.9,384.9 433.8,383.6 434.7,382.1 435.6,380.5 436.5,378.8 437.4,376.9 438.4,375.0 439.3,373.0 440.2,370.9 441.1,368.6 442.0,366.3 442.9,363.8 443.8,361.2 444.7,358.5 445.6,355.8 446.5,353.1 447.4,350.4 448.4,347.6 449.3,344.7 450.2,341.6 451.1,338.3 452.0,335.1 452.9,332.3 453.8,329.7 454.7,327.2 455.6,324.9 456.5,322.7 457.5,320.6 458.4,319.1 459.3,318.1 460.2,317.1 461.1,316.6 462.0,316.6 462.9,316.8 463.8,317.0 464.7,317.4 465.6,318.4 466.5,319.7 467.5,321.3 468.4,323.7 469.3,326.9 470.2,330.4 471.1,334.2 472.0,338.6 472.9,343.1 473.8,347.8 474.7,352.8 475.6,358.0 476.5,363.7 477.5,369.4 478.4,374.2 479.3,378.4 480.2,382.3 481.1,386.4 482.0,390.4 482.9,393.7 483.8,396.2 484.7,398.4 485.6,400.4 486.5,402.2 487.5,403.8 488.4,404.9 489.3,405.7 490.2,406.5 491.1,407.1 492.0,407.7 492.9,408.1 493.8,408.4 494.7,408.6 495.6,408.8 496.6,408.9 497.5,409.0 498.4,409.1 499.3,409.2 500.2,409.3 501.1,409.4 502.0,409.4 502.9,409.4 503.8,409.5 504.7,409.5 505.6,409.5 506.6,409.5 507.5,409.6 508.4,409.6 509.3,409.6 510.2,409.6 511.1,409.6 512.0,409.7 512.9,409.7 513.8,409.7 514.7,409.7 515.6,409.7 516.6,409.7 517.5,409.7 518.4,409.7 519.3,409.7 520.2,409.7 521.1,409.7 522.0,409.7 522.9,409.7 523.8,409.7 524.7,409.7 525.7,409.7 526.6,409.7 527.5,409.7 528.4,409.7 529.3,409.7 530.2,409.6 531.1,409.5 532.0,409.5 532.9,409.8 533.8,410.2 534.7,410.4 535.7,410.6 536.6,410.7 537.5,410.9 538.4,411.0 539.3,411.1 540.2,411.1" fill="none" stroke="#2fd0d4" stroke-width="1.25" stroke-linejoin="round"/>
<rect x="403.8" y="301.2" width="136.40" height="109.90" fill="none" stroke="#858585" stroke-width="1"/>
<line x1="401.6" y1="411.10" x2="403.8" y2="411.10" stroke="#858585" stroke-width="1"/>
<text x="400.20" y="414.10" text-anchor="end" class="tk">0.0</text>
<line x1="403.8" y1="397.36" x2="405.1" y2="397.36" stroke="#858585" stroke-width="0.8"/>
<line x1="401.6" y1="383.62" x2="403.8" y2="383.62" stroke="#858585" stroke-width="1"/>
<text x="400.20" y="386.62" text-anchor="end" class="tk">0.1</text>
<line x1="403.8" y1="369.89" x2="405.1" y2="369.89" stroke="#858585" stroke-width="0.8"/>
<line x1="401.6" y1="356.15" x2="403.8" y2="356.15" stroke="#858585" stroke-width="1"/>
<text x="400.20" y="359.15" text-anchor="end" class="tk">0.2</text>
<line x1="403.8" y1="342.41" x2="405.1" y2="342.41" stroke="#858585" stroke-width="0.8"/>
<line x1="401.6" y1="328.68" x2="403.8" y2="328.68" stroke="#858585" stroke-width="1"/>
<text x="400.20" y="331.68" text-anchor="end" class="tk">0.3</text>
<line x1="403.8" y1="314.94" x2="405.1" y2="314.94" stroke="#858585" stroke-width="0.8"/>
<line x1="401.6" y1="301.20" x2="403.8" y2="301.20" stroke="#858585" stroke-width="1"/>
<text x="400.20" y="304.20" text-anchor="end" class="tk">0.4</text>
<line x1="403.80" y1="411.1" x2="403.80" y2="413.3" stroke="#858585" stroke-width="1"/>
<text x="403.80" y="422.00" text-anchor="middle" class="tk">300</text>
<line x1="426.53" y1="411.1" x2="426.53" y2="409.8" stroke="#858585" stroke-width="0.8"/>
<line x1="449.27" y1="411.1" x2="449.27" y2="413.3" stroke="#858585" stroke-width="1"/>
<text x="449.27" y="422.00" text-anchor="middle" class="tk">400</text>
<line x1="472.00" y1="411.1" x2="472.00" y2="409.8" stroke="#858585" stroke-width="0.8"/>
<line x1="494.73" y1="411.1" x2="494.73" y2="413.3" stroke="#858585" stroke-width="1"/>
<text x="494.73" y="422.00" text-anchor="middle" class="tk">500</text>
<line x1="517.47" y1="411.1" x2="517.47" y2="409.8" stroke="#858585" stroke-width="0.8"/>
<line x1="540.20" y1="411.1" x2="540.20" y2="413.3" stroke="#858585" stroke-width="1"/>
<text x="540.20" y="422.00" text-anchor="middle" class="tk">600</text>
<text transform="translate(386.20,357.15) rotate(-90)" text-anchor="middle" class="ax">Absorbance</text>
<text x="471.10" y="431.80" text-anchor="middle" class="ax">Wavelength (nm)</text>
<line x1="500.40" y1="305.00" x2="500.40" y2="355.70" stroke="#333" stroke-width="0.95"/>
<path d="M499.00,354.70 L501.80,354.70 L500.40,358.20 Z" fill="#222"/>
<line x1="502.70" y1="306.40" x2="517.90" y2="306.40" stroke="#505050" stroke-width="1"/>
<text x="519.50" y="309.20" class="lg" textLength="14.96" lengthAdjust="spacingAndGlyphs">0min</text>
<line x1="502.70" y1="314.68" x2="517.90" y2="314.68" stroke="#f25a5a" stroke-width="1"/>
<text x="519.50" y="317.48" class="lg" textLength="14.96" lengthAdjust="spacingAndGlyphs">5min</text>
<line x1="502.70" y1="322.96" x2="517.90" y2="322.96" stroke="#3a86dc" stroke-width="1"/>
<text x="519.50" y="325.76" class="lg" textLength="18.79" lengthAdjust="spacingAndGlyphs">10min</text>
<line x1="502.70" y1="331.24" x2="517.90" y2="331.24" stroke="#25b07a" stroke-width="1"/>
<text x="519.50" y="334.04" class="lg" textLength="18.79" lengthAdjust="spacingAndGlyphs">20min</text>
<line x1="502.70" y1="339.52" x2="517.90" y2="339.52" stroke="#c68ae6" stroke-width="1"/>
<text x="519.50" y="342.32" class="lg" textLength="18.79" lengthAdjust="spacingAndGlyphs">30min</text>
<line x1="502.70" y1="347.80" x2="517.90" y2="347.80" stroke="#e2b24a" stroke-width="1"/>
<text x="519.50" y="350.60" class="lg" textLength="18.79" lengthAdjust="spacingAndGlyphs">40min</text>
<line x1="502.70" y1="356.08" x2="517.90" y2="356.08" stroke="#2fd0d4" stroke-width="1"/>
<text x="519.50" y="358.88" class="lg" textLength="18.79" lengthAdjust="spacingAndGlyphs">50min</text>
<text x="365.8" y="312.1" class="pl">(i)</text>
<rect x="28.5" y="7.2" width="337" height="139.3" fill="none" stroke="#3c3c3c" stroke-width="1.1"/>
<line x1="122.2" y1="7.2" x2="122.2" y2="146.5" stroke="#3c3c3c" stroke-width="1.1"/>
<text x="4.8" y="23.3" class="pl">(a)</text>
<text x="124.1" y="23.3" class="pl">(b)</text>
<rect x="233.8" y="177.4" width="4.4" height="1.3" fill="#4a4a22" opacity="0.85"/>
<rect x="413.2" y="177.6" width="4.6" height="1.2" fill="#4a4a22" opacity="0.85"/>
<defs>
<linearGradient id="beamV" x1="0" y1="0" x2="0" y2="1">
  <stop offset="0" stop-color="#d870dc" stop-opacity="0.85"/>
  <stop offset="0.22" stop-color="#d058d4" stop-opacity="0.92"/>
  <stop offset="0.6" stop-color="#c83cca" stop-opacity="0.95"/>
  <stop offset="0.85" stop-color="#d464d4" stop-opacity="0.65"/>
  <stop offset="1" stop-color="#e090e0" stop-opacity="0.05"/>
</linearGradient>
<linearGradient id="beamH" x1="0" y1="0" x2="1" y2="0">
  <stop offset="0" stop-color="#fff" stop-opacity="1"/>
  <stop offset="0.5" stop-color="#fff" stop-opacity="0.75"/>
  <stop offset="1" stop-color="#fff" stop-opacity="1"/>
</linearGradient>
<filter id="blur1" x="-30%" y="-10%" width="160%" height="120%"><feGaussianBlur stdDeviation="1.6"/></filter>
<filter id="blur05"><feGaussianBlur stdDeviation="0.5"/></filter>
<radialGradient id="sph" cx="0.42" cy="0.36" r="0.66">
  <stop offset="0" stop-color="#b85ade"/>
  <stop offset="0.3" stop-color="#8a2fb8"/>
  <stop offset="0.75" stop-color="#6a1a98"/>
  <stop offset="1" stop-color="#44096c"/>
</radialGradient>
<radialGradient id="dot" cx="0.38" cy="0.35" r="0.7">
  <stop offset="0" stop-color="#d9a8f0"/>
  <stop offset="0.5" stop-color="#9446c8"/>
  <stop offset="1" stop-color="#5a1c8a"/>
</radialGradient>
<radialGradient id="dotb" cx="0.38" cy="0.35" r="0.7">
  <stop offset="0" stop-color="#c8a0e0"/>
  <stop offset="0.5" stop-color="#8a58b0"/>
  <stop offset="1" stop-color="#5a3a7a"/>
</radialGradient>
<linearGradient id="liq" x1="0" y1="0" x2="0" y2="1">
  <stop offset="0" stop-color="#f3eaa6"/>
  <stop offset="0.6" stop-color="#f7efae"/>
  <stop offset="0.72" stop-color="#ebe09a"/>
  <stop offset="1" stop-color="#e4d792"/>
</linearGradient>
<linearGradient id="lamp" x1="0" y1="0" x2="1" y2="0">
  <stop offset="0" stop-color="#222"/>
  <stop offset="0.45" stop-color="#5a5a5a"/>
  <stop offset="1" stop-color="#111"/>
</linearGradient>
<marker id="ahm" viewBox="0 0 10 10" refX="7" refY="5" markerWidth="3.6" markerHeight="3.6" orient="auto-start-reverse">
  <path d="M0,0 L10,5 L0,10 L3.5,5 Z" fill="#c81eaa"/>
</marker>
<marker id="ahU" viewBox="0 0 10 10" refX="7" refY="5" markerWidth="4.2" markerHeight="4.2" orient="auto">
  <path d="M0,0 L10,5 L0,10 L3.5,5 Z" fill="#c81eaa"/>
</marker>
<marker id="ahk" viewBox="0 0 10 10" refX="8" refY="5" markerWidth="5" markerHeight="5" orient="auto">
  <path d="M0,1 L10,5 L0,9 L2.5,5 Z" fill="#111"/>
</marker>
<marker id="ahp" viewBox="0 0 10 10" refX="6" refY="5" markerWidth="4.5" markerHeight="4.5" orient="auto">
  <path d="M0,0.5 L10,5 L0,9.5 L2.5,5 Z" fill="#de4edc"/>
</marker>
</defs>
<g filter="url(#blur1)">
<path d="M87.5,35 L89.1,35 L101.5,90 L75.5,90 Z" fill="url(#beamV)" opacity="0.5"/>
<path d="M87.9,35 L88.7,35 L98.5,88 L78.5,88 Z" fill="url(#beamV)"/>
</g>
<path d="M88.1,36 L88.5,36 L89.2,62 L87.4,62 Z" fill="#f0b8f0" opacity="0.3" filter="url(#blur05)"/>
<path d="M86.7,14 Q86.8,12.3 88.3,12.3 Q89.8,12.3 89.9,14 L90.9,30 L85.7,30 Z" fill="#242424"/>
<path d="M87.6,14 L88.5,14 L88.4,29 L87.2,29 Z" fill="#666"/>
<rect x="86.2" y="21.5" width="4.2" height="0.6" fill="#8a8a8a"/>
<rect x="86" y="25.5" width="4.7" height="0.6" fill="#8a8a8a"/>
<path d="M85.4,29.6 L91.2,29.6 L91.8,33.4 Q88.3,35.2 84.8,33.4 Z" fill="#3a3a3a"/>
<ellipse cx="88.3" cy="33.2" rx="2.6" ry="1.3" fill="#f2eef6"/>
<line x1="36.2" y1="32.2" x2="85" y2="32.2" stroke="#f58b6e" stroke-width="1.3" stroke-dasharray="3.2 2.3"/>
<line x1="38.2" y1="32.5" x2="38.2" y2="91.6" stroke="#f58b6e" stroke-width="1"/>
<line x1="35" y1="91.6" x2="44" y2="91.6" stroke="#f58b6e" stroke-width="1"/>
<rect x="32.5" y="52.5" width="18" height="8" fill="#fff"/>
<text x="33.2" y="59.2" class="sb" font-size="7.13" textLength="16.68" lengthAdjust="spacingAndGlyphs">28 cm</text>
<text x="94.4" y="34.5" class="sb" font-size="7.02" textLength="17.76" lengthAdjust="spacingAndGlyphs">250 W</text>
<path d="M73.4,106.5 L104.8,106.5 L103,141 Q102.6,144.2 98,144.2 L81,144.2 Q76.6,144.2 76.3,141 Z" fill="#f5f3f8" stroke="#d4d2da" stroke-width="0.5"/>
<path d="M77.2,120 Q89.9,114.8 102.6,120 L102.4,138.5 Q102.2,141.6 89.9,141.8 Q77.6,141.6 77.4,138.5 Z" fill="#f7efa6"/>
<path d="M77.3,135 L102.5,135 L102.4,138.5 Q102.2,141.6 89.9,141.8 Q77.6,141.6 77.4,138.5 Z" fill="#e6d690"/>
<ellipse cx="89.9" cy="135" rx="12.6" ry="1.2" fill="#f0e49c"/>
<ellipse cx="89.9" cy="120.2" rx="12.7" ry="3.9" fill="#e9d98e"/>
<ellipse cx="89.9" cy="122.6" rx="10.2" ry="2.3" fill="#f5eba2"/>
<ellipse cx="81" cy="121.2" rx="1.6" ry="1" fill="#d8c276" opacity="0.7"/>
<ellipse cx="98.8" cy="121.2" rx="1.6" ry="1" fill="#d8c276" opacity="0.7"/>
<path d="M56,98 L74,91 L120.5,92.3 L116,101 Z" fill="#f0708e"/>
<path d="M56,98 L116,101 L116,110.2 L56.5,105.8 Z" fill="#f690a8"/>
<path d="M56.5,99 L116,102" stroke="#fcc4d2" stroke-width="1"/>
<path d="M116,101 L120.5,92.3 L120.5,102.3 L116,110.2 Z" fill="#e8607e"/>
<circle cx="67.9" cy="94" r="1.45" fill="url(#dot)"/>
<circle cx="77.2" cy="91.4" r="1.45" fill="url(#dot)"/>
<circle cx="82.5" cy="92.7" r="1.45" fill="url(#dot)"/>
<circle cx="91.8" cy="93.2" r="1.45" fill="url(#dot)"/>
<circle cx="105.7" cy="92.3" r="1.45" fill="url(#dot)"/>
<circle cx="116.4" cy="93.2" r="1.45" fill="url(#dot)"/>
<circle cx="77.9" cy="95.2" r="1.45" fill="url(#dot)"/>
<circle cx="115" cy="96.3" r="1.45" fill="url(#dot)"/>
<circle cx="98" cy="95.5" r="1.45" fill="url(#dot)"/>
<circle cx="56" cy="98" r="1.45" fill="url(#dot)"/>
<circle cx="63.9" cy="98" r="1.45" fill="url(#dot)"/>
<circle cx="71.9" cy="98.9" r="1.45" fill="url(#dot)"/>
<circle cx="87.2" cy="99.3" r="1.45" fill="url(#dot)"/>
<circle cx="100.4" cy="99.9" r="1.45" fill="url(#dot)"/>
<circle cx="113.7" cy="100.9" r="1.45" fill="url(#dot)"/>
<circle cx="60.6" cy="104.9" r="1.45" fill="url(#dot)"/>
<circle cx="68.6" cy="105.6" r="1.45" fill="url(#dot)"/>
<circle cx="78.5" cy="102.7" r="1.45" fill="url(#dot)"/>
<circle cx="85.2" cy="106.9" r="1.45" fill="url(#dot)"/>
<circle cx="95.8" cy="108.2" r="1.45" fill="url(#dot)"/>
<circle cx="104.4" cy="105.6" r="1.45" fill="url(#dot)"/>
<circle cx="109.7" cy="108.9" r="1.45" fill="url(#dot)"/>
<text x="31.5" y="114.3" class="sb" font-size="6.91" textLength="33.77" lengthAdjust="spacingAndGlyphs">FPI/AMNPs</text>
<text x="31.5" y="122.2" class="sb" font-size="6.91" textLength="11.02" lengthAdjust="spacingAndGlyphs">film</text>
<text x="31.5" y="133.2" class="sb" font-size="6.91" textLength="27.98" lengthAdjust="spacingAndGlyphs">Curcumin</text>
<text x="31.5" y="139.8" class="sb" font-size="6.91" textLength="21.70" lengthAdjust="spacingAndGlyphs">solution</text>
<line x1="45.6" y1="107.9" x2="54.6" y2="101.2" stroke="#111" stroke-width="0.9" marker-end="url(#ahk)"/>
<line x1="59.6" y1="131.2" x2="73" y2="131.2" stroke="#111" stroke-width="0.9" marker-end="url(#ahk)"/>
<text x="125.8" y="44.5" class="sb" font-size="12.10" textLength="16.18" lengthAdjust="spacingAndGlyphs" style="fill:#c81eaa;stroke:#c81eaa">UV</text>
<path d="M148.8,36.2 L166.2,36.2 L181.6,16.1 L161.4,16.1 Z" fill="#f2b4c0"/>
<path d="M166.2,36.2 L181.6,16.1 L181.6,113.5 L166.2,130 Z" fill="#eeacb9"/>
<rect x="147.6" y="36.2" width="18.6" height="93.8" fill="#f9ccd4"/>
<line x1="166.2" y1="36.2" x2="166.2" y2="130" stroke="#f5b5c2" stroke-width="0.6"/>
<circle cx="170.6" cy="19.8" r="1.9" fill="url(#dotb)"/>
<circle cx="158.2" cy="31.4" r="1.9" fill="url(#dotb)"/>
<circle cx="164.9" cy="29.6" r="1.9" fill="url(#dotb)"/>
<circle cx="177.3" cy="31.9" r="1.9" fill="url(#dotb)"/>
<circle cx="161.3" cy="48.8" r="1.9" fill="url(#dotb)"/>
<circle cx="152" cy="63.7" r="1.9" fill="url(#dotb)"/>
<circle cx="152" cy="78.8" r="1.9" fill="url(#dotb)"/>
<circle cx="160.1" cy="88.5" r="1.9" fill="url(#dotb)"/>
<circle cx="159" cy="101" r="1.9" fill="url(#dotb)"/>
<circle cx="160.6" cy="111.1" r="1.9" fill="url(#dotb)"/>
<circle cx="151.9" cy="126.7" r="1.9" fill="url(#dotb)"/>
<circle cx="176.7" cy="46.5" r="1.9" fill="url(#dotb)"/>
<circle cx="172.7" cy="56.7" r="1.9" fill="url(#dotb)"/>
<circle cx="177" cy="74" r="1.9" fill="url(#dotb)"/>
<circle cx="172.6" cy="86.2" r="1.9" fill="url(#dotb)"/>
<circle cx="177.8" cy="96" r="1.9" fill="url(#dotb)"/>
<circle cx="172.9" cy="106.5" r="1.9" fill="url(#dotb)"/>
<circle cx="170.5" cy="118" r="1.9" fill="url(#dotb)"/>
<path d="M152,45.9 L153.5,48 L152,50.1 L150.5,48 Z" fill="#1cc4c8"/>
<path d="M159.8,56.199999999999996 L161.3,58.3 L159.8,60.4 L158.3,58.3 Z" fill="#1cc4c8"/>
<path d="M160.5,72.4 L162.0,74.5 L160.5,76.6 L159.0,74.5 Z" fill="#1cc4c8"/>
<path d="M150.7,94.7 L152.2,96.8 L150.7,98.89999999999999 L149.2,96.8 Z" fill="#1cc4c8"/>
<path d="M150.7,110.7 L152.2,112.8 L150.7,114.89999999999999 L149.2,112.8 Z" fill="#1cc4c8"/>
<path d="M160.1,124.60000000000001 L161.6,126.7 L160.1,128.8 L158.6,126.7 Z" fill="#1cc4c8"/>
<path d="M172.5,37.0 L173.9,39 L172.5,41.0 L171.1,39 Z" fill="#8896ae"/>
<path d="M170.7,46.0 L172.1,48 L170.7,50.0 L169.29999999999998,48 Z" fill="#8896ae"/>
<path d="M177,61.6 L178.4,63.6 L177,65.6 L175.6,63.6 Z" fill="#8896ae"/>
<path d="M173.5,69.5 L174.9,71.5 L173.5,73.5 L172.1,71.5 Z" fill="#8896ae"/>
<path d="M179.5,82.5 L180.9,84.5 L179.5,86.5 L178.1,84.5 Z" fill="#8896ae"/>
<path d="M171.6,96.0 L173.0,98 L171.6,100.0 L170.2,98 Z" fill="#8896ae"/>
<path d="M179.2,107.5 L180.6,109.5 L179.2,111.5 L177.79999999999998,109.5 Z" fill="#8896ae"/>
<line x1="125.4" y1="48.6" x2="148.0" y2="59.85" stroke="#c81eaa" stroke-width="2.2" marker-end="url(#ahU)"/>
<line x1="124.2" y1="58.8" x2="147.3" y2="70.35" stroke="#c81eaa" stroke-width="2.2" marker-end="url(#ahU)"/>
<line x1="124.2" y1="70.4" x2="148.0" y2="81.85" stroke="#c81eaa" stroke-width="2.2" marker-end="url(#ahU)"/>
<text x="147" y="140.6" class="sb" font-size="6.80" textLength="45.67" lengthAdjust="spacingAndGlyphs">FPI/AMNPs film</text>
<rect x="169.3" y="67" width="12" height="11.8" rx="2.5" stroke="#f58b6e" stroke-width="1.25" stroke-dasharray="3.8 3" fill="none"/>
<path d="M181.3,67 L201.5,21.5" stroke="#f58b6e" stroke-width="1.25" stroke-dasharray="3.8 3" fill="none"/>
<path d="M181.3,78.8 L204,125" stroke="#f58b6e" stroke-width="1.25" stroke-dasharray="3.8 3" fill="none"/>
<rect x="196.9" y="16.8" width="163" height="112.5" rx="15" stroke="#f58b6e" stroke-width="1.25" stroke-dasharray="3.8 3" fill="none" stroke-width="1.2"/>
<path d="M281.24,24.36 L282.80,18.70 L284.36,24.36 Z" fill="#f9d531"/>
<path d="M284.21,24.31 L288.80,20.65 L286.73,26.14 Z" fill="#f9d531"/>
<path d="M286.64,26.02 L292.50,25.75 L287.60,28.98 Z" fill="#f9d531"/>
<path d="M287.60,28.82 L292.50,32.05 L286.64,31.78 Z" fill="#f9d531"/>
<path d="M286.73,31.66 L288.80,37.15 L284.21,33.49 Z" fill="#f9d531"/>
<path d="M284.36,33.44 L282.80,39.10 L281.24,33.44 Z" fill="#f9d531"/>
<path d="M281.39,33.49 L276.80,37.15 L278.87,31.66 Z" fill="#f9d531"/>
<path d="M278.96,31.78 L273.10,32.05 L278.00,28.82 Z" fill="#f9d531"/>
<path d="M278.00,28.98 L273.10,25.75 L278.96,26.02 Z" fill="#f9d531"/>
<path d="M278.87,26.14 L276.80,20.65 L281.39,24.31 Z" fill="#f9d531"/>
<radialGradient id="sunf" cx="0.45" cy="0.4" r="0.6"><stop offset="0" stop-color="#fff27a"/><stop offset="1" stop-color="#f9c81c"/></radialGradient>
<circle cx="282.8" cy="28.9" r="5.6" fill="url(#sunf)"/>
<path d="M277.8,27.299999999999997 L287.8,27.299999999999997 L287.2,29.799999999999997 Q285.40000000000003,30.599999999999998 283.5,29.099999999999998 L282.1,29.099999999999998 Q280.2,30.599999999999998 278.40000000000003,29.799999999999997 Z" fill="#1a2f6a"/>
<ellipse cx="280.3" cy="28.4" rx="1.6" ry="0.9" fill="#2a8ae0"/>
<ellipse cx="285.3" cy="28.4" rx="1.6" ry="0.9" fill="#2a8ae0"/>
<circle cx="239.2" cy="70.2" r="21.6" fill="url(#sph)"/>
<circle cx="225.6" cy="119.4" r="3.6" fill="url(#sph)"/>
<text x="231.6" y="121.8" class="sb" font-size="6.91" textLength="21.68" lengthAdjust="spacingAndGlyphs">AMNPs</text>
<path d="M306.4,113.6 L310.9,118.8 L306.4,124.2 L302,118.8 Z" fill="#1fb8b8"/>
<path d="M306.4,113.6 L310.9,118.8 L306.4,124.2 Z" fill="#28e0e0"/>
<path d="M302,118.8 L306.4,124.2 L306.4,119.6 Z" fill="#108a8a"/>
<text x="313.8" y="122.2" class="sb" font-size="6.91" textLength="13.51" lengthAdjust="spacingAndGlyphs">CTC</text>
<path d="M318,44.6 L299.4,70.4 L317.3,64 Z" fill="#2cc2c2"/>
<path d="M318,44.6 L317.3,64 L337.7,70.6 Z" fill="#1ea6a6"/>
<path d="M299.4,70.4 L317.3,64 L318.6,96.8 Z" fill="#0f8080"/>
<path d="M317.3,64 L337.7,70.6 L318.6,96.8 Z" fill="#27e6e6"/>
<text x="206.2" y="35.6" class="sb" font-size="6.91" textLength="29.52" lengthAdjust="spacingAndGlyphs">absorption</text>
<text x="327.4" y="34.7" class="sb" font-size="6.91" textLength="29.52" lengthAdjust="spacingAndGlyphs">absorption</text>
<text x="275" y="108.8" class="sb" font-size="6.91" textLength="29.52" lengthAdjust="spacingAndGlyphs">absorption</text>
<text x="200.4" y="108.6" class="sb" font-size="6.91" textLength="37.73" lengthAdjust="spacingAndGlyphs">reflected light</text>
<text x="274.2" y="79.6" class="sb" font-size="6.91" textLength="11.73" lengthAdjust="spacingAndGlyphs">heat</text>
<text x="346.6" y="85.2" class="sb" font-size="6.91" textLength="11.73" lengthAdjust="spacingAndGlyphs">heat</text>
<text x="335" y="103.8" class="sb" font-size="6.91" textLength="11.73" lengthAdjust="spacingAndGlyphs">heat</text>
<line x1="212.3" y1="37.3" x2="226.4" y2="49.9" stroke="#c81eaa" stroke-width="1.3" marker-end="url(#ahm)"/>
<line x1="206.9" y1="42.8" x2="221" y2="54.7" stroke="#c81eaa" stroke-width="1.3" marker-end="url(#ahm)"/>
<line x1="202.6" y1="49.3" x2="216.7" y2="61.2" stroke="#c81eaa" stroke-width="1.3" marker-end="url(#ahm)"/>
<line x1="340.3" y1="39.7" x2="325" y2="48.7" stroke="#c81eaa" stroke-width="1.3" marker-end="url(#ahm)"/>
<line x1="345.4" y1="46.1" x2="330" y2="55.8" stroke="#c81eaa" stroke-width="1.3" marker-end="url(#ahm)"/>
<line x1="350.5" y1="53.8" x2="335.2" y2="63.5" stroke="#c81eaa" stroke-width="1.3" marker-end="url(#ahm)"/>
<path d="M248.10,48.20 L248.88,47.72 L249.26,47.31 L249.04,46.98 L248.29,46.73 L247.35,46.51 L246.64,46.26 L246.48,45.92 L246.92,45.49 L247.73,45.01 L248.48,44.54 L248.80,44.13 L248.51,43.82 L247.72,43.57 L246.78,43.35 L246.12,43.09 L246.04,42.74 L246.54,42.31 L247.36,41.83 L248.08,41.36 L248.34,40.96 L247.98,40.65 L247.15,40.42 L246.22,40.19 L245.62,39.92 L245.60,39.56 L246.15,39.12 L246.98,38.64 L247.67,38.18 L247.86,37.79 L247.43,37.49 L246.57,37.26 L245.66,37.03 L245.12,36.75 L245.17,36.39 L245.85,35.92 L246.47,35.47 L246.71,35.08 L246.53,34.74 L246.19,34.43 L246.00,34.10" stroke="#de4edc" stroke-width="1.0" fill="none" marker-end="url(#ahp)"/>
<path d="M251.80,50.40 L252.69,50.61 L253.25,50.59 L253.31,50.20 L252.95,49.51 L252.42,48.70 L252.09,48.02 L252.21,47.68 L252.82,47.69 L253.73,47.92 L254.59,48.11 L255.10,48.05 L255.11,47.63 L254.71,46.91 L254.19,46.10 L253.90,45.46 L254.08,45.15 L254.74,45.20 L255.65,45.43 L256.50,45.61 L256.95,45.51 L256.91,45.05 L256.47,44.30 L255.97,43.50 L255.72,42.89 L255.95,42.63 L256.65,42.71 L257.58,42.95 L258.39,43.11 L258.79,42.97 L258.69,42.46 L258.24,41.70 L257.74,40.91 L257.54,40.34 L257.83,40.11 L258.64,40.27 L259.40,40.39 L259.83,40.27 L259.94,39.92 L259.91,39.47 L260.00,39.10" stroke="#de4edc" stroke-width="1.0" fill="none" marker-end="url(#ahp)"/>
<path d="M256.80,55.80 L257.60,56.32 L258.20,56.48 L258.49,56.11 L258.52,55.28 L258.45,54.28 L258.50,53.49 L258.83,53.18 L259.46,53.40 L260.27,53.93 L261.06,54.42 L261.62,54.53 L261.88,54.10 L261.89,53.24 L261.83,52.24 L261.90,51.50 L262.27,51.25 L262.92,51.51 L263.74,52.06 L264.51,52.53 L265.05,52.58 L265.27,52.09 L265.26,51.19 L265.20,50.21 L265.31,49.51 L265.70,49.32 L266.39,49.63 L267.21,50.19 L267.96,50.62 L268.46,50.62 L268.66,50.07 L268.63,49.15 L268.58,48.18 L268.71,47.53 L269.14,47.40 L269.89,47.83 L270.61,48.20 L271.14,48.23 L271.45,47.91 L271.69,47.44 L272.00,47.10" stroke="#de4edc" stroke-width="1.0" fill="none" marker-end="url(#ahp)"/>
<path d="M220.00,82.90 L219.23,82.32 L218.62,82.10 L218.25,82.45 L218.10,83.29 L218.02,84.31 L217.85,85.10 L217.46,85.39 L216.83,85.12 L216.04,84.52 L215.28,83.96 L214.70,83.80 L214.36,84.22 L214.22,85.09 L214.15,86.10 L213.96,86.85 L213.53,87.07 L212.88,86.75 L212.09,86.13 L211.34,85.60 L210.78,85.51 L210.47,85.98 L210.35,86.89 L210.27,87.89 L210.05,88.59 L209.61,88.75 L208.93,88.38 L208.13,87.75 L207.40,87.26 L206.87,87.22 L206.58,87.76 L206.47,88.70 L206.39,89.68 L206.15,90.33 L205.67,90.42 L204.94,89.93 L204.23,89.49 L203.68,89.42 L203.30,89.73 L202.98,90.18 L202.60,90.50" stroke="#de4edc" stroke-width="1.0" fill="none" marker-end="url(#ahp)"/>
<path d="M225.40,89.40 L224.51,89.21 L223.95,89.25 L223.91,89.63 L224.31,90.31 L224.86,91.09 L225.22,91.74 L225.12,92.08 L224.51,92.09 L223.61,91.89 L222.74,91.71 L222.23,91.78 L222.25,92.20 L222.68,92.90 L223.23,93.68 L223.55,94.31 L223.39,94.61 L222.73,94.58 L221.81,94.37 L220.97,94.22 L220.52,94.32 L220.59,94.78 L221.05,95.50 L221.59,96.28 L221.87,96.87 L221.65,97.13 L220.95,97.07 L220.02,96.86 L219.21,96.72 L218.81,96.87 L218.94,97.36 L219.43,98.10 L219.95,98.87 L220.18,99.43 L219.90,99.65 L219.09,99.52 L218.34,99.42 L217.91,99.54 L217.82,99.90 L217.87,100.34 L217.80,100.70" stroke="#de4edc" stroke-width="1.0" fill="none" marker-end="url(#ahp)"/>
<path d="M235.10,92.70 L234.21,92.66 L233.69,92.77 L233.75,93.10 L234.30,93.63 L235.02,94.23 L235.53,94.75 L235.52,95.06 L234.95,95.14 L234.04,95.09 L233.17,95.06 L232.71,95.19 L232.83,95.55 L233.42,96.10 L234.14,96.70 L234.60,97.19 L234.53,97.48 L233.90,97.54 L232.98,97.48 L232.14,97.46 L231.74,97.62 L231.92,98.00 L232.55,98.56 L233.26,99.16 L233.67,99.64 L233.53,99.89 L232.85,99.94 L231.92,99.88 L231.11,99.87 L230.78,100.05 L231.02,100.46 L231.67,101.03 L232.37,101.62 L232.73,102.08 L232.52,102.31 L231.72,102.30 L230.98,102.32 L230.61,102.48 L230.62,102.80 L230.78,103.18 L230.80,103.50" stroke="#de4edc" stroke-width="1.0" fill="none" marker-end="url(#ahp)"/>
<path d="M282.80,87.00 L283.70,87.48 L284.42,87.60 L284.84,87.18 L285.03,86.29 L285.12,85.22 L285.32,84.37 L285.78,84.01 L286.53,84.18 L287.44,84.68 L288.33,85.14 L289.01,85.21 L289.41,84.72 L289.57,83.79 L289.67,82.73 L289.89,81.92 L290.39,81.63 L291.15,81.85 L292.07,82.37 L292.95,82.79 L293.60,82.80 L293.97,82.26 L294.11,81.30 L294.21,80.25 L294.47,79.49 L294.99,79.25 L295.79,79.52 L296.71,80.05 L297.57,80.44 L298.19,80.39 L298.53,79.79 L298.66,78.80 L298.77,77.76 L299.04,77.05 L299.60,76.88 L300.46,77.27 L301.28,77.61 L301.93,77.59 L302.38,77.21 L302.76,76.69 L303.20,76.30" stroke="#de4edc" stroke-width="1.0" fill="none" marker-end="url(#ahp)"/>
<path d="M286.60,94.70 L287.50,95.18 L288.22,95.30 L288.64,94.88 L288.83,93.99 L288.92,92.92 L289.12,92.07 L289.58,91.71 L290.33,91.88 L291.24,92.38 L292.13,92.84 L292.81,92.91 L293.21,92.42 L293.37,91.49 L293.47,90.43 L293.69,89.62 L294.19,89.33 L294.95,89.55 L295.87,90.07 L296.75,90.49 L297.40,90.50 L297.77,89.96 L297.91,89.00 L298.01,87.95 L298.27,87.19 L298.79,86.95 L299.59,87.22 L300.51,87.75 L301.37,88.14 L301.99,88.09 L302.33,87.49 L302.46,86.50 L302.57,85.46 L302.84,84.75 L303.40,84.58 L304.26,84.97 L305.08,85.31 L305.73,85.29 L306.18,84.91 L306.56,84.39 L307.00,84.00" stroke="#de4edc" stroke-width="1.0" fill="none" marker-end="url(#ahp)"/>
<path d="M293.00,102.30 L293.89,102.77 L294.59,102.89 L294.98,102.47 L295.12,101.58 L295.16,100.53 L295.32,99.68 L295.74,99.32 L296.47,99.49 L297.37,99.98 L298.25,100.43 L298.91,100.49 L299.27,100.01 L299.39,99.09 L299.43,98.04 L299.62,97.24 L300.08,96.94 L300.83,97.16 L301.74,97.66 L302.60,98.08 L303.23,98.09 L303.56,97.55 L303.66,96.59 L303.71,95.55 L303.92,94.80 L304.42,94.56 L305.19,94.83 L306.11,95.34 L306.95,95.73 L307.55,95.67 L307.85,95.08 L307.93,94.10 L307.99,93.07 L308.22,92.37 L308.76,92.19 L309.60,92.58 L310.41,92.90 L311.03,92.89 L311.45,92.51 L311.79,91.99 L312.20,91.60" stroke="#de4edc" stroke-width="1.0" fill="none" marker-end="url(#ahp)"/>
<path d="M260.70,72.88 L265.25,69.85 L270.60,77.19 L271.24,74.37 L277.75,84.94 L271.08,78.59 L269.86,81.46 Z" fill="#f79a1e"/>
<path d="M257.44,83.62 L262.04,80.71 L266.86,88.00 L267.64,85.24 L273.42,95.71 L267.25,89.38 L265.91,92.18 Z" fill="#f79a1e"/>
<path d="M334.56,74.54 L339.57,72.43 L343.11,80.39 L344.33,77.81 L348.28,89.07 L343.26,81.82 L341.47,84.36 Z" fill="#f79a1e"/>
<path d="M328.22,83.51 L333.10,81.15 L336.70,88.68 L337.85,86.09 L341.91,96.81 L336.87,90.06 L335.16,92.65 Z" fill="#f79a1e"/>
<path d="M323.13,92.31 L328.09,90.17 L331.01,97.60 L332.35,95.12 L335.47,105.65 L331.07,98.95 L329.20,101.40 Z" fill="#f79a1e"/>
</svg></body></html>
